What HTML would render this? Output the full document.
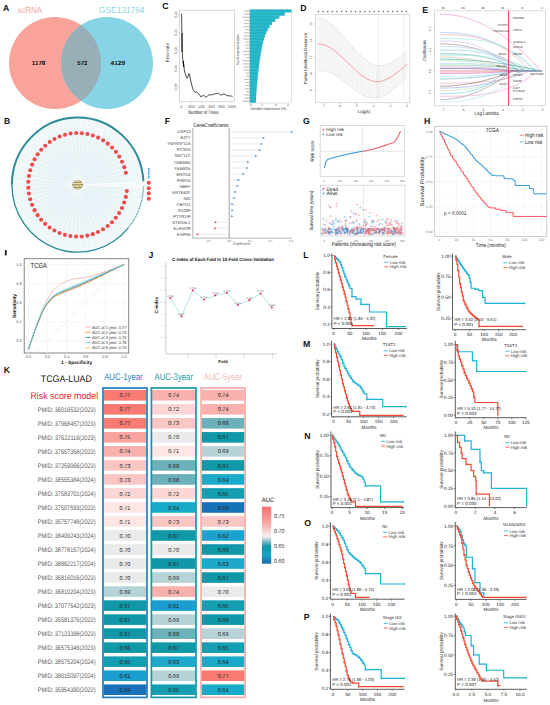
<!DOCTYPE html>
<html><head><meta charset="utf-8"><style>
html,body{margin:0;padding:0;background:#fff;width:550px;height:705px;overflow:hidden}
svg{display:block}
text{text-rendering:geometricPrecision;font-family:"Liberation Sans", sans-serif}
</style></head><body>
<svg width="550" height="705" viewBox="0 0 550 705">
<rect width="550" height="705" fill="#fff"/>
<text x="3.10" y="11.30" font-size="8.7" fill="#111" text-anchor="start" font-weight="bold">A</text>
<text x="17.50" y="13.00" font-size="8.6" fill="#f5a39c" text-anchor="start" font-weight="normal" textLength="24.5" lengthAdjust="spacingAndGlyphs">scRNA</text>
<text x="99.00" y="12.70" font-size="8.6" fill="#8fd6e6" text-anchor="start" font-weight="normal" textLength="45.5" lengthAdjust="spacingAndGlyphs">GSE131794</text>
<defs><clipPath id="cl"><circle cx="55" cy="63" r="46"/></clipPath></defs>
<circle cx="55" cy="63" r="46" fill="#f9a39b"/>
<circle cx="107" cy="63" r="46" fill="#86d4e5"/>
<circle cx="107" cy="63" r="46" fill="#99afb8" clip-path="url(#cl)"/>
<text x="38.60" y="64.80" font-size="6.0" fill="#111" text-anchor="middle" font-weight="bold" textLength="13.5" lengthAdjust="spacingAndGlyphs">1178</text>
<text x="82.30" y="64.80" font-size="6.0" fill="#111" text-anchor="middle" font-weight="bold" textLength="10" lengthAdjust="spacingAndGlyphs">572</text>
<text x="117.80" y="64.80" font-size="6.0" fill="#111" text-anchor="middle" font-weight="bold" textLength="14.5" lengthAdjust="spacingAndGlyphs">4129</text>
<text x="3.90" y="124.00" font-size="8.7" fill="#111" text-anchor="start" font-weight="bold">B</text>
<defs><radialGradient id="bg" cx="0.5" cy="0.5" r="0.5"><stop offset="0" stop-color="#cfe6ef"/><stop offset="0.35" stop-color="#e2f0f5"/><stop offset="1" stop-color="#f1f8fa"/></radialGradient></defs>
<ellipse cx="77.7" cy="184.8" rx="65.8" ry="67.3" fill="url(#bg)"/>
<line x1="77.70" y1="184.80" x2="143.42" y2="188.10" stroke="#ffffff" stroke-width="0.7" opacity="0.9"/>
<line x1="77.70" y1="184.80" x2="142.79" y2="194.67" stroke="#ffffff" stroke-width="0.7" opacity="0.9"/>
<line x1="77.70" y1="184.80" x2="141.53" y2="201.15" stroke="#ffffff" stroke-width="0.7" opacity="0.9"/>
<line x1="77.70" y1="184.80" x2="139.65" y2="207.47" stroke="#ffffff" stroke-width="0.7" opacity="0.9"/>
<line x1="77.70" y1="184.80" x2="137.18" y2="213.57" stroke="#ffffff" stroke-width="0.7" opacity="0.9"/>
<line x1="77.70" y1="184.80" x2="134.14" y2="219.40" stroke="#ffffff" stroke-width="0.7" opacity="0.9"/>
<line x1="77.70" y1="184.80" x2="130.55" y2="224.89" stroke="#ffffff" stroke-width="0.7" opacity="0.9"/>
<line x1="77.70" y1="184.80" x2="126.45" y2="230.00" stroke="#ffffff" stroke-width="0.7" opacity="0.9"/>
<line x1="77.70" y1="184.80" x2="121.89" y2="234.67" stroke="#ffffff" stroke-width="0.7" opacity="0.9"/>
<line x1="77.70" y1="184.80" x2="116.90" y2="238.86" stroke="#ffffff" stroke-width="0.7" opacity="0.9"/>
<line x1="77.70" y1="184.80" x2="111.53" y2="242.53" stroke="#ffffff" stroke-width="0.7" opacity="0.9"/>
<line x1="77.70" y1="184.80" x2="105.83" y2="245.64" stroke="#ffffff" stroke-width="0.7" opacity="0.9"/>
<line x1="77.70" y1="184.80" x2="99.87" y2="248.17" stroke="#ffffff" stroke-width="0.7" opacity="0.9"/>
<line x1="77.70" y1="184.80" x2="93.69" y2="250.08" stroke="#ffffff" stroke-width="0.7" opacity="0.9"/>
<line x1="77.70" y1="184.80" x2="87.35" y2="251.37" stroke="#ffffff" stroke-width="0.7" opacity="0.9"/>
<line x1="77.70" y1="184.80" x2="80.93" y2="252.02" stroke="#ffffff" stroke-width="0.7" opacity="0.9"/>
<line x1="77.70" y1="184.80" x2="74.47" y2="252.02" stroke="#ffffff" stroke-width="0.7" opacity="0.9"/>
<line x1="77.70" y1="184.80" x2="68.05" y2="251.37" stroke="#ffffff" stroke-width="0.7" opacity="0.9"/>
<line x1="77.70" y1="184.80" x2="61.71" y2="250.08" stroke="#ffffff" stroke-width="0.7" opacity="0.9"/>
<line x1="77.70" y1="184.80" x2="55.53" y2="248.17" stroke="#ffffff" stroke-width="0.7" opacity="0.9"/>
<line x1="77.70" y1="184.80" x2="49.57" y2="245.64" stroke="#ffffff" stroke-width="0.7" opacity="0.9"/>
<line x1="77.70" y1="184.80" x2="43.87" y2="242.53" stroke="#ffffff" stroke-width="0.7" opacity="0.9"/>
<line x1="77.70" y1="184.80" x2="38.50" y2="238.86" stroke="#ffffff" stroke-width="0.7" opacity="0.9"/>
<line x1="77.70" y1="184.80" x2="33.51" y2="234.67" stroke="#ffffff" stroke-width="0.7" opacity="0.9"/>
<line x1="77.70" y1="184.80" x2="28.95" y2="230.00" stroke="#ffffff" stroke-width="0.7" opacity="0.9"/>
<line x1="77.70" y1="184.80" x2="24.85" y2="224.89" stroke="#ffffff" stroke-width="0.7" opacity="0.9"/>
<line x1="77.70" y1="184.80" x2="21.26" y2="219.40" stroke="#ffffff" stroke-width="0.7" opacity="0.9"/>
<line x1="77.70" y1="184.80" x2="18.22" y2="213.57" stroke="#ffffff" stroke-width="0.7" opacity="0.9"/>
<line x1="77.70" y1="184.80" x2="15.75" y2="207.47" stroke="#ffffff" stroke-width="0.7" opacity="0.9"/>
<line x1="77.70" y1="184.80" x2="13.87" y2="201.15" stroke="#ffffff" stroke-width="0.7" opacity="0.9"/>
<line x1="77.70" y1="184.80" x2="12.61" y2="194.67" stroke="#ffffff" stroke-width="0.7" opacity="0.9"/>
<line x1="77.70" y1="184.80" x2="11.98" y2="188.10" stroke="#ffffff" stroke-width="0.7" opacity="0.9"/>
<line x1="77.70" y1="184.80" x2="11.98" y2="181.50" stroke="#ffffff" stroke-width="0.7" opacity="0.9"/>
<line x1="77.70" y1="184.80" x2="12.61" y2="174.93" stroke="#ffffff" stroke-width="0.7" opacity="0.9"/>
<line x1="77.70" y1="184.80" x2="13.87" y2="168.45" stroke="#ffffff" stroke-width="0.7" opacity="0.9"/>
<line x1="77.70" y1="184.80" x2="15.75" y2="162.13" stroke="#ffffff" stroke-width="0.7" opacity="0.9"/>
<line x1="77.70" y1="184.80" x2="18.22" y2="156.03" stroke="#ffffff" stroke-width="0.7" opacity="0.9"/>
<line x1="77.70" y1="184.80" x2="21.26" y2="150.20" stroke="#ffffff" stroke-width="0.7" opacity="0.9"/>
<line x1="77.70" y1="184.80" x2="24.85" y2="144.71" stroke="#ffffff" stroke-width="0.7" opacity="0.9"/>
<line x1="77.70" y1="184.80" x2="28.95" y2="139.60" stroke="#ffffff" stroke-width="0.7" opacity="0.9"/>
<line x1="77.70" y1="184.80" x2="33.51" y2="134.93" stroke="#ffffff" stroke-width="0.7" opacity="0.9"/>
<line x1="77.70" y1="184.80" x2="38.50" y2="130.74" stroke="#ffffff" stroke-width="0.7" opacity="0.9"/>
<line x1="77.70" y1="184.80" x2="43.87" y2="127.07" stroke="#ffffff" stroke-width="0.7" opacity="0.9"/>
<line x1="77.70" y1="184.80" x2="49.57" y2="123.96" stroke="#ffffff" stroke-width="0.7" opacity="0.9"/>
<line x1="77.70" y1="184.80" x2="55.53" y2="121.43" stroke="#ffffff" stroke-width="0.7" opacity="0.9"/>
<line x1="77.70" y1="184.80" x2="61.71" y2="119.52" stroke="#ffffff" stroke-width="0.7" opacity="0.9"/>
<line x1="77.70" y1="184.80" x2="68.05" y2="118.23" stroke="#ffffff" stroke-width="0.7" opacity="0.9"/>
<line x1="77.70" y1="184.80" x2="74.47" y2="117.58" stroke="#ffffff" stroke-width="0.7" opacity="0.9"/>
<line x1="77.70" y1="184.80" x2="80.93" y2="117.58" stroke="#ffffff" stroke-width="0.7" opacity="0.9"/>
<line x1="77.70" y1="184.80" x2="87.35" y2="118.23" stroke="#ffffff" stroke-width="0.7" opacity="0.9"/>
<line x1="77.70" y1="184.80" x2="93.69" y2="119.52" stroke="#ffffff" stroke-width="0.7" opacity="0.9"/>
<line x1="77.70" y1="184.80" x2="99.87" y2="121.43" stroke="#ffffff" stroke-width="0.7" opacity="0.9"/>
<line x1="77.70" y1="184.80" x2="105.83" y2="123.96" stroke="#ffffff" stroke-width="0.7" opacity="0.9"/>
<line x1="77.70" y1="184.80" x2="111.53" y2="127.07" stroke="#ffffff" stroke-width="0.7" opacity="0.9"/>
<line x1="77.70" y1="184.80" x2="116.90" y2="130.74" stroke="#ffffff" stroke-width="0.7" opacity="0.9"/>
<line x1="77.70" y1="184.80" x2="121.89" y2="134.93" stroke="#ffffff" stroke-width="0.7" opacity="0.9"/>
<line x1="77.70" y1="184.80" x2="126.45" y2="139.60" stroke="#ffffff" stroke-width="0.7" opacity="0.9"/>
<line x1="77.70" y1="184.80" x2="130.55" y2="144.71" stroke="#ffffff" stroke-width="0.7" opacity="0.9"/>
<line x1="77.70" y1="184.80" x2="134.14" y2="150.20" stroke="#ffffff" stroke-width="0.7" opacity="0.9"/>
<line x1="77.70" y1="184.80" x2="137.18" y2="156.03" stroke="#ffffff" stroke-width="0.7" opacity="0.9"/>
<line x1="77.70" y1="184.80" x2="139.65" y2="162.13" stroke="#ffffff" stroke-width="0.7" opacity="0.9"/>
<line x1="77.70" y1="184.80" x2="141.53" y2="168.45" stroke="#ffffff" stroke-width="0.7" opacity="0.9"/>
<line x1="77.70" y1="184.80" x2="142.79" y2="174.93" stroke="#ffffff" stroke-width="0.7" opacity="0.9"/>
<line x1="77.70" y1="184.80" x2="143.42" y2="181.50" stroke="#ffffff" stroke-width="0.7" opacity="0.9"/>
<line x1="77.70" y1="184.80" x2="143.44" y2="181.98" stroke="#ffffff" stroke-width="0.6" opacity="0.8"/>
<line x1="77.70" y1="184.80" x2="143.47" y2="182.92" stroke="#ffffff" stroke-width="0.6" opacity="0.8"/>
<line x1="77.70" y1="184.80" x2="143.49" y2="183.86" stroke="#ffffff" stroke-width="0.6" opacity="0.8"/>
<line x1="77.70" y1="184.80" x2="143.50" y2="184.80" stroke="#ffffff" stroke-width="0.6" opacity="0.8"/>
<line x1="77.70" y1="184.80" x2="143.49" y2="185.74" stroke="#ffffff" stroke-width="0.6" opacity="0.8"/>
<line x1="77.70" y1="184.80" x2="143.47" y2="186.68" stroke="#ffffff" stroke-width="0.6" opacity="0.8"/>
<line x1="77.70" y1="184.80" x2="143.44" y2="187.62" stroke="#ffffff" stroke-width="0.6" opacity="0.8"/>
<path d="M143.41,181.28 A65.8,67.3 0 0 0 11.90,184.80" fill="none" stroke="#2a8a99" stroke-width="2.0"/>
<path d="M11.90,184.80 A65.8,67.3 0 0 0 128.11,228.06" fill="none" stroke="#2a8a99" stroke-width="1.3"/>
<path d="M128.11,228.06 A65.8,67.3 0 0 0 143.48,186.56" fill="none" stroke="#2a8a99" stroke-width="1.2" stroke-dasharray="0.9,0.8"/>
<circle cx="126.83" cy="191.11" r="2.05" fill="#ee4a4a"/>
<circle cx="125.83" cy="196.92" r="2.05" fill="#ee4a4a"/>
<circle cx="124.20" cy="202.57" r="2.05" fill="#ee4a4a"/>
<circle cx="121.96" cy="207.99" r="2.05" fill="#ee4a4a"/>
<circle cx="119.16" cy="213.11" r="2.05" fill="#ee4a4a"/>
<circle cx="115.81" cy="217.86" r="2.05" fill="#ee4a4a"/>
<circle cx="111.97" cy="222.18" r="2.05" fill="#ee4a4a"/>
<circle cx="107.69" cy="226.01" r="2.05" fill="#ee4a4a"/>
<circle cx="103.01" cy="229.32" r="2.05" fill="#ee4a4a"/>
<circle cx="98.01" cy="232.04" r="2.05" fill="#ee4a4a"/>
<circle cx="92.74" cy="234.15" r="2.05" fill="#ee4a4a"/>
<circle cx="87.28" cy="235.62" r="2.05" fill="#ee4a4a"/>
<circle cx="81.70" cy="236.43" r="2.05" fill="#ee4a4a"/>
<circle cx="76.06" cy="236.57" r="2.05" fill="#ee4a4a"/>
<circle cx="70.44" cy="236.04" r="2.05" fill="#ee4a4a"/>
<circle cx="64.92" cy="234.84" r="2.05" fill="#ee4a4a"/>
<circle cx="59.56" cy="233.00" r="2.05" fill="#ee4a4a"/>
<circle cx="54.44" cy="230.53" r="2.05" fill="#ee4a4a"/>
<circle cx="49.62" cy="227.46" r="2.05" fill="#ee4a4a"/>
<circle cx="45.17" cy="223.84" r="2.05" fill="#ee4a4a"/>
<circle cx="41.14" cy="219.72" r="2.05" fill="#ee4a4a"/>
<circle cx="37.58" cy="215.14" r="2.05" fill="#ee4a4a"/>
<circle cx="34.54" cy="210.17" r="2.05" fill="#ee4a4a"/>
<circle cx="32.07" cy="204.87" r="2.05" fill="#ee4a4a"/>
<circle cx="30.18" cy="199.31" r="2.05" fill="#ee4a4a"/>
<circle cx="28.91" cy="193.56" r="2.05" fill="#ee4a4a"/>
<circle cx="28.28" cy="187.69" r="2.05" fill="#ee4a4a"/>
<circle cx="28.28" cy="181.79" r="2.05" fill="#ee4a4a"/>
<circle cx="28.93" cy="175.93" r="2.05" fill="#ee4a4a"/>
<circle cx="30.21" cy="170.18" r="2.05" fill="#ee4a4a"/>
<circle cx="32.11" cy="164.62" r="2.05" fill="#ee4a4a"/>
<circle cx="34.60" cy="159.33" r="2.05" fill="#ee4a4a"/>
<circle cx="37.65" cy="154.36" r="2.05" fill="#ee4a4a"/>
<circle cx="41.21" cy="149.79" r="2.05" fill="#ee4a4a"/>
<circle cx="45.26" cy="145.68" r="2.05" fill="#ee4a4a"/>
<circle cx="49.72" cy="142.07" r="2.05" fill="#ee4a4a"/>
<circle cx="54.54" cy="139.02" r="2.05" fill="#ee4a4a"/>
<circle cx="59.67" cy="136.56" r="2.05" fill="#ee4a4a"/>
<circle cx="65.03" cy="134.73" r="2.05" fill="#ee4a4a"/>
<circle cx="70.55" cy="133.54" r="2.05" fill="#ee4a4a"/>
<circle cx="76.17" cy="133.02" r="2.05" fill="#ee4a4a"/>
<circle cx="81.81" cy="133.18" r="2.05" fill="#ee4a4a"/>
<circle cx="87.39" cy="134.00" r="2.05" fill="#ee4a4a"/>
<circle cx="92.85" cy="135.49" r="2.05" fill="#ee4a4a"/>
<circle cx="98.11" cy="137.61" r="2.05" fill="#ee4a4a"/>
<circle cx="103.11" cy="140.35" r="2.05" fill="#ee4a4a"/>
<circle cx="107.78" cy="143.66" r="2.05" fill="#ee4a4a"/>
<circle cx="112.05" cy="147.50" r="2.05" fill="#ee4a4a"/>
<circle cx="115.88" cy="151.84" r="2.05" fill="#ee4a4a"/>
<circle cx="119.22" cy="156.59" r="2.05" fill="#ee4a4a"/>
<circle cx="122.01" cy="161.72" r="2.05" fill="#ee4a4a"/>
<circle cx="124.24" cy="167.14" r="2.05" fill="#ee4a4a"/>
<circle cx="125.85" cy="172.80" r="2.05" fill="#ee4a4a"/>
<circle cx="148.8" cy="182.7" r="2.05" fill="#ee4a4a"/>
<circle cx="148.8" cy="188.2" r="2.05" fill="#ee4a4a"/>
<circle cx="148.8" cy="193.4" r="2.05" fill="#ee4a4a"/>
<circle cx="148.8" cy="198.8" r="2.05" fill="#ee4a4a"/>
<rect x="147.90" y="168.00" width="1.80" height="1.10" fill="#2aa7d6" stroke="none" stroke-width="0.5"/>
<rect x="147.90" y="169.60" width="1.80" height="1.10" fill="#2aa7d6" stroke="none" stroke-width="0.5"/>
<rect x="147.90" y="171.20" width="1.80" height="1.10" fill="#2aa7d6" stroke="none" stroke-width="0.5"/>
<rect x="147.90" y="172.80" width="1.80" height="1.10" fill="#2aa7d6" stroke="none" stroke-width="0.5"/>
<rect x="147.90" y="174.40" width="1.80" height="1.10" fill="#2aa7d6" stroke="none" stroke-width="0.5"/>
<rect x="147.90" y="176.00" width="1.80" height="1.10" fill="#2aa7d6" stroke="none" stroke-width="0.5"/>
<rect x="147.90" y="177.60" width="1.80" height="1.10" fill="#2aa7d6" stroke="none" stroke-width="0.5"/>
<ellipse cx="77.7" cy="184.8" rx="4.9" ry="4.6" fill="#e9dca8" stroke="#8a7a4a" stroke-width="0.4"/>
<line x1="74.10" y1="182.30" x2="81.30" y2="182.30" stroke="#5e5230" stroke-width="0.65"/>
<line x1="72.10" y1="184.80" x2="83.30" y2="184.80" stroke="#5e5230" stroke-width="0.65"/>
<line x1="73.90" y1="187.30" x2="81.50" y2="187.30" stroke="#5e5230" stroke-width="0.65"/>
<text x="3.70" y="372.90" font-size="8.7" fill="#111" text-anchor="start" font-weight="bold">K</text>
<text x="66.30" y="381.60" font-size="9.6" fill="#111" text-anchor="middle" font-weight="normal" textLength="50.9" lengthAdjust="spacingAndGlyphs">TCGA-LUAD</text>
<text x="64.30" y="398.60" font-size="9.6" fill="#ee1c25" text-anchor="middle" font-weight="normal" textLength="67.7" lengthAdjust="spacingAndGlyphs">Risk score model</text>
<text x="123.40" y="380.40" font-size="9.6" fill="#2a86c4" text-anchor="middle" font-weight="normal" textLength="38.5" lengthAdjust="spacingAndGlyphs">AUC-1year</text>
<text x="173.80" y="380.40" font-size="9.6" fill="#1a9aaa" text-anchor="middle" font-weight="normal" textLength="38.5" lengthAdjust="spacingAndGlyphs">AUC-3year</text>
<text x="223.00" y="380.40" font-size="9.6" fill="#f7bcb8" text-anchor="middle" font-weight="normal" textLength="38.5" lengthAdjust="spacingAndGlyphs">AUC-5year</text>
<rect x="103.60" y="390.00" width="42.80" height="10.60" fill="#f87a72" stroke="none" stroke-width="0.5"/>
<text x="125.00" y="397.40" font-size="5.6" fill="#222" text-anchor="middle" font-weight="normal">0.77</text>
<rect x="151.80" y="390.00" width="43.70" height="10.60" fill="#f9b1ae" stroke="none" stroke-width="0.5"/>
<text x="173.65" y="397.40" font-size="5.6" fill="#222" text-anchor="middle" font-weight="normal">0.74</text>
<rect x="201.60" y="390.00" width="43.00" height="10.60" fill="#f9b1ae" stroke="none" stroke-width="0.5"/>
<text x="223.10" y="397.40" font-size="5.6" fill="#222" text-anchor="middle" font-weight="normal">0.74</text>
<text x="95.50" y="411.82" font-size="6.7" fill="#5a5a5a" text-anchor="end" font-weight="normal" textLength="57.7" lengthAdjust="spacingAndGlyphs">PMID: 36016532(2023)</text>
<rect x="103.60" y="404.02" width="42.80" height="10.60" fill="#f87a72" stroke="none" stroke-width="0.5"/>
<text x="125.00" y="411.42" font-size="5.6" fill="#222" text-anchor="middle" font-weight="normal">0.77</text>
<rect x="151.80" y="404.02" width="43.70" height="10.60" fill="#fcd6d4" stroke="none" stroke-width="0.5"/>
<text x="173.65" y="411.42" font-size="5.6" fill="#222" text-anchor="middle" font-weight="normal">0.72</text>
<rect x="201.60" y="404.02" width="43.00" height="10.60" fill="#f9b1ae" stroke="none" stroke-width="0.5"/>
<text x="223.10" y="411.42" font-size="5.6" fill="#222" text-anchor="middle" font-weight="normal">0.74</text>
<text x="95.50" y="425.84" font-size="6.7" fill="#5a5a5a" text-anchor="end" font-weight="normal" textLength="57.7" lengthAdjust="spacingAndGlyphs">PMID: 37968457(2023)</text>
<rect x="103.60" y="418.04" width="42.80" height="10.60" fill="#f87a72" stroke="none" stroke-width="0.5"/>
<text x="125.00" y="425.44" font-size="5.6" fill="#222" text-anchor="middle" font-weight="normal">0.77</text>
<rect x="151.80" y="418.04" width="43.70" height="10.60" fill="#fac6c4" stroke="none" stroke-width="0.5"/>
<text x="173.65" y="425.44" font-size="5.6" fill="#222" text-anchor="middle" font-weight="normal">0.73</text>
<rect x="201.60" y="418.04" width="43.00" height="10.60" fill="#6cb0ba" stroke="none" stroke-width="0.5"/>
<text x="223.10" y="425.44" font-size="5.6" fill="#222" text-anchor="middle" font-weight="normal">0.68</text>
<text x="95.50" y="439.86" font-size="6.7" fill="#5a5a5a" text-anchor="end" font-weight="normal" textLength="57.7" lengthAdjust="spacingAndGlyphs">PMID: 37622116(2023)</text>
<rect x="103.60" y="432.06" width="42.80" height="10.60" fill="#f9a3a1" stroke="none" stroke-width="0.5"/>
<text x="125.00" y="439.46" font-size="5.6" fill="#222" text-anchor="middle" font-weight="normal">0.75</text>
<rect x="151.80" y="432.06" width="43.70" height="10.60" fill="#eaeaea" stroke="none" stroke-width="0.5"/>
<text x="173.65" y="439.46" font-size="5.6" fill="#222" text-anchor="middle" font-weight="normal">0.70</text>
<rect x="201.60" y="432.06" width="43.00" height="10.60" fill="#1098a8" stroke="none" stroke-width="0.5"/>
<text x="223.10" y="439.46" font-size="5.6" fill="#222" text-anchor="middle" font-weight="normal">0.67</text>
<text x="95.50" y="453.88" font-size="6.7" fill="#5a5a5a" text-anchor="end" font-weight="normal" textLength="57.7" lengthAdjust="spacingAndGlyphs">PMID: 37657358(2023)</text>
<rect x="103.60" y="446.08" width="42.80" height="10.60" fill="#f9b1ae" stroke="none" stroke-width="0.5"/>
<text x="125.00" y="453.48" font-size="5.6" fill="#222" text-anchor="middle" font-weight="normal">0.74</text>
<rect x="151.80" y="446.08" width="43.70" height="10.60" fill="#fde6e4" stroke="none" stroke-width="0.5"/>
<text x="173.65" y="453.48" font-size="5.6" fill="#222" text-anchor="middle" font-weight="normal">0.71</text>
<rect x="201.60" y="446.08" width="43.00" height="10.60" fill="#b6d3d8" stroke="none" stroke-width="0.5"/>
<text x="223.10" y="453.48" font-size="5.6" fill="#222" text-anchor="middle" font-weight="normal">0.69</text>
<text x="95.50" y="467.90" font-size="6.7" fill="#5a5a5a" text-anchor="end" font-weight="normal" textLength="57.7" lengthAdjust="spacingAndGlyphs">PMID: 37259066(2023)</text>
<rect x="103.60" y="460.10" width="42.80" height="10.60" fill="#fac6c4" stroke="none" stroke-width="0.5"/>
<text x="125.00" y="467.50" font-size="5.6" fill="#222" text-anchor="middle" font-weight="normal">0.73</text>
<rect x="151.80" y="460.10" width="43.70" height="10.60" fill="#6cb0ba" stroke="none" stroke-width="0.5"/>
<text x="173.65" y="467.50" font-size="5.6" fill="#222" text-anchor="middle" font-weight="normal">0.68</text>
<rect x="201.60" y="460.10" width="43.00" height="10.60" fill="#1098a8" stroke="none" stroke-width="0.5"/>
<text x="223.10" y="467.50" font-size="5.6" fill="#222" text-anchor="middle" font-weight="normal">0.67</text>
<text x="95.50" y="481.92" font-size="6.7" fill="#5a5a5a" text-anchor="end" font-weight="normal" textLength="57.7" lengthAdjust="spacingAndGlyphs">PMID: 38555384(2024)</text>
<rect x="103.60" y="474.12" width="42.80" height="10.60" fill="#fac6c4" stroke="none" stroke-width="0.5"/>
<text x="125.00" y="481.52" font-size="5.6" fill="#222" text-anchor="middle" font-weight="normal">0.73</text>
<rect x="151.80" y="474.12" width="43.70" height="10.60" fill="#6cb0ba" stroke="none" stroke-width="0.5"/>
<text x="173.65" y="481.52" font-size="5.6" fill="#222" text-anchor="middle" font-weight="normal">0.68</text>
<rect x="201.60" y="474.12" width="43.00" height="10.60" fill="#18aac8" stroke="none" stroke-width="0.5"/>
<text x="223.10" y="481.52" font-size="5.6" fill="#222" text-anchor="middle" font-weight="normal">0.64</text>
<text x="95.50" y="495.94" font-size="6.7" fill="#5a5a5a" text-anchor="end" font-weight="normal" textLength="57.7" lengthAdjust="spacingAndGlyphs">PMID: 37583701(2024)</text>
<rect x="103.60" y="488.14" width="42.80" height="10.60" fill="#fcd6d4" stroke="none" stroke-width="0.5"/>
<text x="125.00" y="495.54" font-size="5.6" fill="#222" text-anchor="middle" font-weight="normal">0.72</text>
<rect x="151.80" y="488.14" width="43.70" height="10.60" fill="#fcd6d4" stroke="none" stroke-width="0.5"/>
<text x="173.65" y="495.54" font-size="5.6" fill="#222" text-anchor="middle" font-weight="normal">0.72</text>
<rect x="201.60" y="488.14" width="43.00" height="10.60" fill="#139eb2" stroke="none" stroke-width="0.5"/>
<text x="223.10" y="495.54" font-size="5.6" fill="#222" text-anchor="middle" font-weight="normal">0.65</text>
<text x="95.50" y="509.96" font-size="6.7" fill="#5a5a5a" text-anchor="end" font-weight="normal" textLength="57.7" lengthAdjust="spacingAndGlyphs">PMID: 37507593(2023)</text>
<rect x="103.60" y="502.16" width="42.80" height="10.60" fill="#fde6e4" stroke="none" stroke-width="0.5"/>
<text x="125.00" y="509.56" font-size="5.6" fill="#222" text-anchor="middle" font-weight="normal">0.71</text>
<rect x="151.80" y="502.16" width="43.70" height="10.60" fill="#18aac8" stroke="none" stroke-width="0.5"/>
<text x="173.65" y="509.56" font-size="5.6" fill="#222" text-anchor="middle" font-weight="normal">0.64</text>
<rect x="201.60" y="502.16" width="43.00" height="10.60" fill="#1872b8" stroke="none" stroke-width="0.5"/>
<text x="223.10" y="509.56" font-size="5.6" fill="#222" text-anchor="middle" font-weight="normal">0.59</text>
<text x="95.50" y="523.98" font-size="6.7" fill="#5a5a5a" text-anchor="end" font-weight="normal" textLength="57.7" lengthAdjust="spacingAndGlyphs">PMID: 35757748(2022)</text>
<rect x="103.60" y="516.18" width="42.80" height="10.60" fill="#fde6e4" stroke="none" stroke-width="0.5"/>
<text x="125.00" y="523.58" font-size="5.6" fill="#222" text-anchor="middle" font-weight="normal">0.71</text>
<rect x="151.80" y="516.18" width="43.70" height="10.60" fill="#fac6c4" stroke="none" stroke-width="0.5"/>
<text x="173.65" y="523.58" font-size="5.6" fill="#222" text-anchor="middle" font-weight="normal">0.73</text>
<rect x="201.60" y="516.18" width="43.00" height="10.60" fill="#fac6c4" stroke="none" stroke-width="0.5"/>
<text x="223.10" y="523.58" font-size="5.6" fill="#222" text-anchor="middle" font-weight="normal">0.73</text>
<text x="95.50" y="538.00" font-size="6.7" fill="#5a5a5a" text-anchor="end" font-weight="normal" textLength="57.7" lengthAdjust="spacingAndGlyphs">PMID: 38409243(2024)</text>
<rect x="103.60" y="530.20" width="42.80" height="10.60" fill="#eaeaea" stroke="none" stroke-width="0.5"/>
<text x="125.00" y="537.60" font-size="5.6" fill="#222" text-anchor="middle" font-weight="normal">0.70</text>
<rect x="151.80" y="530.20" width="43.70" height="10.60" fill="#1098a8" stroke="none" stroke-width="0.5"/>
<text x="173.65" y="537.60" font-size="5.6" fill="#222" text-anchor="middle" font-weight="normal">0.67</text>
<rect x="201.60" y="530.20" width="43.00" height="10.60" fill="#1ca2ce" stroke="none" stroke-width="0.5"/>
<text x="223.10" y="537.60" font-size="5.6" fill="#222" text-anchor="middle" font-weight="normal">0.62</text>
<text x="95.50" y="552.02" font-size="6.7" fill="#5a5a5a" text-anchor="end" font-weight="normal" textLength="57.7" lengthAdjust="spacingAndGlyphs">PMID: 38778157(2024)</text>
<rect x="103.60" y="544.22" width="42.80" height="10.60" fill="#eaeaea" stroke="none" stroke-width="0.5"/>
<text x="125.00" y="551.62" font-size="5.6" fill="#222" text-anchor="middle" font-weight="normal">0.70</text>
<rect x="151.80" y="544.22" width="43.70" height="10.60" fill="#eaeaea" stroke="none" stroke-width="0.5"/>
<text x="173.65" y="551.62" font-size="5.6" fill="#222" text-anchor="middle" font-weight="normal">0.70</text>
<rect x="201.60" y="544.22" width="43.00" height="10.60" fill="#1098a8" stroke="none" stroke-width="0.5"/>
<text x="223.10" y="551.62" font-size="5.6" fill="#222" text-anchor="middle" font-weight="normal">0.66</text>
<text x="95.50" y="566.04" font-size="6.7" fill="#5a5a5a" text-anchor="end" font-weight="normal" textLength="57.7" lengthAdjust="spacingAndGlyphs">PMID: 38862217(2024)</text>
<rect x="103.60" y="558.24" width="42.80" height="10.60" fill="#eaeaea" stroke="none" stroke-width="0.5"/>
<text x="125.00" y="565.64" font-size="5.6" fill="#222" text-anchor="middle" font-weight="normal">0.70</text>
<rect x="151.80" y="558.24" width="43.70" height="10.60" fill="#1098a8" stroke="none" stroke-width="0.5"/>
<text x="173.65" y="565.64" font-size="5.6" fill="#222" text-anchor="middle" font-weight="normal">0.67</text>
<rect x="201.60" y="558.24" width="43.00" height="10.60" fill="#1ea8cc" stroke="none" stroke-width="0.5"/>
<text x="223.10" y="565.64" font-size="5.6" fill="#222" text-anchor="middle" font-weight="normal">0.63</text>
<text x="95.50" y="580.06" font-size="6.7" fill="#5a5a5a" text-anchor="end" font-weight="normal" textLength="57.7" lengthAdjust="spacingAndGlyphs">PMID: 36816016(2023)</text>
<rect x="103.60" y="572.26" width="42.80" height="10.60" fill="#eaeaea" stroke="none" stroke-width="0.5"/>
<text x="125.00" y="579.66" font-size="5.6" fill="#222" text-anchor="middle" font-weight="normal">0.70</text>
<rect x="151.80" y="572.26" width="43.70" height="10.60" fill="#b6d3d8" stroke="none" stroke-width="0.5"/>
<text x="173.65" y="579.66" font-size="5.6" fill="#222" text-anchor="middle" font-weight="normal">0.69</text>
<rect x="201.60" y="572.26" width="43.00" height="10.60" fill="#1098a8" stroke="none" stroke-width="0.5"/>
<text x="223.10" y="579.66" font-size="5.6" fill="#222" text-anchor="middle" font-weight="normal">0.67</text>
<text x="95.50" y="594.08" font-size="6.7" fill="#5a5a5a" text-anchor="end" font-weight="normal" textLength="57.7" lengthAdjust="spacingAndGlyphs">PMID: 36810204(2023)</text>
<rect x="103.60" y="586.28" width="42.80" height="10.60" fill="#b6d3d8" stroke="none" stroke-width="0.5"/>
<text x="125.00" y="593.68" font-size="5.6" fill="#222" text-anchor="middle" font-weight="normal">0.69</text>
<rect x="151.80" y="586.28" width="43.70" height="10.60" fill="#f9b1ae" stroke="none" stroke-width="0.5"/>
<text x="173.65" y="593.68" font-size="5.6" fill="#222" text-anchor="middle" font-weight="normal">0.74</text>
<rect x="201.60" y="586.28" width="43.00" height="10.60" fill="#eaeaea" stroke="none" stroke-width="0.5"/>
<text x="223.10" y="593.68" font-size="5.6" fill="#222" text-anchor="middle" font-weight="normal">0.70</text>
<text x="95.50" y="608.10" font-size="6.7" fill="#5a5a5a" text-anchor="end" font-weight="normal" textLength="57.7" lengthAdjust="spacingAndGlyphs">PMID: 37077542(2023)</text>
<rect x="103.60" y="600.30" width="42.80" height="10.60" fill="#1098a8" stroke="none" stroke-width="0.5"/>
<text x="125.00" y="607.70" font-size="5.6" fill="#222" text-anchor="middle" font-weight="normal">0.67</text>
<rect x="151.80" y="600.30" width="43.70" height="10.60" fill="#1a9dcf" stroke="none" stroke-width="0.5"/>
<text x="173.65" y="607.70" font-size="5.6" fill="#222" text-anchor="middle" font-weight="normal">0.61</text>
<rect x="201.60" y="600.30" width="43.00" height="10.60" fill="#139eb2" stroke="none" stroke-width="0.5"/>
<text x="223.10" y="607.70" font-size="5.6" fill="#222" text-anchor="middle" font-weight="normal">0.65</text>
<text x="95.50" y="622.12" font-size="6.7" fill="#5a5a5a" text-anchor="end" font-weight="normal" textLength="57.7" lengthAdjust="spacingAndGlyphs">PMID: 35581376(2022)</text>
<rect x="103.60" y="614.32" width="42.80" height="10.60" fill="#1098a8" stroke="none" stroke-width="0.5"/>
<text x="125.00" y="621.72" font-size="5.6" fill="#222" text-anchor="middle" font-weight="normal">0.67</text>
<rect x="151.80" y="614.32" width="43.70" height="10.60" fill="#b6d3d8" stroke="none" stroke-width="0.5"/>
<text x="173.65" y="621.72" font-size="5.6" fill="#222" text-anchor="middle" font-weight="normal">0.69</text>
<rect x="201.60" y="614.32" width="43.00" height="10.60" fill="#1098a8" stroke="none" stroke-width="0.5"/>
<text x="223.10" y="621.72" font-size="5.6" fill="#222" text-anchor="middle" font-weight="normal">0.66</text>
<text x="95.50" y="636.14" font-size="6.7" fill="#5a5a5a" text-anchor="end" font-weight="normal" textLength="57.7" lengthAdjust="spacingAndGlyphs">PMID: 37123398(2023)</text>
<rect x="103.60" y="628.34" width="42.80" height="10.60" fill="#1098a8" stroke="none" stroke-width="0.5"/>
<text x="125.00" y="635.74" font-size="5.6" fill="#222" text-anchor="middle" font-weight="normal">0.67</text>
<rect x="151.80" y="628.34" width="43.70" height="10.60" fill="#6cb0ba" stroke="none" stroke-width="0.5"/>
<text x="173.65" y="635.74" font-size="5.6" fill="#222" text-anchor="middle" font-weight="normal">0.68</text>
<rect x="201.60" y="628.34" width="43.00" height="10.60" fill="#b6d3d8" stroke="none" stroke-width="0.5"/>
<text x="223.10" y="635.74" font-size="5.6" fill="#222" text-anchor="middle" font-weight="normal">0.69</text>
<text x="95.50" y="650.16" font-size="6.7" fill="#5a5a5a" text-anchor="end" font-weight="normal" textLength="57.7" lengthAdjust="spacingAndGlyphs">PMID: 36575346(2023)</text>
<rect x="103.60" y="642.36" width="42.80" height="10.60" fill="#1098a8" stroke="none" stroke-width="0.5"/>
<text x="125.00" y="649.76" font-size="5.6" fill="#222" text-anchor="middle" font-weight="normal">0.66</text>
<rect x="151.80" y="642.36" width="43.70" height="10.60" fill="#1098a8" stroke="none" stroke-width="0.5"/>
<text x="173.65" y="649.76" font-size="5.6" fill="#222" text-anchor="middle" font-weight="normal">0.67</text>
<rect x="201.60" y="642.36" width="43.00" height="10.60" fill="#139eb2" stroke="none" stroke-width="0.5"/>
<text x="223.10" y="649.76" font-size="5.6" fill="#222" text-anchor="middle" font-weight="normal">0.65</text>
<text x="95.50" y="664.18" font-size="6.7" fill="#5a5a5a" text-anchor="end" font-weight="normal" textLength="57.7" lengthAdjust="spacingAndGlyphs">PMID: 38575204(2024)</text>
<rect x="103.60" y="656.38" width="42.80" height="10.60" fill="#139eb2" stroke="none" stroke-width="0.5"/>
<text x="125.00" y="663.78" font-size="5.6" fill="#222" text-anchor="middle" font-weight="normal">0.65</text>
<rect x="151.80" y="656.38" width="43.70" height="10.60" fill="#1ea8cc" stroke="none" stroke-width="0.5"/>
<text x="173.65" y="663.78" font-size="5.6" fill="#222" text-anchor="middle" font-weight="normal">0.63</text>
<rect x="201.60" y="656.38" width="43.00" height="10.60" fill="#18aac8" stroke="none" stroke-width="0.5"/>
<text x="223.10" y="663.78" font-size="5.6" fill="#222" text-anchor="middle" font-weight="normal">0.64</text>
<text x="95.50" y="678.20" font-size="6.7" fill="#5a5a5a" text-anchor="end" font-weight="normal" textLength="57.7" lengthAdjust="spacingAndGlyphs">PMID: 38015097(2024)</text>
<rect x="103.60" y="670.40" width="42.80" height="10.60" fill="#1a9dcf" stroke="none" stroke-width="0.5"/>
<text x="125.00" y="677.80" font-size="5.6" fill="#222" text-anchor="middle" font-weight="normal">0.61</text>
<rect x="151.80" y="670.40" width="43.70" height="10.60" fill="#b6d3d8" stroke="none" stroke-width="0.5"/>
<text x="173.65" y="677.80" font-size="5.6" fill="#222" text-anchor="middle" font-weight="normal">0.69</text>
<rect x="201.60" y="670.40" width="43.00" height="10.60" fill="#f87a72" stroke="none" stroke-width="0.5"/>
<text x="223.10" y="677.80" font-size="5.6" fill="#222" text-anchor="middle" font-weight="normal">0.77</text>
<text x="95.50" y="692.22" font-size="6.7" fill="#5a5a5a" text-anchor="end" font-weight="normal" textLength="57.7" lengthAdjust="spacingAndGlyphs">PMID: 35954390(2022)</text>
<rect x="103.60" y="684.42" width="42.80" height="10.60" fill="#1872b8" stroke="none" stroke-width="0.5"/>
<text x="125.00" y="691.82" font-size="5.6" fill="#222" text-anchor="middle" font-weight="normal">0.59</text>
<rect x="151.80" y="684.42" width="43.70" height="10.60" fill="#139eb2" stroke="none" stroke-width="0.5"/>
<text x="173.65" y="691.82" font-size="5.6" fill="#222" text-anchor="middle" font-weight="normal">0.65</text>
<rect x="201.60" y="684.42" width="43.00" height="10.60" fill="#18aac8" stroke="none" stroke-width="0.5"/>
<text x="223.10" y="691.82" font-size="5.6" fill="#222" text-anchor="middle" font-weight="normal">0.64</text>
<rect x="103.00" y="388.00" width="44.00" height="309.40" fill="none" stroke="#1f80c0" stroke-width="1.7"/>
<rect x="151.40" y="388.00" width="44.60" height="309.40" fill="none" stroke="#1697a8" stroke-width="1.7"/>
<rect x="201.10" y="388.00" width="44.00" height="309.40" fill="none" stroke="#f5aca8" stroke-width="1.7"/>
<text x="261.70" y="501.80" font-size="6.4" fill="#222" text-anchor="start" font-weight="normal" textLength="12.6" lengthAdjust="spacingAndGlyphs">AUC</text>
<defs><linearGradient id="cb" x1="0" y1="0" x2="0" y2="1"><stop offset="0" stop-color="#f76e6e"/><stop offset="0.3" stop-color="#f9aaa8"/><stop offset="0.48" stop-color="#fbe4e2"/><stop offset="0.53" stop-color="#eeeeee"/><stop offset="0.62" stop-color="#6fb7c1"/><stop offset="0.7" stop-color="#0f98a8"/><stop offset="0.85" stop-color="#16a2c6"/><stop offset="1" stop-color="#1a6cb0"/></linearGradient></defs>
<rect x="261.90" y="506.70" width="9.30" height="57.00" fill="url(#cb)" stroke="none" stroke-width="0.5"/>
<text x="274.00" y="518.20" font-size="6.0" fill="#333" text-anchor="start" font-weight="normal" textLength="10.5" lengthAdjust="spacingAndGlyphs">0.75</text>
<text x="274.00" y="533.20" font-size="6.0" fill="#333" text-anchor="start" font-weight="normal" textLength="10.5" lengthAdjust="spacingAndGlyphs">0.70</text>
<text x="274.00" y="548.00" font-size="6.0" fill="#333" text-anchor="start" font-weight="normal" textLength="10.5" lengthAdjust="spacingAndGlyphs">0.65</text>
<text x="274.00" y="562.90" font-size="6.0" fill="#333" text-anchor="start" font-weight="normal" textLength="10.5" lengthAdjust="spacingAndGlyphs">0.60</text>
<text x="162.20" y="9.30" font-size="8.7" fill="#111" text-anchor="start" font-weight="bold">C</text>
<rect x="179.60" y="10.20" width="55.00" height="91.10" fill="none" stroke="#c8c8c8" stroke-width="0.7"/>
<text x="176.80" y="14.50" font-size="3.6" fill="#555" text-anchor="middle" font-weight="normal" transform="rotate(-90 176.8 14.5)">0.42</text>
<line x1="178.20" y1="14.50" x2="179.60" y2="14.50" stroke="#999" stroke-width="0.4"/>
<text x="176.80" y="32.60" font-size="3.6" fill="#555" text-anchor="middle" font-weight="normal" transform="rotate(-90 176.8 32.6)">0.41</text>
<line x1="178.20" y1="32.60" x2="179.60" y2="32.60" stroke="#999" stroke-width="0.4"/>
<text x="176.80" y="50.70" font-size="3.6" fill="#555" text-anchor="middle" font-weight="normal" transform="rotate(-90 176.8 50.7)">0.40</text>
<line x1="178.20" y1="50.70" x2="179.60" y2="50.70" stroke="#999" stroke-width="0.4"/>
<text x="176.80" y="68.80" font-size="3.6" fill="#555" text-anchor="middle" font-weight="normal" transform="rotate(-90 176.8 68.8)">0.39</text>
<line x1="178.20" y1="68.80" x2="179.60" y2="68.80" stroke="#999" stroke-width="0.4"/>
<text x="176.80" y="86.90" font-size="3.6" fill="#555" text-anchor="middle" font-weight="normal" transform="rotate(-90 176.8 86.9)">0.38</text>
<line x1="178.20" y1="86.90" x2="179.60" y2="86.90" stroke="#999" stroke-width="0.4"/>
<text x="168.60" y="52.50" font-size="4.6" fill="#333" text-anchor="middle" font-weight="normal" transform="rotate(-90 168.6 52.5)">Error rate</text>
<text x="181.30" y="107.80" font-size="3.8" fill="#555" text-anchor="middle" font-weight="normal">0</text>
<line x1="181.30" y1="101.30" x2="181.30" y2="102.60" stroke="#999" stroke-width="0.4"/>
<text x="191.40" y="107.80" font-size="3.8" fill="#555" text-anchor="middle" font-weight="normal">200</text>
<line x1="191.40" y1="101.30" x2="191.40" y2="102.60" stroke="#999" stroke-width="0.4"/>
<text x="201.50" y="107.80" font-size="3.8" fill="#555" text-anchor="middle" font-weight="normal">400</text>
<line x1="201.50" y1="101.30" x2="201.50" y2="102.60" stroke="#999" stroke-width="0.4"/>
<text x="211.60" y="107.80" font-size="3.8" fill="#555" text-anchor="middle" font-weight="normal">600</text>
<line x1="211.60" y1="101.30" x2="211.60" y2="102.60" stroke="#999" stroke-width="0.4"/>
<text x="221.70" y="107.80" font-size="3.8" fill="#555" text-anchor="middle" font-weight="normal">800</text>
<line x1="221.70" y1="101.30" x2="221.70" y2="102.60" stroke="#999" stroke-width="0.4"/>
<text x="231.80" y="107.80" font-size="3.8" fill="#555" text-anchor="middle" font-weight="normal">1000</text>
<line x1="231.80" y1="101.30" x2="231.80" y2="102.60" stroke="#999" stroke-width="0.4"/>
<text x="203.40" y="114.20" font-size="5.2" fill="#222" text-anchor="middle" font-weight="normal" textLength="30.5" lengthAdjust="spacingAndGlyphs">Number of Trees</text>
<polyline points="181.60,13.50 181.80,30.00 182.10,45.00 182.50,58.00 183.20,62.00 184.00,67.00 184.60,72.00 185.50,74.00 186.30,77.00 187.20,78.30 188.20,76.00 189.00,73.50 189.80,76.00 190.50,80.00 191.30,83.00 192.50,88.00 193.50,90.50 195.00,92.50 196.50,92.00 198.00,93.20 199.50,94.50 201.00,97.00 202.20,96.00 203.50,95.00 204.80,96.50 206.00,97.20 207.50,96.00 209.00,94.60 211.00,95.20 213.00,94.20 215.00,94.00 216.50,93.50 218.00,93.00 219.50,94.20 221.00,95.20 222.50,94.30 224.00,94.00 225.50,94.60 227.00,95.50 229.00,96.00 230.50,95.80 232.50,96.50" fill="none" stroke="#111" stroke-width="0.75"/>
<line x1="182.00" y1="33.00" x2="182.00" y2="52.00" stroke="#111" stroke-width="1.0"/>
<line x1="183.30" y1="61.00" x2="183.70" y2="67.00" stroke="#111" stroke-width="1.3"/>
<rect x="249.70" y="9.50" width="41.80" height="93.50" fill="none" stroke="#d0d0d0" stroke-width="0.6"/>
<polygon points="249.70,9.50 291.50,9.50 291.50,12.61 284.76,12.61 284.76,15.71 279.33,15.71 279.33,18.82 275.23,18.82 275.23,21.93 272.10,21.93 272.10,25.03 269.68,25.03 269.68,28.14 267.79,28.14 267.79,31.25 266.28,31.25 266.28,34.35 265.05,34.35 265.05,37.46 264.04,37.46 264.04,40.57 263.18,40.57 263.18,43.67 262.45,43.67 262.45,46.78 261.80,46.78 261.80,49.89 261.21,49.89 261.21,52.99 260.69,52.99 260.69,56.10 260.20,56.10 260.20,59.21 259.75,59.21 259.75,62.31 259.32,62.31 259.32,65.42 258.92,65.42 258.92,68.53 258.54,68.53 258.54,71.63 258.19,71.63 258.19,74.74 257.85,74.74 257.85,77.85 257.53,77.85 257.53,80.95 257.23,80.95 257.23,84.06 256.95,84.06 256.95,87.17 256.70,87.17 256.70,90.27 256.47,90.27 256.47,93.38 256.27,93.38 256.27,96.49 256.10,96.49 256.10,99.59 256.00,99.59 256.00,102.70 249.70,102.70" fill="#22b4c7"/>
<line x1="249.70" y1="12.61" x2="291.50" y2="12.61" stroke="#ffffff" stroke-width="0.3" opacity="0.35"/>
<line x1="249.70" y1="15.71" x2="291.50" y2="15.71" stroke="#ffffff" stroke-width="0.3" opacity="0.35"/>
<line x1="249.70" y1="18.82" x2="291.50" y2="18.82" stroke="#ffffff" stroke-width="0.3" opacity="0.35"/>
<line x1="249.70" y1="21.93" x2="291.50" y2="21.93" stroke="#ffffff" stroke-width="0.3" opacity="0.35"/>
<line x1="249.70" y1="25.03" x2="291.50" y2="25.03" stroke="#ffffff" stroke-width="0.3" opacity="0.35"/>
<line x1="249.70" y1="28.14" x2="291.50" y2="28.14" stroke="#ffffff" stroke-width="0.3" opacity="0.35"/>
<line x1="249.70" y1="31.25" x2="291.50" y2="31.25" stroke="#ffffff" stroke-width="0.3" opacity="0.35"/>
<line x1="249.70" y1="34.35" x2="291.50" y2="34.35" stroke="#ffffff" stroke-width="0.3" opacity="0.35"/>
<line x1="249.70" y1="37.46" x2="291.50" y2="37.46" stroke="#ffffff" stroke-width="0.3" opacity="0.35"/>
<line x1="249.70" y1="40.57" x2="291.50" y2="40.57" stroke="#ffffff" stroke-width="0.3" opacity="0.35"/>
<line x1="249.70" y1="43.67" x2="291.50" y2="43.67" stroke="#ffffff" stroke-width="0.3" opacity="0.35"/>
<line x1="249.70" y1="46.78" x2="291.50" y2="46.78" stroke="#ffffff" stroke-width="0.3" opacity="0.35"/>
<line x1="249.70" y1="49.89" x2="291.50" y2="49.89" stroke="#ffffff" stroke-width="0.3" opacity="0.35"/>
<line x1="249.70" y1="52.99" x2="291.50" y2="52.99" stroke="#ffffff" stroke-width="0.3" opacity="0.35"/>
<line x1="249.70" y1="56.10" x2="291.50" y2="56.10" stroke="#ffffff" stroke-width="0.3" opacity="0.35"/>
<line x1="249.70" y1="59.21" x2="291.50" y2="59.21" stroke="#ffffff" stroke-width="0.3" opacity="0.35"/>
<line x1="249.70" y1="62.31" x2="291.50" y2="62.31" stroke="#ffffff" stroke-width="0.3" opacity="0.35"/>
<line x1="249.70" y1="65.42" x2="291.50" y2="65.42" stroke="#ffffff" stroke-width="0.3" opacity="0.35"/>
<line x1="249.70" y1="68.53" x2="291.50" y2="68.53" stroke="#ffffff" stroke-width="0.3" opacity="0.35"/>
<line x1="249.70" y1="71.63" x2="291.50" y2="71.63" stroke="#ffffff" stroke-width="0.3" opacity="0.35"/>
<line x1="249.70" y1="74.74" x2="291.50" y2="74.74" stroke="#ffffff" stroke-width="0.3" opacity="0.35"/>
<line x1="249.70" y1="77.85" x2="291.50" y2="77.85" stroke="#ffffff" stroke-width="0.3" opacity="0.35"/>
<line x1="249.70" y1="80.95" x2="291.50" y2="80.95" stroke="#ffffff" stroke-width="0.3" opacity="0.35"/>
<line x1="249.70" y1="84.06" x2="291.50" y2="84.06" stroke="#ffffff" stroke-width="0.3" opacity="0.35"/>
<line x1="249.70" y1="87.17" x2="291.50" y2="87.17" stroke="#ffffff" stroke-width="0.3" opacity="0.35"/>
<line x1="249.70" y1="90.27" x2="291.50" y2="90.27" stroke="#ffffff" stroke-width="0.3" opacity="0.35"/>
<line x1="249.70" y1="93.38" x2="291.50" y2="93.38" stroke="#ffffff" stroke-width="0.3" opacity="0.35"/>
<line x1="249.70" y1="96.49" x2="291.50" y2="96.49" stroke="#ffffff" stroke-width="0.3" opacity="0.35"/>
<line x1="249.70" y1="99.59" x2="291.50" y2="99.59" stroke="#ffffff" stroke-width="0.3" opacity="0.35"/>
<rect x="244.42" y="10.40" width="4.58" height="1.30" fill="#c4c4c4" stroke="none" stroke-width="0.5"/>
<rect x="244.04" y="13.51" width="4.96" height="1.30" fill="#c4c4c4" stroke="none" stroke-width="0.5"/>
<rect x="242.77" y="16.61" width="6.23" height="1.30" fill="#c4c4c4" stroke="none" stroke-width="0.5"/>
<rect x="244.37" y="19.72" width="4.63" height="1.30" fill="#c4c4c4" stroke="none" stroke-width="0.5"/>
<rect x="244.22" y="22.83" width="4.78" height="1.30" fill="#c4c4c4" stroke="none" stroke-width="0.5"/>
<rect x="243.94" y="25.93" width="5.06" height="1.30" fill="#c4c4c4" stroke="none" stroke-width="0.5"/>
<rect x="245.35" y="29.04" width="3.65" height="1.30" fill="#c4c4c4" stroke="none" stroke-width="0.5"/>
<rect x="244.21" y="32.15" width="4.79" height="1.30" fill="#c4c4c4" stroke="none" stroke-width="0.5"/>
<rect x="243.80" y="35.25" width="5.20" height="1.30" fill="#c4c4c4" stroke="none" stroke-width="0.5"/>
<rect x="243.22" y="38.36" width="5.78" height="1.30" fill="#c4c4c4" stroke="none" stroke-width="0.5"/>
<rect x="245.67" y="41.47" width="3.33" height="1.30" fill="#c4c4c4" stroke="none" stroke-width="0.5"/>
<rect x="244.94" y="44.57" width="4.06" height="1.30" fill="#c4c4c4" stroke="none" stroke-width="0.5"/>
<rect x="245.68" y="47.68" width="3.32" height="1.30" fill="#c4c4c4" stroke="none" stroke-width="0.5"/>
<rect x="243.17" y="50.79" width="5.83" height="1.30" fill="#c4c4c4" stroke="none" stroke-width="0.5"/>
<rect x="243.57" y="53.89" width="5.43" height="1.30" fill="#c4c4c4" stroke="none" stroke-width="0.5"/>
<rect x="245.85" y="57.00" width="3.15" height="1.30" fill="#c4c4c4" stroke="none" stroke-width="0.5"/>
<rect x="242.56" y="60.11" width="6.44" height="1.30" fill="#c4c4c4" stroke="none" stroke-width="0.5"/>
<rect x="242.62" y="63.21" width="6.38" height="1.30" fill="#c4c4c4" stroke="none" stroke-width="0.5"/>
<rect x="243.71" y="66.32" width="5.29" height="1.30" fill="#c4c4c4" stroke="none" stroke-width="0.5"/>
<rect x="243.85" y="69.43" width="5.15" height="1.30" fill="#c4c4c4" stroke="none" stroke-width="0.5"/>
<rect x="245.45" y="72.53" width="3.55" height="1.30" fill="#c4c4c4" stroke="none" stroke-width="0.5"/>
<rect x="245.95" y="75.64" width="3.05" height="1.30" fill="#c4c4c4" stroke="none" stroke-width="0.5"/>
<rect x="244.15" y="78.75" width="4.85" height="1.30" fill="#c4c4c4" stroke="none" stroke-width="0.5"/>
<rect x="245.79" y="81.85" width="3.21" height="1.30" fill="#c4c4c4" stroke="none" stroke-width="0.5"/>
<rect x="245.33" y="84.96" width="3.67" height="1.30" fill="#c4c4c4" stroke="none" stroke-width="0.5"/>
<rect x="245.15" y="88.07" width="3.85" height="1.30" fill="#c4c4c4" stroke="none" stroke-width="0.5"/>
<rect x="245.89" y="91.17" width="3.11" height="1.30" fill="#c4c4c4" stroke="none" stroke-width="0.5"/>
<rect x="244.38" y="94.28" width="4.62" height="1.30" fill="#c4c4c4" stroke="none" stroke-width="0.5"/>
<rect x="244.46" y="97.39" width="4.54" height="1.30" fill="#c4c4c4" stroke="none" stroke-width="0.5"/>
<rect x="243.05" y="100.49" width="5.95" height="1.30" fill="#c4c4c4" stroke="none" stroke-width="0.5"/>
<text x="238.60" y="49.50" font-size="3.6" fill="#444" text-anchor="middle" font-weight="normal" transform="rotate(-90 238.6 49.5)" textLength="31" lengthAdjust="spacingAndGlyphs">Top 30 important features</text>
<text x="251.00" y="105.80" font-size="3.3" fill="#666" text-anchor="middle" font-weight="normal">0</text>
<text x="262.00" y="105.80" font-size="3.3" fill="#666" text-anchor="middle" font-weight="normal">3</text>
<text x="275.80" y="105.80" font-size="3.3" fill="#666" text-anchor="middle" font-weight="normal">6</text>
<text x="287.90" y="105.80" font-size="3.3" fill="#666" text-anchor="middle" font-weight="normal">9</text>
<text x="268.30" y="110.00" font-size="4.0" fill="#444" text-anchor="middle" font-weight="normal" textLength="36" lengthAdjust="spacingAndGlyphs">Variable Importance (%)</text>
<text x="300.30" y="11.30" font-size="8.7" fill="#111" text-anchor="start" font-weight="bold">D</text>
<rect x="315.50" y="14.30" width="94.30" height="88.40" fill="none" stroke="#cccccc" stroke-width="0.7"/>
<rect x="317.80" y="10.9" width="1.4" height="1.3" fill="#666"/>
<rect x="322.43" y="10.9" width="1.4" height="1.3" fill="#666"/>
<rect x="327.06" y="10.9" width="1.4" height="1.3" fill="#666"/>
<rect x="331.69" y="10.9" width="1.4" height="1.3" fill="#666"/>
<rect x="336.33" y="10.9" width="1.4" height="1.3" fill="#666"/>
<rect x="340.96" y="10.9" width="1.4" height="1.3" fill="#666"/>
<rect x="345.59" y="10.9" width="1.4" height="1.3" fill="#666"/>
<rect x="350.22" y="10.9" width="1.4" height="1.3" fill="#666"/>
<rect x="354.85" y="10.9" width="1.4" height="1.3" fill="#666"/>
<rect x="359.48" y="10.9" width="1.4" height="1.3" fill="#666"/>
<rect x="364.12" y="10.9" width="1.4" height="1.3" fill="#666"/>
<rect x="368.75" y="10.9" width="1.4" height="1.3" fill="#666"/>
<rect x="373.38" y="10.9" width="1.4" height="1.3" fill="#666"/>
<rect x="378.01" y="10.9" width="1.4" height="1.3" fill="#666"/>
<rect x="382.64" y="10.9" width="1.4" height="1.3" fill="#666"/>
<rect x="387.27" y="10.9" width="1.4" height="1.3" fill="#666"/>
<rect x="391.91" y="10.9" width="1.4" height="1.3" fill="#666"/>
<rect x="396.54" y="10.9" width="1.4" height="1.3" fill="#666"/>
<rect x="401.17" y="10.9" width="1.4" height="1.3" fill="#666"/>
<rect x="405.80" y="10.9" width="1.4" height="1.3" fill="#666"/>
<polygon points="318.00,17.00 320.23,17.54 322.45,18.33 324.68,19.37 326.90,20.65 329.12,22.16 331.35,23.88 333.57,25.80 335.80,27.89 338.02,30.14 340.25,32.52 342.48,35.00 344.70,37.55 346.93,40.14 349.15,42.75 351.38,45.34 353.60,47.89 355.82,50.36 358.05,52.74 360.27,54.98 362.50,57.07 364.73,58.98 366.95,60.70 369.18,62.20 371.40,63.47 373.62,64.50 375.85,65.29 378.07,65.81 380.30,65.77 382.52,65.44 384.75,64.89 386.98,64.16 389.20,63.27 391.43,62.23 393.65,61.05 395.88,59.75 398.10,58.32 400.32,56.78 402.55,55.13 404.77,53.37 407.00,51.50 407.00,76.50 404.77,78.90 402.55,81.20 400.32,83.39 398.10,85.47 395.88,87.44 393.65,89.28 391.43,90.99 389.20,92.56 386.98,93.99 384.75,95.26 382.52,96.34 380.30,97.21 378.07,97.79 375.85,98.07 373.62,98.11 371.40,97.89 369.18,97.44 366.95,96.75 364.73,95.85 362.50,94.75 360.27,93.48 358.05,92.05 355.82,90.49 353.60,88.84 351.38,87.10 349.15,85.33 346.93,83.53 344.70,81.76 342.48,80.02 340.25,78.36 338.02,76.80 335.80,75.37 333.57,74.09 331.35,72.98 329.12,72.08 326.90,71.38 324.68,70.92 322.45,70.69 320.23,70.72 318.00,71.00" fill="#fafafa"/>
<line x1="318.00" y1="17.00" x2="318.00" y2="71.00" stroke="#e6e6e6" stroke-width="0.45"/>
<line x1="320.02" y1="17.48" x2="320.02" y2="70.74" stroke="#e6e6e6" stroke-width="0.45"/>
<line x1="322.05" y1="18.16" x2="322.05" y2="70.68" stroke="#e6e6e6" stroke-width="0.45"/>
<line x1="324.07" y1="19.06" x2="324.07" y2="70.83" stroke="#e6e6e6" stroke-width="0.45"/>
<line x1="326.09" y1="20.15" x2="326.09" y2="71.19" stroke="#e6e6e6" stroke-width="0.45"/>
<line x1="328.11" y1="21.44" x2="328.11" y2="71.73" stroke="#e6e6e6" stroke-width="0.45"/>
<line x1="330.14" y1="22.91" x2="330.14" y2="72.46" stroke="#e6e6e6" stroke-width="0.45"/>
<line x1="332.16" y1="24.56" x2="332.16" y2="73.36" stroke="#e6e6e6" stroke-width="0.45"/>
<line x1="334.18" y1="26.35" x2="334.18" y2="74.42" stroke="#e6e6e6" stroke-width="0.45"/>
<line x1="336.20" y1="28.29" x2="336.20" y2="75.62" stroke="#e6e6e6" stroke-width="0.45"/>
<line x1="338.23" y1="30.35" x2="338.23" y2="76.94" stroke="#e6e6e6" stroke-width="0.45"/>
<line x1="340.25" y1="32.52" x2="340.25" y2="78.36" stroke="#e6e6e6" stroke-width="0.45"/>
<line x1="342.27" y1="34.77" x2="342.27" y2="79.87" stroke="#e6e6e6" stroke-width="0.45"/>
<line x1="344.30" y1="37.08" x2="344.30" y2="81.44" stroke="#e6e6e6" stroke-width="0.45"/>
<line x1="346.32" y1="39.43" x2="346.32" y2="83.05" stroke="#e6e6e6" stroke-width="0.45"/>
<line x1="348.34" y1="41.80" x2="348.34" y2="84.67" stroke="#e6e6e6" stroke-width="0.45"/>
<line x1="350.36" y1="44.17" x2="350.36" y2="86.30" stroke="#e6e6e6" stroke-width="0.45"/>
<line x1="352.39" y1="46.51" x2="352.39" y2="87.90" stroke="#e6e6e6" stroke-width="0.45"/>
<line x1="354.41" y1="48.80" x2="354.41" y2="89.45" stroke="#e6e6e6" stroke-width="0.45"/>
<line x1="356.43" y1="51.02" x2="356.43" y2="90.93" stroke="#e6e6e6" stroke-width="0.45"/>
<line x1="358.45" y1="53.15" x2="358.45" y2="92.32" stroke="#e6e6e6" stroke-width="0.45"/>
<line x1="360.48" y1="55.18" x2="360.48" y2="93.60" stroke="#e6e6e6" stroke-width="0.45"/>
<line x1="362.50" y1="57.07" x2="362.50" y2="94.75" stroke="#e6e6e6" stroke-width="0.45"/>
<line x1="364.52" y1="58.82" x2="364.52" y2="95.76" stroke="#e6e6e6" stroke-width="0.45"/>
<line x1="366.55" y1="60.40" x2="366.55" y2="96.60" stroke="#e6e6e6" stroke-width="0.45"/>
<line x1="368.57" y1="61.81" x2="368.57" y2="97.27" stroke="#e6e6e6" stroke-width="0.45"/>
<line x1="370.59" y1="63.04" x2="370.59" y2="97.75" stroke="#e6e6e6" stroke-width="0.45"/>
<line x1="372.61" y1="64.07" x2="372.61" y2="98.04" stroke="#e6e6e6" stroke-width="0.45"/>
<line x1="374.64" y1="64.89" x2="374.64" y2="98.12" stroke="#e6e6e6" stroke-width="0.45"/>
<line x1="376.66" y1="65.51" x2="376.66" y2="98.00" stroke="#e6e6e6" stroke-width="0.45"/>
<line x1="378.68" y1="65.84" x2="378.68" y2="97.67" stroke="#e6e6e6" stroke-width="0.45"/>
<line x1="380.70" y1="65.73" x2="380.70" y2="97.07" stroke="#e6e6e6" stroke-width="0.45"/>
<line x1="382.73" y1="65.39" x2="382.73" y2="96.25" stroke="#e6e6e6" stroke-width="0.45"/>
<line x1="384.75" y1="64.89" x2="384.75" y2="95.26" stroke="#e6e6e6" stroke-width="0.45"/>
<line x1="386.77" y1="64.23" x2="386.77" y2="94.11" stroke="#e6e6e6" stroke-width="0.45"/>
<line x1="388.80" y1="63.44" x2="388.80" y2="92.83" stroke="#e6e6e6" stroke-width="0.45"/>
<line x1="390.82" y1="62.53" x2="390.82" y2="91.43" stroke="#e6e6e6" stroke-width="0.45"/>
<line x1="392.84" y1="61.50" x2="392.84" y2="89.91" stroke="#e6e6e6" stroke-width="0.45"/>
<line x1="394.86" y1="60.36" x2="394.86" y2="88.29" stroke="#e6e6e6" stroke-width="0.45"/>
<line x1="396.89" y1="59.12" x2="396.89" y2="86.56" stroke="#e6e6e6" stroke-width="0.45"/>
<line x1="398.91" y1="57.78" x2="398.91" y2="84.73" stroke="#e6e6e6" stroke-width="0.45"/>
<line x1="400.93" y1="56.34" x2="400.93" y2="82.81" stroke="#e6e6e6" stroke-width="0.45"/>
<line x1="402.95" y1="54.82" x2="402.95" y2="80.79" stroke="#e6e6e6" stroke-width="0.45"/>
<line x1="404.98" y1="53.20" x2="404.98" y2="78.69" stroke="#e6e6e6" stroke-width="0.45"/>
<line x1="407.00" y1="51.50" x2="407.00" y2="76.50" stroke="#e6e6e6" stroke-width="0.45"/>
<polyline points="318.00,17.00 320.23,17.54 322.45,18.33 324.68,19.37 326.90,20.65 329.12,22.16 331.35,23.88 333.57,25.80 335.80,27.89 338.02,30.14 340.25,32.52 342.48,35.00 344.70,37.55 346.93,40.14 349.15,42.75 351.38,45.34 353.60,47.89 355.82,50.36 358.05,52.74 360.27,54.98 362.50,57.07 364.73,58.98 366.95,60.70 369.18,62.20 371.40,63.47 373.62,64.50 375.85,65.29 378.07,65.81 380.30,65.77 382.52,65.44 384.75,64.89 386.98,64.16 389.20,63.27 391.43,62.23 393.65,61.05 395.88,59.75 398.10,58.32 400.32,56.78 402.55,55.13 404.77,53.37 407.00,51.50" fill="none" stroke="#e8e8e8" stroke-width="1.0"/>
<polyline points="318.00,71.00 320.23,70.72 322.45,70.69 324.68,70.92 326.90,71.38 329.12,72.08 331.35,72.98 333.57,74.09 335.80,75.37 338.02,76.80 340.25,78.36 342.48,80.02 344.70,81.76 346.93,83.53 349.15,85.33 351.38,87.10 353.60,88.84 355.82,90.49 358.05,92.05 360.27,93.48 362.50,94.75 364.73,95.85 366.95,96.75 369.18,97.44 371.40,97.89 373.62,98.11 375.85,98.07 378.07,97.79 380.30,97.21 382.52,96.34 384.75,95.26 386.98,93.99 389.20,92.56 391.43,90.99 393.65,89.28 395.88,87.44 398.10,85.47 400.32,83.39 402.55,81.20 404.77,78.90 407.00,76.50" fill="none" stroke="#e8e8e8" stroke-width="1.0"/>
<line x1="378.00" y1="14.30" x2="378.00" y2="102.70" stroke="#c8c8c8" stroke-width="0.5" stroke-dasharray="1,0.6"/>
<line x1="403.60" y1="14.30" x2="403.60" y2="102.70" stroke="#c8c8c8" stroke-width="0.5" stroke-dasharray="1,0.6"/>
<polyline points="318.00,44.00 320.23,44.13 322.45,44.51 324.68,45.14 326.90,46.02 329.12,47.12 331.35,48.43 333.57,49.94 335.80,51.63 338.02,53.47 340.25,55.44 342.48,57.51 344.70,59.65 346.93,61.84 349.15,64.04 351.38,66.22 353.60,68.36 355.82,70.43 358.05,72.39 360.27,74.23 362.50,75.91 364.73,77.42 366.95,78.72 369.18,79.82 371.40,80.68 373.62,81.31 375.85,81.68 378.07,81.80 380.30,81.49 382.52,80.89 384.75,80.07 386.98,79.07 389.20,77.92 391.43,76.61 393.65,75.17 395.88,73.59 398.10,71.90 400.32,70.09 402.55,68.16 404.77,66.13 407.00,64.00" fill="none" stroke="#f28a8a" stroke-width="0.8"/>
<text x="312.30" y="24.00" font-size="3.3" fill="#666" text-anchor="middle" font-weight="normal" transform="rotate(-90 312.3 24)">13</text>
<line x1="314.20" y1="24.00" x2="315.50" y2="24.00" stroke="#999" stroke-width="0.4"/>
<text x="312.30" y="40.60" font-size="3.3" fill="#666" text-anchor="middle" font-weight="normal" transform="rotate(-90 312.3 40.6)">12</text>
<line x1="314.20" y1="40.60" x2="315.50" y2="40.60" stroke="#999" stroke-width="0.4"/>
<text x="312.30" y="57.20" font-size="3.3" fill="#666" text-anchor="middle" font-weight="normal" transform="rotate(-90 312.3 57.2)">11</text>
<line x1="314.20" y1="57.20" x2="315.50" y2="57.20" stroke="#999" stroke-width="0.4"/>
<text x="312.30" y="73.80" font-size="3.3" fill="#666" text-anchor="middle" font-weight="normal" transform="rotate(-90 312.3 73.8)">10</text>
<line x1="314.20" y1="73.80" x2="315.50" y2="73.80" stroke="#999" stroke-width="0.4"/>
<text x="312.30" y="90.40" font-size="3.3" fill="#666" text-anchor="middle" font-weight="normal" transform="rotate(-90 312.3 90.4)">9</text>
<line x1="314.20" y1="90.40" x2="315.50" y2="90.40" stroke="#999" stroke-width="0.4"/>
<text x="307.30" y="58.50" font-size="4.4" fill="#222" text-anchor="middle" font-weight="normal" transform="rotate(-90 307.3 58.5)" textLength="51" lengthAdjust="spacingAndGlyphs">Partial Likelihood Deviance</text>
<text x="323.00" y="107.00" font-size="3.3" fill="#666" text-anchor="middle" font-weight="normal">-7</text>
<line x1="323.00" y1="102.70" x2="323.00" y2="104.00" stroke="#999" stroke-width="0.4"/>
<text x="339.70" y="107.00" font-size="3.3" fill="#666" text-anchor="middle" font-weight="normal">-6</text>
<line x1="339.70" y1="102.70" x2="339.70" y2="104.00" stroke="#999" stroke-width="0.4"/>
<text x="356.40" y="107.00" font-size="3.3" fill="#666" text-anchor="middle" font-weight="normal">-5</text>
<line x1="356.40" y1="102.70" x2="356.40" y2="104.00" stroke="#999" stroke-width="0.4"/>
<text x="373.10" y="107.00" font-size="3.3" fill="#666" text-anchor="middle" font-weight="normal">-4</text>
<line x1="373.10" y1="102.70" x2="373.10" y2="104.00" stroke="#999" stroke-width="0.4"/>
<text x="389.80" y="107.00" font-size="3.3" fill="#666" text-anchor="middle" font-weight="normal">-3</text>
<line x1="389.80" y1="102.70" x2="389.80" y2="104.00" stroke="#999" stroke-width="0.4"/>
<text x="406.50" y="107.00" font-size="3.3" fill="#666" text-anchor="middle" font-weight="normal">-2</text>
<line x1="406.50" y1="102.70" x2="406.50" y2="104.00" stroke="#999" stroke-width="0.4"/>
<text x="364.00" y="112.60" font-size="4.6" fill="#222" text-anchor="middle" font-weight="normal" textLength="12.5" lengthAdjust="spacingAndGlyphs">Log(λ)</text>
<text x="422.20" y="12.80" font-size="8.7" fill="#111" text-anchor="start" font-weight="bold">E</text>
<rect x="434.40" y="10.80" width="111.10" height="95.00" fill="none" stroke="#cccccc" stroke-width="0.7"/>
<text x="443.20" y="8.50" font-size="3.0" fill="#444" text-anchor="middle" font-weight="normal">30</text>
<text x="443.20" y="111.00" font-size="3.3" fill="#555" text-anchor="middle" font-weight="normal">-7</text>
<line x1="443.20" y1="105.80" x2="443.20" y2="107.00" stroke="#999" stroke-width="0.4"/>
<text x="463.00" y="8.50" font-size="3.0" fill="#444" text-anchor="middle" font-weight="normal">29</text>
<text x="463.00" y="111.00" font-size="3.3" fill="#555" text-anchor="middle" font-weight="normal">-6</text>
<line x1="463.00" y1="105.80" x2="463.00" y2="107.00" stroke="#999" stroke-width="0.4"/>
<text x="482.80" y="8.50" font-size="3.0" fill="#444" text-anchor="middle" font-weight="normal">28</text>
<text x="482.80" y="111.00" font-size="3.3" fill="#555" text-anchor="middle" font-weight="normal">-5</text>
<line x1="482.80" y1="105.80" x2="482.80" y2="107.00" stroke="#999" stroke-width="0.4"/>
<text x="502.60" y="8.50" font-size="3.0" fill="#444" text-anchor="middle" font-weight="normal">22</text>
<text x="502.60" y="111.00" font-size="3.3" fill="#555" text-anchor="middle" font-weight="normal">-4</text>
<line x1="502.60" y1="105.80" x2="502.60" y2="107.00" stroke="#999" stroke-width="0.4"/>
<text x="522.40" y="8.50" font-size="3.0" fill="#444" text-anchor="middle" font-weight="normal">8</text>
<text x="522.40" y="111.00" font-size="3.3" fill="#555" text-anchor="middle" font-weight="normal">-3</text>
<line x1="522.40" y1="105.80" x2="522.40" y2="107.00" stroke="#999" stroke-width="0.4"/>
<text x="542.20" y="8.50" font-size="3.0" fill="#444" text-anchor="middle" font-weight="normal">0</text>
<text x="542.20" y="111.00" font-size="3.3" fill="#555" text-anchor="middle" font-weight="normal">-2</text>
<line x1="542.20" y1="105.80" x2="542.20" y2="107.00" stroke="#999" stroke-width="0.4"/>
<text x="431.50" y="28.60" font-size="3.0" fill="#555" text-anchor="middle" font-weight="normal" transform="rotate(-90 431.5 28.6)">0.2</text>
<line x1="433.20" y1="28.60" x2="434.40" y2="28.60" stroke="#999" stroke-width="0.4"/>
<text x="431.50" y="49.60" font-size="3.0" fill="#555" text-anchor="middle" font-weight="normal" transform="rotate(-90 431.5 49.6)">0.1</text>
<line x1="433.20" y1="49.60" x2="434.40" y2="49.60" stroke="#999" stroke-width="0.4"/>
<text x="431.50" y="70.80" font-size="3.0" fill="#555" text-anchor="middle" font-weight="normal" transform="rotate(-90 431.5 70.8)">0.0</text>
<line x1="433.20" y1="70.80" x2="434.40" y2="70.80" stroke="#999" stroke-width="0.4"/>
<text x="431.50" y="91.80" font-size="3.0" fill="#555" text-anchor="middle" font-weight="normal" transform="rotate(-90 431.5 91.8)">-0.1</text>
<line x1="433.20" y1="91.80" x2="434.40" y2="91.80" stroke="#999" stroke-width="0.4"/>
<text x="425.50" y="50.50" font-size="4.6" fill="#222" text-anchor="middle" font-weight="normal" transform="rotate(-90 425.5 50.5)" textLength="21" lengthAdjust="spacingAndGlyphs">Coefficients</text>
<text x="486.60" y="115.30" font-size="5.0" fill="#222" text-anchor="middle" font-weight="normal" textLength="24" lengthAdjust="spacingAndGlyphs">Log Lambda</text>
<polyline points="440.00,43.90 442.12,43.92 444.25,43.97 446.38,44.05 448.50,44.17 450.62,44.32 452.75,44.51 454.88,44.72 457.00,44.98 459.12,45.26 461.25,45.58 463.38,45.93 465.50,46.32 467.62,46.74 469.75,47.20 471.88,47.68 474.00,48.20 476.12,48.76 478.25,49.35 480.38,49.97 482.50,50.62 484.62,51.31 486.75,52.04 488.88,52.79 491.00,53.58 493.12,54.41 495.25,55.27 497.38,56.16 499.50,57.08 501.62,58.04 503.75,59.03 505.88,60.06 508.00,61.12 510.12,62.21 512.25,63.34 514.38,64.50 516.50,65.69 518.62,66.92 520.75,68.18 522.88,69.47 525.00,70.80 541.50,70.80" fill="none" stroke="#9a8a80" stroke-width="0.9" opacity="0.7"/>
<polyline points="440.00,67.00 441.85,67.00 443.70,67.00 445.55,67.00 447.40,67.01 449.25,67.01 451.10,67.02 452.95,67.03 454.80,67.04 456.65,67.06 458.50,67.08 460.35,67.10 462.20,67.13 464.05,67.16 465.90,67.20 467.75,67.24 469.60,67.29 471.45,67.35 473.30,67.41 475.15,67.47 477.00,67.55 478.85,67.63 480.70,67.71 482.55,67.81 484.40,67.91 486.25,68.02 488.10,68.14 489.95,68.26 491.80,68.40 493.65,68.54 495.50,68.70 497.35,68.86 499.20,69.03 501.05,69.22 502.90,69.41 504.75,69.61 506.60,69.83 508.45,70.05 510.30,70.29 512.15,70.54 514.00,70.80 541.50,70.80" fill="none" stroke="#c090e0" stroke-width="0.9" opacity="0.7"/>
<polyline points="440.00,73.50 441.95,73.50 443.90,73.50 445.85,73.49 447.80,73.49 449.75,73.48 451.70,73.47 453.65,73.46 455.60,73.44 457.55,73.42 459.50,73.40 461.45,73.38 463.40,73.35 465.35,73.32 467.30,73.28 469.25,73.24 471.20,73.20 473.15,73.15 475.10,73.10 477.05,73.05 479.00,72.99 480.95,72.92 482.90,72.86 484.85,72.78 486.80,72.71 488.75,72.63 490.70,72.54 492.65,72.45 494.60,72.35 496.55,72.25 498.50,72.15 500.45,72.04 502.40,71.92 504.35,71.80 506.30,71.67 508.25,71.54 510.20,71.40 512.15,71.26 514.10,71.11 516.05,70.96 518.00,70.80 541.50,70.80" fill="none" stroke="#e060d0" stroke-width="0.9" opacity="0.7"/>
<polyline points="440.00,34.70 442.25,34.70 444.50,34.71 446.75,34.73 449.00,34.76 451.25,34.81 453.50,34.88 455.75,34.97 458.00,35.10 460.25,35.25 462.50,35.44 464.75,35.67 467.00,35.94 469.25,36.25 471.50,36.61 473.75,37.02 476.00,37.48 478.25,37.99 480.50,38.56 482.75,39.19 485.00,39.88 487.25,40.64 489.50,41.47 491.75,42.37 494.00,43.34 496.25,44.38 498.50,45.51 500.75,46.71 503.00,48.00 505.25,49.37 507.50,50.83 509.75,52.38 512.00,54.03 514.25,55.77 516.50,57.60 518.75,59.54 521.00,61.58 523.25,63.72 525.50,65.97 527.75,68.33 530.00,70.80 541.50,70.80" fill="none" stroke="#f4a8a0" stroke-width="0.9" opacity="0.7"/>
<polyline points="440.00,63.30 442.05,63.30 444.10,63.30 446.15,63.31 448.20,63.31 450.25,63.32 452.30,63.34 454.35,63.36 456.40,63.38 458.45,63.42 460.50,63.45 462.55,63.50 464.60,63.56 466.65,63.62 468.70,63.70 470.75,63.78 472.80,63.88 474.85,63.98 476.90,64.10 478.95,64.23 481.00,64.38 483.05,64.53 485.10,64.71 487.15,64.89 489.20,65.09 491.25,65.31 493.30,65.55 495.35,65.80 497.40,66.06 499.45,66.35 501.50,66.65 503.55,66.97 505.60,67.32 507.65,67.68 509.70,68.06 511.75,68.46 513.80,68.88 515.85,69.33 517.90,69.80 519.95,70.29 522.00,70.80 541.50,70.80" fill="none" stroke="#a0d0f0" stroke-width="0.9" opacity="0.7"/>
<polyline points="440.00,60.50 441.88,60.50 443.75,60.51 445.62,60.52 447.50,60.54 449.38,60.57 451.25,60.61 453.12,60.66 455.00,60.72 456.88,60.79 458.75,60.87 460.62,60.96 462.50,61.07 464.38,61.19 466.25,61.33 468.12,61.48 470.00,61.64 471.88,61.82 473.75,62.02 475.62,62.23 477.50,62.45 479.38,62.69 481.25,62.95 483.12,63.23 485.00,63.52 486.88,63.83 488.75,64.16 490.62,64.51 492.50,64.88 494.38,65.26 496.25,65.66 498.12,66.09 500.00,66.53 501.88,66.99 503.75,67.47 505.62,67.98 507.50,68.50 509.38,69.04 511.25,69.61 513.12,70.19 515.00,70.80 541.50,70.80" fill="none" stroke="#b0e0b0" stroke-width="0.9" opacity="0.7"/>
<polyline points="440.00,88.00 442.07,88.00 444.15,87.99 446.23,87.97 448.30,87.93 450.38,87.88 452.45,87.82 454.52,87.74 456.60,87.64 458.68,87.52 460.75,87.38 462.82,87.22 464.90,87.04 466.98,86.84 469.05,86.62 471.12,86.37 473.20,86.09 475.27,85.79 477.35,85.47 479.43,85.12 481.50,84.74 483.57,84.34 485.65,83.90 487.73,83.44 489.80,82.95 491.88,82.43 493.95,81.88 496.02,81.30 498.10,80.69 500.18,80.05 502.25,79.38 504.32,78.67 506.40,77.93 508.48,77.16 510.55,76.36 512.62,75.52 514.70,74.64 516.77,73.74 518.85,72.79 520.92,71.81 523.00,70.80 541.50,70.80" fill="none" stroke="#a0a0e0" stroke-width="0.9" opacity="0.7"/>
<polyline points="440.00,57.00 441.90,57.01 443.80,57.03 445.70,57.08 447.60,57.14 449.50,57.22 451.40,57.31 453.30,57.42 455.20,57.55 457.10,57.70 459.00,57.86 460.90,58.04 462.80,58.24 464.70,58.46 466.60,58.69 468.50,58.94 470.40,59.21 472.30,59.49 474.20,59.79 476.10,60.11 478.00,60.45 479.90,60.80 481.80,61.17 483.70,61.56 485.60,61.97 487.50,62.39 489.40,62.83 491.30,63.29 493.20,63.76 495.10,64.25 497.00,64.76 498.90,65.29 500.80,65.83 502.70,66.39 504.60,66.97 506.50,67.57 508.40,68.18 510.30,68.81 512.20,69.45 514.10,70.12 516.00,70.80 541.50,70.80" fill="none" stroke="#e8c0a0" stroke-width="0.9" opacity="0.7"/>
<polyline points="440.00,70.80 442.15,70.80 444.30,70.80 446.45,70.80 448.60,70.80 450.75,70.80 452.90,70.80 455.05,70.80 457.20,70.80 459.35,70.80 461.50,70.80 463.65,70.80 465.80,70.80 467.95,70.80 470.10,70.80 472.25,70.80 474.40,70.80 476.55,70.80 478.70,70.80 480.85,70.80 483.00,70.80 485.15,70.80 487.30,70.80 489.45,70.80 491.60,70.80 493.75,70.80 495.90,70.80 498.05,70.80 500.20,70.80 502.35,70.80 504.50,70.80 506.65,70.80 508.80,70.80 510.95,70.80 513.10,70.80 515.25,70.80 517.40,70.80 519.55,70.80 521.70,70.80 523.85,70.80 526.00,70.80 541.50,70.80" fill="none" stroke="#f07090" stroke-width="0.9" opacity="0.7"/>
<polyline points="440.00,90.50 442.02,90.50 444.05,90.49 446.07,90.46 448.10,90.42 450.12,90.37 452.15,90.29 454.18,90.20 456.20,90.09 458.23,89.95 460.25,89.79 462.27,89.61 464.30,89.40 466.32,89.17 468.35,88.91 470.38,88.63 472.40,88.32 474.43,87.97 476.45,87.60 478.48,87.20 480.50,86.77 482.52,86.30 484.55,85.81 486.57,85.28 488.60,84.72 490.62,84.12 492.65,83.49 494.68,82.83 496.70,82.13 498.73,81.40 500.75,80.62 502.77,79.81 504.80,78.97 506.82,78.08 508.85,77.16 510.88,76.20 512.90,75.20 514.92,74.16 516.95,73.08 518.98,71.96 521.00,70.80 541.50,70.80" fill="none" stroke="#b0e8b0" stroke-width="0.9" opacity="0.7"/>
<polyline points="440.00,79.00 441.93,78.99 443.85,78.98 445.77,78.95 447.70,78.92 449.62,78.87 451.55,78.82 453.48,78.75 455.40,78.67 457.32,78.58 459.25,78.49 461.18,78.38 463.10,78.26 465.02,78.13 466.95,78.00 468.88,77.85 470.80,77.69 472.73,77.52 474.65,77.34 476.57,77.15 478.50,76.95 480.43,76.74 482.35,76.52 484.27,76.29 486.20,76.05 488.12,75.80 490.05,75.54 491.98,75.26 493.90,74.98 495.82,74.69 497.75,74.39 499.68,74.07 501.60,73.75 503.52,73.42 505.45,73.08 507.38,72.72 509.30,72.36 511.23,71.98 513.15,71.60 515.08,71.20 517.00,70.80 541.50,70.80" fill="none" stroke="#60a8d0" stroke-width="0.9" opacity="0.7"/>
<polyline points="440.00,53.80 442.00,53.80 444.00,53.80 446.00,53.81 448.00,53.83 450.00,53.85 452.00,53.88 454.00,53.93 456.00,53.99 458.00,54.06 460.00,54.15 462.00,54.26 464.00,54.38 466.00,54.53 468.00,54.70 470.00,54.89 472.00,55.11 474.00,55.35 476.00,55.62 478.00,55.91 480.00,56.24 482.00,56.60 484.00,56.99 486.00,57.41 488.00,57.87 490.00,58.36 492.00,58.89 494.00,59.46 496.00,60.06 498.00,60.71 500.00,61.40 502.00,62.13 504.00,62.90 506.00,63.72 508.00,64.59 510.00,65.50 512.00,66.46 514.00,67.47 516.00,68.53 518.00,69.64 520.00,70.80 541.50,70.80" fill="none" stroke="#50b8b0" stroke-width="0.9" opacity="0.7"/>
<polyline points="440.00,83.20 442.25,83.20 444.50,83.20 446.75,83.20 449.00,83.19 451.25,83.18 453.50,83.17 455.75,83.15 458.00,83.13 460.25,83.10 462.50,83.05 464.75,83.00 467.00,82.94 469.25,82.86 471.50,82.77 473.75,82.66 476.00,82.54 478.25,82.40 480.50,82.24 482.75,82.05 485.00,81.85 487.25,81.62 489.50,81.37 491.75,81.09 494.00,80.78 496.25,80.44 498.50,80.08 500.75,79.67 503.00,79.24 505.25,78.77 507.50,78.26 509.75,77.71 512.00,77.13 514.25,76.50 516.50,75.83 518.75,75.11 521.00,74.35 523.25,73.54 525.50,72.68 527.75,71.76 530.00,70.80 541.50,70.80" fill="none" stroke="#f0a0c0" stroke-width="0.9" opacity="0.7"/>
<polyline points="440.00,93.60 441.65,93.60 443.30,93.59 444.95,93.58 446.60,93.56 448.25,93.53 449.90,93.49 451.55,93.43 453.20,93.35 454.85,93.25 456.50,93.13 458.15,92.99 459.80,92.82 461.45,92.62 463.10,92.39 464.75,92.14 466.40,91.85 468.05,91.52 469.70,91.16 471.35,90.76 473.00,90.33 474.65,89.85 476.30,89.32 477.95,88.76 479.60,88.15 481.25,87.48 482.90,86.78 484.55,86.01 486.20,85.20 487.85,84.33 489.50,83.41 491.15,82.43 492.80,81.39 494.45,80.30 496.10,79.14 497.75,77.91 499.40,76.62 501.05,75.27 502.70,73.85 504.35,72.36 506.00,70.80 541.50,70.80" fill="none" stroke="#70d0e0" stroke-width="0.9" opacity="0.7"/>
<polyline points="440.00,102.20 442.10,102.20 444.20,102.18 446.30,102.14 448.40,102.07 450.50,101.99 452.60,101.87 454.70,101.72 456.80,101.54 458.90,101.32 461.00,101.07 463.10,100.78 465.20,100.45 467.30,100.08 469.40,99.67 471.50,99.22 473.60,98.72 475.70,98.17 477.80,97.58 479.90,96.94 482.00,96.25 484.10,95.51 486.20,94.72 488.30,93.88 490.40,92.99 492.50,92.04 494.60,91.03 496.70,89.97 498.80,88.86 500.90,87.69 503.00,86.46 505.10,85.17 507.20,83.82 509.30,82.41 511.40,80.94 513.50,79.41 515.60,77.82 517.70,76.16 519.80,74.44 521.90,72.65 524.00,70.80 541.50,70.80" fill="none" stroke="#a0e8f0" stroke-width="0.9" opacity="0.7"/>
<polyline points="440.00,38.50 442.40,38.50 444.80,38.50 447.20,38.51 449.60,38.52 452.00,38.54 454.40,38.57 456.80,38.62 459.20,38.69 461.60,38.77 464.00,38.88 466.40,39.02 468.80,39.19 471.20,39.39 473.60,39.62 476.00,39.90 478.40,40.22 480.80,40.59 483.20,41.01 485.60,41.48 488.00,42.01 490.40,42.61 492.80,43.27 495.20,44.00 497.60,44.80 500.00,45.68 502.40,46.64 504.80,47.68 507.20,48.82 509.60,50.04 512.00,51.36 514.40,52.79 516.80,54.32 519.20,55.95 521.60,57.70 524.00,59.57 526.40,61.56 528.80,63.67 531.20,65.91 533.60,68.29 536.00,70.80 541.50,70.80" fill="none" stroke="#a0e8dc" stroke-width="0.9" opacity="0.7"/>
<polyline points="440.00,46.50 442.20,46.50 444.40,46.52 446.60,46.55 448.80,46.60 451.00,46.67 453.20,46.76 455.40,46.87 457.60,47.01 459.80,47.18 462.00,47.37 464.20,47.60 466.40,47.85 468.60,48.14 470.80,48.46 473.00,48.81 475.20,49.19 477.40,49.62 479.60,50.08 481.80,50.57 484.00,51.10 486.20,51.68 488.40,52.29 490.60,52.94 492.80,53.63 495.00,54.37 497.20,55.14 499.40,55.96 501.60,56.82 503.80,57.73 506.00,58.68 508.20,59.68 510.40,60.72 512.60,61.81 514.80,62.95 517.00,64.14 519.20,65.37 521.40,66.65 523.60,67.99 525.80,69.37 528.00,70.80 541.50,70.80" fill="none" stroke="#a8d8f0" stroke-width="0.9" opacity="0.7"/>
<polyline points="440.00,32.50 442.38,32.51 444.75,32.53 447.12,32.58 449.50,32.65 451.88,32.76 454.25,32.90 456.62,33.08 459.00,33.30 461.38,33.57 463.75,33.87 466.12,34.23 468.50,34.63 470.88,35.08 473.25,35.58 475.62,36.14 478.00,36.75 480.38,37.41 482.75,38.14 485.12,38.92 487.50,39.76 489.88,40.66 492.25,41.62 494.62,42.65 497.00,43.74 499.38,44.90 501.75,46.12 504.12,47.41 506.50,48.77 508.88,50.20 511.25,51.70 513.62,53.27 516.00,54.92 518.38,56.64 520.75,58.43 523.12,60.30 525.50,62.24 527.88,64.26 530.25,66.36 532.62,68.54 535.00,70.80 541.50,70.80" fill="none" stroke="#90c8f0" stroke-width="0.9" opacity="0.7"/>
<polyline points="440.00,55.20 442.32,55.20 444.65,55.20 446.98,55.20 449.30,55.21 451.62,55.22 453.95,55.24 456.27,55.26 458.60,55.29 460.93,55.33 463.25,55.38 465.57,55.45 467.90,55.53 470.23,55.63 472.55,55.74 474.88,55.88 477.20,56.03 479.52,56.21 481.85,56.41 484.18,56.64 486.50,56.90 488.82,57.18 491.15,57.50 493.48,57.85 495.80,58.24 498.12,58.67 500.45,59.13 502.77,59.64 505.10,60.18 507.43,60.77 509.75,61.41 512.08,62.10 514.40,62.84 516.73,63.63 519.05,64.47 521.38,65.38 523.70,66.34 526.02,67.36 528.35,68.44 530.67,69.59 533.00,70.80 541.50,70.80" fill="none" stroke="#a8e8e0" stroke-width="0.9" opacity="0.7"/>
<polyline points="440.00,76.50 441.73,76.50 443.45,76.50 445.18,76.50 446.90,76.49 448.62,76.48 450.35,76.47 452.07,76.46 453.80,76.44 455.52,76.41 457.25,76.38 458.98,76.35 460.70,76.30 462.43,76.26 464.15,76.20 465.88,76.13 467.60,76.06 469.32,75.98 471.05,75.89 472.77,75.79 474.50,75.68 476.23,75.56 477.95,75.43 479.68,75.29 481.40,75.14 483.12,74.97 484.85,74.79 486.57,74.60 488.30,74.40 490.02,74.18 491.75,73.95 493.48,73.71 495.20,73.45 496.93,73.17 498.65,72.88 500.38,72.58 502.10,72.26 503.82,71.92 505.55,71.56 507.27,71.19 509.00,70.80 541.50,70.80" fill="none" stroke="#a8e8f0" stroke-width="0.9" opacity="0.7"/>
<polyline points="440.00,14.10 442.52,14.14 445.05,14.24 447.57,14.42 450.10,14.67 452.62,14.99 455.15,15.38 457.68,15.84 460.20,16.37 462.73,16.97 465.25,17.64 467.77,18.39 470.30,19.20 472.82,20.09 475.35,21.05 477.88,22.07 480.40,23.17 482.93,24.34 485.45,25.58 487.98,26.89 490.50,28.27 493.02,29.73 495.55,31.25 498.07,32.85 500.60,34.51 503.12,36.25 505.65,38.06 508.18,39.93 510.70,41.88 513.23,43.90 515.75,45.99 518.27,48.16 520.80,50.39 523.33,52.69 525.85,55.07 528.38,57.51 530.90,60.03 533.42,62.61 535.95,65.27 538.48,68.00 541.00,70.80 541.50,70.80" fill="none" stroke="#f090d0" stroke-width="0.9" opacity="0.7"/>
<polyline points="440.00,86.20 441.82,86.19 443.65,86.16 445.48,86.11 447.30,86.05 449.12,85.96 450.95,85.85 452.77,85.73 454.60,85.58 456.43,85.42 458.25,85.24 460.07,85.04 461.90,84.81 463.73,84.57 465.55,84.31 467.38,84.03 469.20,83.74 471.02,83.42 472.85,83.08 474.68,82.73 476.50,82.35 478.32,81.96 480.15,81.54 481.98,81.11 483.80,80.66 485.62,80.18 487.45,79.69 489.27,79.18 491.10,78.65 492.93,78.11 494.75,77.54 496.57,76.95 498.40,76.34 500.23,75.72 502.05,75.07 503.88,74.41 505.70,73.73 507.52,73.02 509.35,72.30 511.18,71.56 513.00,70.80 541.50,70.80" fill="none" stroke="#8a7060" stroke-width="0.9" opacity="0.7"/>
<polyline points="440.00,99.60 441.80,99.58 443.60,99.53 445.40,99.44 447.20,99.31 449.00,99.15 450.80,98.95 452.60,98.72 454.40,98.45 456.20,98.14 458.00,97.80 459.80,97.42 461.60,97.01 463.40,96.56 465.20,96.07 467.00,95.55 468.80,94.99 470.60,94.40 472.40,93.77 474.20,93.10 476.00,92.40 477.80,91.66 479.60,90.89 481.40,90.08 483.20,89.23 485.00,88.35 486.80,87.43 488.60,86.48 490.40,85.49 492.20,84.46 494.00,83.40 495.80,82.30 497.60,81.17 499.40,80.00 501.20,78.79 503.00,77.55 504.80,76.27 506.60,74.96 508.40,73.61 510.20,72.22 512.00,70.80 541.50,70.80" fill="none" stroke="#909090" stroke-width="0.9" opacity="0.7"/>
<polyline points="440.00,72.00 442.18,72.00 444.35,72.00 446.52,72.00 448.70,72.00 450.88,72.00 453.05,72.00 455.23,72.00 457.40,71.99 459.57,71.99 461.75,71.99 463.93,71.98 466.10,71.97 468.27,71.97 470.45,71.96 472.62,71.95 474.80,71.94 476.98,71.92 479.15,71.91 481.32,71.89 483.50,71.87 485.68,71.85 487.85,71.82 490.02,71.80 492.20,71.77 494.38,71.73 496.55,71.70 498.73,71.66 500.90,71.62 503.07,71.57 505.25,71.52 507.43,71.47 509.60,71.41 511.77,71.35 513.95,71.29 516.12,71.22 518.30,71.14 520.48,71.06 522.65,70.98 524.83,70.89 527.00,70.80 541.50,70.80" fill="none" stroke="#e09090" stroke-width="0.9" opacity="0.7"/>
<polyline points="440.00,41.00 441.75,41.00 443.50,41.01 445.25,41.02 447.00,41.05 448.75,41.09 450.50,41.15 452.25,41.23 454.00,41.33 455.75,41.46 457.50,41.61 459.25,41.80 461.00,42.02 462.75,42.28 464.50,42.58 466.25,42.91 468.00,43.29 469.75,43.71 471.50,44.19 473.25,44.71 475.00,45.28 476.75,45.91 478.50,46.59 480.25,47.33 482.00,48.13 483.75,48.99 485.50,49.92 487.25,50.91 489.00,51.98 490.75,53.11 492.50,54.32 494.25,55.60 496.00,56.95 497.75,58.39 499.50,59.91 501.25,61.50 503.00,63.19 504.75,64.96 506.50,66.81 508.25,68.76 510.00,70.80 541.50,70.80" fill="none" stroke="#d0c0f0" stroke-width="0.9" opacity="0.7"/>
<polyline points="440.00,65.00 442.27,65.00 444.55,65.00 446.82,65.01 449.10,65.02 451.38,65.04 453.65,65.06 455.93,65.09 458.20,65.12 460.48,65.16 462.75,65.21 465.02,65.26 467.30,65.32 469.57,65.39 471.85,65.47 474.12,65.55 476.40,65.64 478.68,65.74 480.95,65.85 483.23,65.97 485.50,66.10 487.77,66.24 490.05,66.38 492.32,66.54 494.60,66.70 496.88,66.88 499.15,67.06 501.43,67.26 503.70,67.46 505.98,67.68 508.25,67.91 510.52,68.15 512.80,68.40 515.08,68.66 517.35,68.93 519.62,69.21 521.90,69.50 524.17,69.81 526.45,70.13 528.73,70.46 531.00,70.80 541.50,70.80" fill="none" stroke="#70c090" stroke-width="0.9" opacity="0.7"/>
<polyline points="440.00,68.50 441.77,68.50 443.55,68.50 445.32,68.50 447.10,68.50 448.88,68.50 450.65,68.51 452.43,68.51 454.20,68.51 455.98,68.52 457.75,68.53 459.52,68.54 461.30,68.55 463.07,68.56 464.85,68.58 466.62,68.60 468.40,68.62 470.18,68.65 471.95,68.68 473.73,68.71 475.50,68.75 477.27,68.79 479.05,68.84 480.82,68.89 482.60,68.95 484.38,69.01 486.15,69.08 487.93,69.15 489.70,69.23 491.48,69.32 493.25,69.42 495.02,69.52 496.80,69.63 498.57,69.74 500.35,69.87 502.12,70.00 503.90,70.14 505.68,70.29 507.45,70.45 509.23,70.62 511.00,70.80 541.50,70.80" fill="none" stroke="#6a5a8a" stroke-width="0.9" opacity="0.7"/>
<polyline points="440.00,50.00 441.98,50.00 443.95,50.00 445.93,50.01 447.90,50.01 449.88,50.03 451.85,50.05 453.82,50.08 455.80,50.12 457.77,50.18 459.75,50.25 461.73,50.33 463.70,50.44 465.68,50.57 467.65,50.72 469.62,50.90 471.60,51.11 473.57,51.35 475.55,51.62 477.52,51.92 479.50,52.26 481.48,52.65 483.45,53.07 485.43,53.54 487.40,54.06 489.38,54.62 491.35,55.24 493.32,55.91 495.30,56.64 497.27,57.43 499.25,58.28 501.23,59.20 503.20,60.18 505.18,61.24 507.15,62.37 509.12,63.57 511.10,64.85 513.08,66.21 515.05,67.65 517.02,69.18 519.00,70.80 541.50,70.80" fill="none" stroke="#80c8e8" stroke-width="0.9" opacity="0.7"/>
<polyline points="440.00,59.10 442.50,59.11 445.00,59.13 447.50,59.17 450.00,59.22 452.50,59.28 455.00,59.36 457.50,59.46 460.00,59.57 462.50,59.69 465.00,59.83 467.50,59.98 470.00,60.15 472.50,60.34 475.00,60.53 477.50,60.75 480.00,60.97 482.50,61.21 485.00,61.47 487.50,61.74 490.00,62.02 492.50,62.32 495.00,62.64 497.50,62.97 500.00,63.31 502.50,63.67 505.00,64.04 507.50,64.43 510.00,64.83 512.50,65.25 515.00,65.68 517.50,66.13 520.00,66.59 522.50,67.06 525.00,67.55 527.50,68.06 530.00,68.58 532.50,69.11 535.00,69.66 537.50,70.22 540.00,70.80 541.50,70.80" fill="none" stroke="#40b0a8" stroke-width="0.9" opacity="0.7"/>
<polyline points="440.00,96.30 442.45,96.30 444.90,96.30 447.35,96.29 449.80,96.28 452.25,96.27 454.70,96.24 457.15,96.20 459.60,96.15 462.05,96.08 464.50,96.00 466.95,95.89 469.40,95.76 471.85,95.60 474.30,95.41 476.75,95.19 479.20,94.94 481.65,94.65 484.10,94.32 486.55,93.95 489.00,93.53 491.45,93.06 493.90,92.54 496.35,91.96 498.80,91.33 501.25,90.63 503.70,89.88 506.15,89.05 508.60,88.16 511.05,87.19 513.50,86.14 515.95,85.02 518.40,83.81 520.85,82.52 523.30,81.14 525.75,79.67 528.20,78.10 530.65,76.43 533.10,74.66 535.55,72.78 538.00,70.80 541.50,70.80" fill="none" stroke="#f0a0d0" stroke-width="0.9" opacity="0.7"/>
<line x1="508.60" y1="10.80" x2="508.60" y2="105.80" stroke="#ee3b4b" stroke-width="1.0"/>
<text x="512.50" y="19.00" font-size="2.9" fill="#333" text-anchor="start" font-weight="normal">TMEM84</text>
<text x="513.00" y="31.00" font-size="2.9" fill="#333" text-anchor="start" font-weight="normal">USP13</text>
<text x="513.00" y="43.00" font-size="2.9" fill="#333" text-anchor="start" font-weight="normal">ST6GAL1</text>
<text x="513.00" y="48.00" font-size="2.9" fill="#333" text-anchor="start" font-weight="normal">NPR3A</text>
<text x="513.00" y="55.00" font-size="2.9" fill="#333" text-anchor="start" font-weight="normal">FBCD1</text>
<text x="530.00" y="74.50" font-size="2.9" fill="#333" text-anchor="start" font-weight="normal">SELENOP</text>
<text x="513.00" y="76.00" font-size="2.9" fill="#333" text-anchor="start" font-weight="normal">CENPF</text>
<text x="513.00" y="81.50" font-size="2.9" fill="#333" text-anchor="start" font-weight="normal">S100P</text>
<text x="513.00" y="88.50" font-size="2.9" fill="#333" text-anchor="start" font-weight="normal">E2F7</text>
<text x="513.00" y="92.00" font-size="2.9" fill="#333" text-anchor="start" font-weight="normal">PTTG1IP</text>
<text x="513.00" y="100.00" font-size="2.9" fill="#333" text-anchor="start" font-weight="normal">EXPH5</text>
<text x="507.50" y="26.00" font-size="2.9" fill="#333" text-anchor="end" font-weight="normal">PCSK5</text>
<text x="509.00" y="32.00" font-size="2.9" fill="#333" text-anchor="end" font-weight="normal">TNFRSF11A</text>
<text x="506.50" y="55.00" font-size="2.9" fill="#333" text-anchor="end" font-weight="normal">SRGN</text>
<text x="507.00" y="66.50" font-size="2.9" fill="#333" text-anchor="end" font-weight="normal">SEC11C</text>
<text x="507.00" y="75.50" font-size="2.9" fill="#333" text-anchor="end" font-weight="normal">SSR4</text>
<text x="507.00" y="84.50" font-size="2.9" fill="#333" text-anchor="end" font-weight="normal">NECT</text>
<text x="164.70" y="123.60" font-size="8.7" fill="#111" text-anchor="start" font-weight="bold">F</text>
<text x="211.00" y="127.00" font-size="5.4" fill="#222" text-anchor="middle" font-weight="normal" textLength="35.4" lengthAdjust="spacingAndGlyphs">GeneCoefficients</text>
<line x1="192.80" y1="127.80" x2="192.80" y2="238.20" stroke="#777" stroke-width="0.6"/>
<line x1="192.80" y1="238.20" x2="292.00" y2="238.20" stroke="#888" stroke-width="0.6"/>
<line x1="229.20" y1="127.80" x2="229.20" y2="238.20" stroke="#888" stroke-width="0.8"/>
<text x="190.60" y="133.40" font-size="4.2" fill="#444" text-anchor="end" font-weight="normal">USP13</text>
<line x1="229.20" y1="131.90" x2="292.00" y2="131.90" stroke="#d6d6d6" stroke-width="0.5"/>
<path d="M290.80,130.90 L293.30,131.90 L290.80,132.90 Z" fill="#3a8fd8"/>
<text x="190.60" y="139.42" font-size="4.2" fill="#444" text-anchor="end" font-weight="normal">E2F7</text>
<line x1="229.20" y1="137.92" x2="263.80" y2="137.92" stroke="#d6d6d6" stroke-width="0.5"/>
<path d="M262.60,136.92 L265.10,137.92 L262.60,138.92 Z" fill="#3a8fd8"/>
<text x="190.60" y="145.44" font-size="4.2" fill="#444" text-anchor="end" font-weight="normal">TNFRSF11A</text>
<line x1="229.20" y1="143.94" x2="261.90" y2="143.94" stroke="#d6d6d6" stroke-width="0.5"/>
<path d="M260.70,142.94 L263.20,143.94 L260.70,144.94 Z" fill="#3a8fd8"/>
<text x="190.60" y="151.46" font-size="4.2" fill="#444" text-anchor="end" font-weight="normal">PCSK5</text>
<line x1="229.20" y1="149.96" x2="260.00" y2="149.96" stroke="#d6d6d6" stroke-width="0.5"/>
<path d="M258.80,148.96 L261.30,149.96 L258.80,150.96 Z" fill="#3a8fd8"/>
<text x="190.60" y="157.48" font-size="4.2" fill="#444" text-anchor="end" font-weight="normal">SEC11C</text>
<line x1="229.20" y1="155.98" x2="256.20" y2="155.98" stroke="#d6d6d6" stroke-width="0.5"/>
<path d="M255.00,154.98 L257.50,155.98 L255.00,156.98 Z" fill="#3a8fd8"/>
<text x="190.60" y="163.50" font-size="4.2" fill="#444" text-anchor="end" font-weight="normal">TMEM84</text>
<line x1="229.20" y1="162.00" x2="248.30" y2="162.00" stroke="#d6d6d6" stroke-width="0.5"/>
<path d="M247.10,161.00 L249.60,162.00 L247.10,163.00 Z" fill="#3a8fd8"/>
<text x="190.60" y="169.52" font-size="4.2" fill="#444" text-anchor="end" font-weight="normal">FAM83A</text>
<line x1="229.20" y1="168.02" x2="247.20" y2="168.02" stroke="#d6d6d6" stroke-width="0.5"/>
<path d="M246.00,167.02 L248.50,168.02 L246.00,169.02 Z" fill="#3a8fd8"/>
<text x="190.60" y="175.54" font-size="4.2" fill="#444" text-anchor="end" font-weight="normal">ERO1A</text>
<line x1="229.20" y1="174.04" x2="243.70" y2="174.04" stroke="#d6d6d6" stroke-width="0.5"/>
<path d="M242.50,173.04 L245.00,174.04 L242.50,175.04 Z" fill="#3a8fd8"/>
<text x="190.60" y="181.56" font-size="4.2" fill="#444" text-anchor="end" font-weight="normal">PRR15</text>
<line x1="229.20" y1="180.06" x2="238.80" y2="180.06" stroke="#d6d6d6" stroke-width="0.5"/>
<path d="M237.60,179.06 L240.10,180.06 L237.60,181.06 Z" fill="#3a8fd8"/>
<text x="190.60" y="187.58" font-size="4.2" fill="#444" text-anchor="end" font-weight="normal">NBEF</text>
<line x1="229.20" y1="186.08" x2="237.80" y2="186.08" stroke="#d6d6d6" stroke-width="0.5"/>
<path d="M236.60,185.08 L239.10,186.08 L236.60,187.08 Z" fill="#3a8fd8"/>
<text x="190.60" y="193.60" font-size="4.2" fill="#444" text-anchor="end" font-weight="normal">KRT8A2F</text>
<line x1="229.20" y1="192.10" x2="235.70" y2="192.10" stroke="#d6d6d6" stroke-width="0.5"/>
<path d="M234.50,191.10 L237.00,192.10 L234.50,193.10 Z" fill="#3a8fd8"/>
<text x="190.60" y="199.62" font-size="4.2" fill="#444" text-anchor="end" font-weight="normal">NID</text>
<line x1="229.20" y1="198.12" x2="234.60" y2="198.12" stroke="#d6d6d6" stroke-width="0.5"/>
<path d="M233.40,197.12 L235.90,198.12 L233.40,199.12 Z" fill="#3a8fd8"/>
<text x="190.60" y="205.64" font-size="4.2" fill="#444" text-anchor="end" font-weight="normal">FBCD1</text>
<line x1="229.20" y1="204.14" x2="232.60" y2="204.14" stroke="#d6d6d6" stroke-width="0.5"/>
<path d="M231.40,203.14 L233.90,204.14 L231.40,205.14 Z" fill="#3a8fd8"/>
<text x="190.60" y="211.66" font-size="4.2" fill="#444" text-anchor="end" font-weight="normal">S100P</text>
<line x1="229.20" y1="210.16" x2="232.60" y2="210.16" stroke="#d6d6d6" stroke-width="0.5"/>
<path d="M231.40,209.16 L233.90,210.16 L231.40,211.16 Z" fill="#3a8fd8"/>
<text x="190.60" y="217.68" font-size="4.2" fill="#444" text-anchor="end" font-weight="normal">PTTG1IP</text>
<line x1="229.20" y1="216.18" x2="232.30" y2="216.18" stroke="#d6d6d6" stroke-width="0.5"/>
<path d="M231.10,215.18 L233.60,216.18 L231.10,217.18 Z" fill="#3a8fd8"/>
<text x="190.60" y="223.70" font-size="4.2" fill="#444" text-anchor="end" font-weight="normal">ST6GAL1</text>
<line x1="229.20" y1="222.20" x2="215.00" y2="222.20" stroke="#d6d6d6" stroke-width="0.5"/>
<path d="M216.20,221.20 L213.70,222.20 L216.20,223.20 Z" fill="#e8383d"/>
<text x="190.60" y="229.72" font-size="4.2" fill="#444" text-anchor="end" font-weight="normal">ELENOP</text>
<line x1="229.20" y1="228.22" x2="214.50" y2="228.22" stroke="#d6d6d6" stroke-width="0.5"/>
<path d="M215.70,227.22 L213.20,228.22 L215.70,229.22 Z" fill="#e8383d"/>
<text x="190.60" y="235.74" font-size="4.2" fill="#444" text-anchor="end" font-weight="normal">EXPH5</text>
<line x1="229.20" y1="234.24" x2="197.20" y2="234.24" stroke="#d6d6d6" stroke-width="0.5"/>
<path d="M198.40,233.24 L195.90,234.24 L198.40,235.24 Z" fill="#e8383d"/>
<text x="208.50" y="241.60" font-size="2.8" fill="#666" text-anchor="middle" font-weight="normal">-0.1</text>
<text x="229.20" y="241.60" font-size="2.8" fill="#666" text-anchor="middle" font-weight="normal">0.0</text>
<text x="249.80" y="241.60" font-size="2.8" fill="#666" text-anchor="middle" font-weight="normal">0.1</text>
<text x="270.40" y="241.60" font-size="2.8" fill="#666" text-anchor="middle" font-weight="normal">0.2</text>
<text x="291.00" y="241.60" font-size="2.8" fill="#666" text-anchor="middle" font-weight="normal">0.3</text>
<text x="241.50" y="245.00" font-size="3.8" fill="#555" text-anchor="middle" font-weight="normal" textLength="17.5" lengthAdjust="spacingAndGlyphs">Coefficient</text>
<text x="303.00" y="124.40" font-size="8.7" fill="#111" text-anchor="start" font-weight="bold">G</text>
<rect x="320.20" y="125.60" width="84.50" height="50.70" fill="none" stroke="#cccccc" stroke-width="0.7"/>
<line x1="362.40" y1="125.60" x2="362.40" y2="176.30" stroke="#cfcfcf" stroke-width="0.5"/>
<line x1="320.20" y1="151.30" x2="404.70" y2="151.30" stroke="#cfcfcf" stroke-width="0.5"/>
<polyline points="324.50,168.00 325.45,163.07 326.39,161.03 327.34,159.73 328.29,159.27 329.24,158.90 330.19,158.57 331.13,158.26 332.08,157.97 333.03,157.69 333.98,157.43 334.92,157.17 335.87,156.92 336.82,156.68 337.76,156.44 338.71,156.20 339.66,155.98 340.61,155.75 341.56,155.53 342.50,155.32 343.45,155.10 344.40,154.89 345.34,154.69 346.29,154.48 347.24,154.28 348.19,154.08 349.13,153.88 350.08,153.69 351.03,153.49 351.98,153.30 352.92,153.11 353.87,152.92 354.82,152.74 355.77,152.55 356.71,152.37 357.66,152.19 358.61,152.01 359.56,151.83 360.50,151.65 361.45,151.48 362.40,151.30" fill="none" stroke="#3a9ad8" stroke-width="1.1"/>
<polyline points="362.40,151.30 363.16,151.23 363.92,151.12 364.69,151.00 365.45,150.87 366.21,150.72 366.97,150.57 367.73,150.41 368.50,150.24 369.26,150.06 370.02,149.88 370.78,149.69 371.54,149.50 372.31,149.30 373.07,149.10 373.83,148.89 374.59,148.68 375.35,148.47 376.12,148.25 376.88,148.02 377.64,147.80 378.40,147.57 379.16,147.34 379.93,147.10 380.69,146.86 381.45,146.62 382.21,146.38 382.97,146.13 383.74,145.88 384.50,145.62 385.26,145.37 386.02,145.11 386.78,144.85 387.55,144.59 388.31,144.32 389.07,144.05 389.83,143.78 390.59,143.51 391.36,143.23 392.12,142.99 392.88,142.80 393.64,142.38 394.40,141.76 395.17,140.97 395.93,140.01 396.69,138.89 397.45,137.60 398.21,136.17 398.98,134.59 399.74,132.87 400.50,131.00" fill="none" stroke="#f0606a" stroke-width="1.1"/>
<circle cx="323.3" cy="129.7" r="0.9" fill="#f0606a"/>
<circle cx="323.3" cy="134.3" r="0.9" fill="#3a9ad8"/>
<text x="326.20" y="131.40" font-size="4.6" fill="#333" text-anchor="start" font-weight="normal" textLength="18" lengthAdjust="spacingAndGlyphs">High risk</text>
<text x="326.20" y="136.00" font-size="4.6" fill="#333" text-anchor="start" font-weight="normal" textLength="16.5" lengthAdjust="spacingAndGlyphs">Low risk</text>
<text x="313.50" y="151.00" font-size="5.0" fill="#222" text-anchor="middle" font-weight="normal" transform="rotate(-90 313.5 151.0)" textLength="21" lengthAdjust="spacingAndGlyphs">Risk score</text>
<text x="324.30" y="182.00" font-size="2.8" fill="#777" text-anchor="middle" font-weight="normal">0</text>
<text x="324.30" y="241.50" font-size="2.8" fill="#777" text-anchor="middle" font-weight="normal">0</text>
<text x="339.90" y="182.00" font-size="2.8" fill="#777" text-anchor="middle" font-weight="normal">100</text>
<text x="339.90" y="241.50" font-size="2.8" fill="#777" text-anchor="middle" font-weight="normal">100</text>
<text x="355.50" y="182.00" font-size="2.8" fill="#777" text-anchor="middle" font-weight="normal">200</text>
<text x="355.50" y="241.50" font-size="2.8" fill="#777" text-anchor="middle" font-weight="normal">200</text>
<text x="371.10" y="182.00" font-size="2.8" fill="#777" text-anchor="middle" font-weight="normal">300</text>
<text x="371.10" y="241.50" font-size="2.8" fill="#777" text-anchor="middle" font-weight="normal">300</text>
<text x="386.70" y="182.00" font-size="2.8" fill="#777" text-anchor="middle" font-weight="normal">400</text>
<text x="386.70" y="241.50" font-size="2.8" fill="#777" text-anchor="middle" font-weight="normal">400</text>
<text x="402.30" y="182.00" font-size="2.8" fill="#777" text-anchor="middle" font-weight="normal">500</text>
<text x="402.30" y="241.50" font-size="2.8" fill="#777" text-anchor="middle" font-weight="normal">500</text>
<line x1="319.00" y1="135.00" x2="320.20" y2="135.00" stroke="#999" stroke-width="0.4"/>
<line x1="319.00" y1="145.00" x2="320.20" y2="145.00" stroke="#999" stroke-width="0.4"/>
<line x1="319.00" y1="155.00" x2="320.20" y2="155.00" stroke="#999" stroke-width="0.4"/>
<line x1="319.00" y1="165.00" x2="320.20" y2="165.00" stroke="#999" stroke-width="0.4"/>
<rect x="320.50" y="185.20" width="84.40" height="50.80" fill="none" stroke="#cccccc" stroke-width="0.7"/>
<line x1="363.70" y1="185.20" x2="363.70" y2="236.00" stroke="#cfcfcf" stroke-width="0.5"/>
<circle cx="341.28" cy="231.90" r="0.6" fill="none" stroke="#3a9ad8" stroke-width="0.45" opacity="0.9"/>
<circle cx="372.68" cy="234.21" r="0.6" fill="none" stroke="#3a9ad8" stroke-width="0.45" opacity="0.9"/>
<circle cx="343.01" cy="227.83" r="0.6" fill="none" stroke="#3a9ad8" stroke-width="0.45" opacity="0.9"/>
<circle cx="389.75" cy="230.15" r="0.6" fill="none" stroke="#f06a6e" stroke-width="0.45" opacity="0.9"/>
<circle cx="373.42" cy="226.45" r="0.6" fill="none" stroke="#3a9ad8" stroke-width="0.45" opacity="0.9"/>
<circle cx="376.38" cy="229.37" r="0.6" fill="none" stroke="#f06a6e" stroke-width="0.45" opacity="0.9"/>
<circle cx="346.40" cy="228.67" r="0.6" fill="none" stroke="#3a9ad8" stroke-width="0.45" opacity="0.9"/>
<circle cx="380.22" cy="223.59" r="0.6" fill="none" stroke="#3a9ad8" stroke-width="0.45" opacity="0.9"/>
<circle cx="353.99" cy="227.63" r="0.6" fill="none" stroke="#3a9ad8" stroke-width="0.45" opacity="0.9"/>
<circle cx="393.19" cy="233.42" r="0.6" fill="none" stroke="#f06a6e" stroke-width="0.45" opacity="0.9"/>
<circle cx="400.20" cy="230.23" r="0.6" fill="none" stroke="#f06a6e" stroke-width="0.45" opacity="0.9"/>
<circle cx="363.09" cy="232.02" r="0.6" fill="none" stroke="#3a9ad8" stroke-width="0.45" opacity="0.9"/>
<circle cx="369.32" cy="216.66" r="0.6" fill="none" stroke="#3a9ad8" stroke-width="0.45" opacity="0.9"/>
<circle cx="391.37" cy="224.61" r="0.6" fill="none" stroke="#f06a6e" stroke-width="0.45" opacity="0.9"/>
<circle cx="391.71" cy="221.41" r="0.6" fill="none" stroke="#f06a6e" stroke-width="0.45" opacity="0.9"/>
<circle cx="379.82" cy="228.89" r="0.6" fill="none" stroke="#f06a6e" stroke-width="0.45" opacity="0.9"/>
<circle cx="345.08" cy="228.75" r="0.6" fill="none" stroke="#3a9ad8" stroke-width="0.45" opacity="0.9"/>
<circle cx="329.17" cy="228.14" r="0.6" fill="none" stroke="#f06a6e" stroke-width="0.45" opacity="0.9"/>
<circle cx="345.81" cy="221.21" r="0.6" fill="none" stroke="#f06a6e" stroke-width="0.45" opacity="0.9"/>
<circle cx="371.78" cy="229.63" r="0.6" fill="none" stroke="#f06a6e" stroke-width="0.45" opacity="0.9"/>
<circle cx="393.35" cy="227.53" r="0.6" fill="none" stroke="#3a9ad8" stroke-width="0.45" opacity="0.9"/>
<circle cx="347.08" cy="230.40" r="0.6" fill="none" stroke="#f06a6e" stroke-width="0.45" opacity="0.9"/>
<circle cx="337.99" cy="230.33" r="0.6" fill="none" stroke="#f06a6e" stroke-width="0.45" opacity="0.9"/>
<circle cx="325.44" cy="229.59" r="0.6" fill="none" stroke="#3a9ad8" stroke-width="0.45" opacity="0.9"/>
<circle cx="394.63" cy="231.31" r="0.6" fill="none" stroke="#f06a6e" stroke-width="0.45" opacity="0.9"/>
<circle cx="374.15" cy="230.66" r="0.6" fill="none" stroke="#f06a6e" stroke-width="0.45" opacity="0.9"/>
<circle cx="398.19" cy="231.50" r="0.6" fill="none" stroke="#f06a6e" stroke-width="0.45" opacity="0.9"/>
<circle cx="341.25" cy="227.94" r="0.6" fill="none" stroke="#3a9ad8" stroke-width="0.45" opacity="0.9"/>
<circle cx="366.42" cy="231.60" r="0.6" fill="none" stroke="#3a9ad8" stroke-width="0.45" opacity="0.9"/>
<circle cx="323.62" cy="230.19" r="0.6" fill="none" stroke="#f06a6e" stroke-width="0.45" opacity="0.9"/>
<circle cx="372.81" cy="229.88" r="0.6" fill="none" stroke="#f06a6e" stroke-width="0.45" opacity="0.9"/>
<circle cx="379.26" cy="233.97" r="0.6" fill="none" stroke="#f06a6e" stroke-width="0.45" opacity="0.9"/>
<circle cx="376.76" cy="228.77" r="0.6" fill="none" stroke="#f06a6e" stroke-width="0.45" opacity="0.9"/>
<circle cx="370.01" cy="231.93" r="0.6" fill="none" stroke="#f06a6e" stroke-width="0.45" opacity="0.9"/>
<circle cx="351.90" cy="232.35" r="0.6" fill="none" stroke="#f06a6e" stroke-width="0.45" opacity="0.9"/>
<circle cx="384.55" cy="230.60" r="0.6" fill="none" stroke="#3a9ad8" stroke-width="0.45" opacity="0.9"/>
<circle cx="347.11" cy="229.08" r="0.6" fill="none" stroke="#f06a6e" stroke-width="0.45" opacity="0.9"/>
<circle cx="337.18" cy="229.76" r="0.6" fill="none" stroke="#f06a6e" stroke-width="0.45" opacity="0.9"/>
<circle cx="348.08" cy="228.88" r="0.6" fill="none" stroke="#f06a6e" stroke-width="0.45" opacity="0.9"/>
<circle cx="391.30" cy="232.11" r="0.6" fill="none" stroke="#f06a6e" stroke-width="0.45" opacity="0.9"/>
<circle cx="393.68" cy="232.84" r="0.6" fill="none" stroke="#f06a6e" stroke-width="0.45" opacity="0.9"/>
<circle cx="364.90" cy="229.06" r="0.6" fill="none" stroke="#3a9ad8" stroke-width="0.45" opacity="0.9"/>
<circle cx="336.87" cy="229.05" r="0.6" fill="none" stroke="#3a9ad8" stroke-width="0.45" opacity="0.9"/>
<circle cx="387.31" cy="233.46" r="0.6" fill="none" stroke="#f06a6e" stroke-width="0.45" opacity="0.9"/>
<circle cx="386.30" cy="232.05" r="0.6" fill="none" stroke="#f06a6e" stroke-width="0.45" opacity="0.9"/>
<circle cx="356.00" cy="228.32" r="0.6" fill="none" stroke="#f06a6e" stroke-width="0.45" opacity="0.9"/>
<circle cx="322.38" cy="190.12" r="0.6" fill="none" stroke="#3a9ad8" stroke-width="0.45" opacity="0.9"/>
<circle cx="357.18" cy="204.48" r="0.6" fill="none" stroke="#f06a6e" stroke-width="0.45" opacity="0.9"/>
<circle cx="382.39" cy="224.36" r="0.6" fill="none" stroke="#f06a6e" stroke-width="0.45" opacity="0.9"/>
<circle cx="345.41" cy="232.82" r="0.6" fill="none" stroke="#f06a6e" stroke-width="0.45" opacity="0.9"/>
<circle cx="369.68" cy="229.03" r="0.6" fill="none" stroke="#f06a6e" stroke-width="0.45" opacity="0.9"/>
<circle cx="395.19" cy="220.44" r="0.6" fill="none" stroke="#3a9ad8" stroke-width="0.45" opacity="0.9"/>
<circle cx="394.87" cy="234.21" r="0.6" fill="none" stroke="#f06a6e" stroke-width="0.45" opacity="0.9"/>
<circle cx="335.92" cy="229.99" r="0.6" fill="none" stroke="#3a9ad8" stroke-width="0.45" opacity="0.9"/>
<circle cx="355.51" cy="214.08" r="0.6" fill="none" stroke="#f06a6e" stroke-width="0.45" opacity="0.9"/>
<circle cx="342.45" cy="227.14" r="0.6" fill="none" stroke="#3a9ad8" stroke-width="0.45" opacity="0.9"/>
<circle cx="350.50" cy="230.82" r="0.6" fill="none" stroke="#3a9ad8" stroke-width="0.45" opacity="0.9"/>
<circle cx="335.88" cy="220.47" r="0.6" fill="none" stroke="#3a9ad8" stroke-width="0.45" opacity="0.9"/>
<circle cx="388.70" cy="230.21" r="0.6" fill="none" stroke="#3a9ad8" stroke-width="0.45" opacity="0.9"/>
<circle cx="326.04" cy="232.55" r="0.6" fill="none" stroke="#3a9ad8" stroke-width="0.45" opacity="0.9"/>
<circle cx="356.26" cy="229.25" r="0.6" fill="none" stroke="#f06a6e" stroke-width="0.45" opacity="0.9"/>
<circle cx="326.44" cy="233.49" r="0.6" fill="none" stroke="#f06a6e" stroke-width="0.45" opacity="0.9"/>
<circle cx="400.95" cy="233.01" r="0.6" fill="none" stroke="#f06a6e" stroke-width="0.45" opacity="0.9"/>
<circle cx="347.59" cy="232.02" r="0.6" fill="none" stroke="#3a9ad8" stroke-width="0.45" opacity="0.9"/>
<circle cx="369.52" cy="233.06" r="0.6" fill="none" stroke="#f06a6e" stroke-width="0.45" opacity="0.9"/>
<circle cx="332.02" cy="229.65" r="0.6" fill="none" stroke="#3a9ad8" stroke-width="0.45" opacity="0.9"/>
<circle cx="328.47" cy="231.87" r="0.6" fill="none" stroke="#3a9ad8" stroke-width="0.45" opacity="0.9"/>
<circle cx="385.39" cy="229.09" r="0.6" fill="none" stroke="#f06a6e" stroke-width="0.45" opacity="0.9"/>
<circle cx="356.96" cy="231.08" r="0.6" fill="none" stroke="#3a9ad8" stroke-width="0.45" opacity="0.9"/>
<circle cx="356.06" cy="227.39" r="0.6" fill="none" stroke="#f06a6e" stroke-width="0.45" opacity="0.9"/>
<circle cx="365.40" cy="233.23" r="0.6" fill="none" stroke="#f06a6e" stroke-width="0.45" opacity="0.9"/>
<circle cx="356.49" cy="220.25" r="0.6" fill="none" stroke="#f06a6e" stroke-width="0.45" opacity="0.9"/>
<circle cx="394.73" cy="230.37" r="0.6" fill="none" stroke="#f06a6e" stroke-width="0.45" opacity="0.9"/>
<circle cx="331.97" cy="224.37" r="0.6" fill="none" stroke="#3a9ad8" stroke-width="0.45" opacity="0.9"/>
<circle cx="386.19" cy="223.29" r="0.6" fill="none" stroke="#f06a6e" stroke-width="0.45" opacity="0.9"/>
<circle cx="330.35" cy="234.27" r="0.6" fill="none" stroke="#f06a6e" stroke-width="0.45" opacity="0.9"/>
<circle cx="384.72" cy="233.70" r="0.6" fill="none" stroke="#f06a6e" stroke-width="0.45" opacity="0.9"/>
<circle cx="393.32" cy="234.15" r="0.6" fill="none" stroke="#3a9ad8" stroke-width="0.45" opacity="0.9"/>
<circle cx="331.82" cy="224.20" r="0.6" fill="none" stroke="#3a9ad8" stroke-width="0.45" opacity="0.9"/>
<circle cx="399.15" cy="229.11" r="0.6" fill="none" stroke="#f06a6e" stroke-width="0.45" opacity="0.9"/>
<circle cx="384.16" cy="229.65" r="0.6" fill="none" stroke="#f06a6e" stroke-width="0.45" opacity="0.9"/>
<circle cx="382.67" cy="233.14" r="0.6" fill="none" stroke="#f06a6e" stroke-width="0.45" opacity="0.9"/>
<circle cx="367.68" cy="230.67" r="0.6" fill="none" stroke="#f06a6e" stroke-width="0.45" opacity="0.9"/>
<circle cx="342.25" cy="229.40" r="0.6" fill="none" stroke="#f06a6e" stroke-width="0.45" opacity="0.9"/>
<circle cx="351.77" cy="232.02" r="0.6" fill="none" stroke="#f06a6e" stroke-width="0.45" opacity="0.9"/>
<circle cx="328.74" cy="227.98" r="0.6" fill="none" stroke="#3a9ad8" stroke-width="0.45" opacity="0.9"/>
<circle cx="382.54" cy="229.81" r="0.6" fill="none" stroke="#3a9ad8" stroke-width="0.45" opacity="0.9"/>
<circle cx="376.58" cy="231.16" r="0.6" fill="none" stroke="#3a9ad8" stroke-width="0.45" opacity="0.9"/>
<circle cx="394.69" cy="233.68" r="0.6" fill="none" stroke="#f06a6e" stroke-width="0.45" opacity="0.9"/>
<circle cx="396.25" cy="231.42" r="0.6" fill="none" stroke="#f06a6e" stroke-width="0.45" opacity="0.9"/>
<circle cx="337.07" cy="233.01" r="0.6" fill="none" stroke="#3a9ad8" stroke-width="0.45" opacity="0.9"/>
<circle cx="347.50" cy="229.81" r="0.6" fill="none" stroke="#3a9ad8" stroke-width="0.45" opacity="0.9"/>
<circle cx="345.96" cy="228.10" r="0.6" fill="none" stroke="#3a9ad8" stroke-width="0.45" opacity="0.9"/>
<circle cx="369.36" cy="232.89" r="0.6" fill="none" stroke="#f06a6e" stroke-width="0.45" opacity="0.9"/>
<circle cx="360.84" cy="233.18" r="0.6" fill="none" stroke="#f06a6e" stroke-width="0.45" opacity="0.9"/>
<circle cx="348.09" cy="232.15" r="0.6" fill="none" stroke="#3a9ad8" stroke-width="0.45" opacity="0.9"/>
<circle cx="360.85" cy="231.26" r="0.6" fill="none" stroke="#3a9ad8" stroke-width="0.45" opacity="0.9"/>
<circle cx="388.55" cy="231.17" r="0.6" fill="none" stroke="#3a9ad8" stroke-width="0.45" opacity="0.9"/>
<circle cx="391.39" cy="229.53" r="0.6" fill="none" stroke="#3a9ad8" stroke-width="0.45" opacity="0.9"/>
<circle cx="359.86" cy="232.77" r="0.6" fill="none" stroke="#3a9ad8" stroke-width="0.45" opacity="0.9"/>
<circle cx="376.70" cy="215.48" r="0.6" fill="none" stroke="#f06a6e" stroke-width="0.45" opacity="0.9"/>
<circle cx="337.36" cy="233.08" r="0.6" fill="none" stroke="#3a9ad8" stroke-width="0.45" opacity="0.9"/>
<circle cx="391.55" cy="230.64" r="0.6" fill="none" stroke="#3a9ad8" stroke-width="0.45" opacity="0.9"/>
<circle cx="347.39" cy="229.56" r="0.6" fill="none" stroke="#f06a6e" stroke-width="0.45" opacity="0.9"/>
<circle cx="329.50" cy="229.92" r="0.6" fill="none" stroke="#3a9ad8" stroke-width="0.45" opacity="0.9"/>
<circle cx="369.00" cy="234.20" r="0.6" fill="none" stroke="#f06a6e" stroke-width="0.45" opacity="0.9"/>
<circle cx="357.33" cy="232.93" r="0.6" fill="none" stroke="#3a9ad8" stroke-width="0.45" opacity="0.9"/>
<circle cx="399.38" cy="230.76" r="0.6" fill="none" stroke="#f06a6e" stroke-width="0.45" opacity="0.9"/>
<circle cx="344.26" cy="232.61" r="0.6" fill="none" stroke="#3a9ad8" stroke-width="0.45" opacity="0.9"/>
<circle cx="395.61" cy="228.18" r="0.6" fill="none" stroke="#f06a6e" stroke-width="0.45" opacity="0.9"/>
<circle cx="384.57" cy="229.87" r="0.6" fill="none" stroke="#f06a6e" stroke-width="0.45" opacity="0.9"/>
<circle cx="374.98" cy="230.32" r="0.6" fill="none" stroke="#3a9ad8" stroke-width="0.45" opacity="0.9"/>
<circle cx="399.87" cy="226.26" r="0.6" fill="none" stroke="#f06a6e" stroke-width="0.45" opacity="0.9"/>
<circle cx="362.00" cy="229.63" r="0.6" fill="none" stroke="#3a9ad8" stroke-width="0.45" opacity="0.9"/>
<circle cx="367.88" cy="230.10" r="0.6" fill="none" stroke="#3a9ad8" stroke-width="0.45" opacity="0.9"/>
<circle cx="336.51" cy="206.20" r="0.6" fill="none" stroke="#f06a6e" stroke-width="0.45" opacity="0.9"/>
<circle cx="397.48" cy="232.15" r="0.6" fill="none" stroke="#f06a6e" stroke-width="0.45" opacity="0.9"/>
<circle cx="370.39" cy="230.09" r="0.6" fill="none" stroke="#f06a6e" stroke-width="0.45" opacity="0.9"/>
<circle cx="347.31" cy="233.85" r="0.6" fill="none" stroke="#3a9ad8" stroke-width="0.45" opacity="0.9"/>
<circle cx="383.11" cy="229.49" r="0.6" fill="none" stroke="#f06a6e" stroke-width="0.45" opacity="0.9"/>
<circle cx="343.53" cy="228.63" r="0.6" fill="none" stroke="#f06a6e" stroke-width="0.45" opacity="0.9"/>
<circle cx="362.88" cy="229.30" r="0.6" fill="none" stroke="#f06a6e" stroke-width="0.45" opacity="0.9"/>
<circle cx="348.96" cy="230.78" r="0.6" fill="none" stroke="#3a9ad8" stroke-width="0.45" opacity="0.9"/>
<circle cx="350.58" cy="232.62" r="0.6" fill="none" stroke="#f06a6e" stroke-width="0.45" opacity="0.9"/>
<circle cx="330.07" cy="229.24" r="0.6" fill="none" stroke="#3a9ad8" stroke-width="0.45" opacity="0.9"/>
<circle cx="336.97" cy="231.59" r="0.6" fill="none" stroke="#3a9ad8" stroke-width="0.45" opacity="0.9"/>
<circle cx="388.08" cy="225.42" r="0.6" fill="none" stroke="#f06a6e" stroke-width="0.45" opacity="0.9"/>
<circle cx="354.27" cy="230.87" r="0.6" fill="none" stroke="#3a9ad8" stroke-width="0.45" opacity="0.9"/>
<circle cx="338.37" cy="229.22" r="0.6" fill="none" stroke="#f06a6e" stroke-width="0.45" opacity="0.9"/>
<circle cx="387.06" cy="218.48" r="0.6" fill="none" stroke="#f06a6e" stroke-width="0.45" opacity="0.9"/>
<circle cx="366.76" cy="230.18" r="0.6" fill="none" stroke="#3a9ad8" stroke-width="0.45" opacity="0.9"/>
<circle cx="377.62" cy="228.71" r="0.6" fill="none" stroke="#f06a6e" stroke-width="0.45" opacity="0.9"/>
<circle cx="370.71" cy="234.26" r="0.6" fill="none" stroke="#3a9ad8" stroke-width="0.45" opacity="0.9"/>
<circle cx="375.62" cy="230.90" r="0.6" fill="none" stroke="#f06a6e" stroke-width="0.45" opacity="0.9"/>
<circle cx="337.67" cy="234.06" r="0.6" fill="none" stroke="#3a9ad8" stroke-width="0.45" opacity="0.9"/>
<circle cx="374.32" cy="230.62" r="0.6" fill="none" stroke="#3a9ad8" stroke-width="0.45" opacity="0.9"/>
<circle cx="394.26" cy="229.15" r="0.6" fill="none" stroke="#f06a6e" stroke-width="0.45" opacity="0.9"/>
<circle cx="326.10" cy="232.78" r="0.6" fill="none" stroke="#f06a6e" stroke-width="0.45" opacity="0.9"/>
<circle cx="365.65" cy="225.33" r="0.6" fill="none" stroke="#3a9ad8" stroke-width="0.45" opacity="0.9"/>
<circle cx="378.27" cy="228.72" r="0.6" fill="none" stroke="#f06a6e" stroke-width="0.45" opacity="0.9"/>
<circle cx="397.09" cy="223.20" r="0.6" fill="none" stroke="#f06a6e" stroke-width="0.45" opacity="0.9"/>
<circle cx="387.34" cy="220.07" r="0.6" fill="none" stroke="#f06a6e" stroke-width="0.45" opacity="0.9"/>
<circle cx="383.30" cy="233.59" r="0.6" fill="none" stroke="#f06a6e" stroke-width="0.45" opacity="0.9"/>
<circle cx="328.31" cy="233.25" r="0.6" fill="none" stroke="#3a9ad8" stroke-width="0.45" opacity="0.9"/>
<circle cx="378.64" cy="231.56" r="0.6" fill="none" stroke="#f06a6e" stroke-width="0.45" opacity="0.9"/>
<circle cx="346.68" cy="229.38" r="0.6" fill="none" stroke="#f06a6e" stroke-width="0.45" opacity="0.9"/>
<circle cx="336.63" cy="203.49" r="0.6" fill="none" stroke="#f06a6e" stroke-width="0.45" opacity="0.9"/>
<circle cx="352.05" cy="230.42" r="0.6" fill="none" stroke="#f06a6e" stroke-width="0.45" opacity="0.9"/>
<circle cx="322.22" cy="229.21" r="0.6" fill="none" stroke="#f06a6e" stroke-width="0.45" opacity="0.9"/>
<circle cx="359.26" cy="232.94" r="0.6" fill="none" stroke="#f06a6e" stroke-width="0.45" opacity="0.9"/>
<circle cx="354.70" cy="234.12" r="0.6" fill="none" stroke="#f06a6e" stroke-width="0.45" opacity="0.9"/>
<circle cx="335.63" cy="233.91" r="0.6" fill="none" stroke="#f06a6e" stroke-width="0.45" opacity="0.9"/>
<circle cx="358.29" cy="229.73" r="0.6" fill="none" stroke="#f06a6e" stroke-width="0.45" opacity="0.9"/>
<circle cx="354.67" cy="234.13" r="0.6" fill="none" stroke="#3a9ad8" stroke-width="0.45" opacity="0.9"/>
<circle cx="339.73" cy="231.22" r="0.6" fill="none" stroke="#f06a6e" stroke-width="0.45" opacity="0.9"/>
<circle cx="372.42" cy="233.49" r="0.6" fill="none" stroke="#f06a6e" stroke-width="0.45" opacity="0.9"/>
<circle cx="380.94" cy="229.18" r="0.6" fill="none" stroke="#f06a6e" stroke-width="0.45" opacity="0.9"/>
<circle cx="397.57" cy="232.68" r="0.6" fill="none" stroke="#f06a6e" stroke-width="0.45" opacity="0.9"/>
<circle cx="387.99" cy="229.13" r="0.6" fill="none" stroke="#f06a6e" stroke-width="0.45" opacity="0.9"/>
<circle cx="377.27" cy="221.42" r="0.6" fill="none" stroke="#f06a6e" stroke-width="0.45" opacity="0.9"/>
<circle cx="324.45" cy="233.19" r="0.6" fill="none" stroke="#f06a6e" stroke-width="0.45" opacity="0.9"/>
<circle cx="326.37" cy="220.80" r="0.6" fill="none" stroke="#f06a6e" stroke-width="0.45" opacity="0.9"/>
<circle cx="400.88" cy="229.08" r="0.6" fill="none" stroke="#3a9ad8" stroke-width="0.45" opacity="0.9"/>
<circle cx="398.15" cy="232.32" r="0.6" fill="none" stroke="#f06a6e" stroke-width="0.45" opacity="0.9"/>
<circle cx="398.67" cy="232.39" r="0.6" fill="none" stroke="#3a9ad8" stroke-width="0.45" opacity="0.9"/>
<circle cx="331.29" cy="232.13" r="0.6" fill="none" stroke="#3a9ad8" stroke-width="0.45" opacity="0.9"/>
<circle cx="397.21" cy="229.49" r="0.6" fill="none" stroke="#f06a6e" stroke-width="0.45" opacity="0.9"/>
<circle cx="389.69" cy="228.30" r="0.6" fill="none" stroke="#f06a6e" stroke-width="0.45" opacity="0.9"/>
<circle cx="355.59" cy="229.23" r="0.6" fill="none" stroke="#f06a6e" stroke-width="0.45" opacity="0.9"/>
<circle cx="343.83" cy="229.62" r="0.6" fill="none" stroke="#3a9ad8" stroke-width="0.45" opacity="0.9"/>
<circle cx="379.56" cy="231.13" r="0.6" fill="none" stroke="#f06a6e" stroke-width="0.45" opacity="0.9"/>
<circle cx="379.57" cy="231.26" r="0.6" fill="none" stroke="#3a9ad8" stroke-width="0.45" opacity="0.9"/>
<circle cx="376.86" cy="232.76" r="0.6" fill="none" stroke="#3a9ad8" stroke-width="0.45" opacity="0.9"/>
<circle cx="374.03" cy="221.22" r="0.6" fill="none" stroke="#f06a6e" stroke-width="0.45" opacity="0.9"/>
<circle cx="394.65" cy="229.29" r="0.6" fill="none" stroke="#f06a6e" stroke-width="0.45" opacity="0.9"/>
<circle cx="327.84" cy="228.09" r="0.6" fill="none" stroke="#f06a6e" stroke-width="0.45" opacity="0.9"/>
<circle cx="368.08" cy="233.77" r="0.6" fill="none" stroke="#3a9ad8" stroke-width="0.45" opacity="0.9"/>
<circle cx="341.50" cy="233.31" r="0.6" fill="none" stroke="#3a9ad8" stroke-width="0.45" opacity="0.9"/>
<circle cx="369.43" cy="232.81" r="0.6" fill="none" stroke="#3a9ad8" stroke-width="0.45" opacity="0.9"/>
<circle cx="339.83" cy="231.57" r="0.6" fill="none" stroke="#3a9ad8" stroke-width="0.45" opacity="0.9"/>
<circle cx="370.95" cy="226.27" r="0.6" fill="none" stroke="#f06a6e" stroke-width="0.45" opacity="0.9"/>
<circle cx="336.39" cy="228.93" r="0.6" fill="none" stroke="#f06a6e" stroke-width="0.45" opacity="0.9"/>
<circle cx="323.94" cy="224.46" r="0.6" fill="none" stroke="#3a9ad8" stroke-width="0.45" opacity="0.9"/>
<circle cx="328.95" cy="232.85" r="0.6" fill="none" stroke="#3a9ad8" stroke-width="0.45" opacity="0.9"/>
<circle cx="371.85" cy="222.88" r="0.6" fill="none" stroke="#3a9ad8" stroke-width="0.45" opacity="0.9"/>
<circle cx="350.03" cy="231.40" r="0.6" fill="none" stroke="#f06a6e" stroke-width="0.45" opacity="0.9"/>
<circle cx="389.67" cy="229.00" r="0.6" fill="none" stroke="#f06a6e" stroke-width="0.45" opacity="0.9"/>
<circle cx="365.67" cy="229.57" r="0.6" fill="none" stroke="#f06a6e" stroke-width="0.45" opacity="0.9"/>
<circle cx="350.04" cy="233.84" r="0.6" fill="none" stroke="#3a9ad8" stroke-width="0.45" opacity="0.9"/>
<circle cx="381.56" cy="230.09" r="0.6" fill="none" stroke="#f06a6e" stroke-width="0.45" opacity="0.9"/>
<circle cx="339.35" cy="227.83" r="0.6" fill="none" stroke="#f06a6e" stroke-width="0.45" opacity="0.9"/>
<circle cx="356.90" cy="232.88" r="0.6" fill="none" stroke="#f06a6e" stroke-width="0.45" opacity="0.9"/>
<circle cx="397.41" cy="221.18" r="0.6" fill="none" stroke="#3a9ad8" stroke-width="0.45" opacity="0.9"/>
<circle cx="371.58" cy="221.07" r="0.6" fill="none" stroke="#f06a6e" stroke-width="0.45" opacity="0.9"/>
<circle cx="398.79" cy="224.25" r="0.6" fill="none" stroke="#f06a6e" stroke-width="0.45" opacity="0.9"/>
<circle cx="384.65" cy="227.82" r="0.6" fill="none" stroke="#3a9ad8" stroke-width="0.45" opacity="0.9"/>
<circle cx="345.66" cy="227.26" r="0.6" fill="none" stroke="#f06a6e" stroke-width="0.45" opacity="0.9"/>
<circle cx="380.51" cy="230.92" r="0.6" fill="none" stroke="#f06a6e" stroke-width="0.45" opacity="0.9"/>
<circle cx="325.29" cy="230.16" r="0.6" fill="none" stroke="#3a9ad8" stroke-width="0.45" opacity="0.9"/>
<circle cx="349.93" cy="223.10" r="0.6" fill="none" stroke="#f06a6e" stroke-width="0.45" opacity="0.9"/>
<circle cx="330.37" cy="231.63" r="0.6" fill="none" stroke="#f06a6e" stroke-width="0.45" opacity="0.9"/>
<circle cx="334.41" cy="223.79" r="0.6" fill="none" stroke="#3a9ad8" stroke-width="0.45" opacity="0.9"/>
<circle cx="401.35" cy="228.71" r="0.6" fill="none" stroke="#f06a6e" stroke-width="0.45" opacity="0.9"/>
<circle cx="347.27" cy="230.88" r="0.6" fill="none" stroke="#3a9ad8" stroke-width="0.45" opacity="0.9"/>
<circle cx="351.14" cy="230.02" r="0.6" fill="none" stroke="#f06a6e" stroke-width="0.45" opacity="0.9"/>
<circle cx="393.83" cy="229.84" r="0.6" fill="none" stroke="#f06a6e" stroke-width="0.45" opacity="0.9"/>
<circle cx="387.34" cy="233.45" r="0.6" fill="none" stroke="#f06a6e" stroke-width="0.45" opacity="0.9"/>
<circle cx="365.40" cy="233.97" r="0.6" fill="none" stroke="#f06a6e" stroke-width="0.45" opacity="0.9"/>
<circle cx="384.37" cy="227.93" r="0.6" fill="none" stroke="#3a9ad8" stroke-width="0.45" opacity="0.9"/>
<circle cx="401.32" cy="233.10" r="0.6" fill="none" stroke="#f06a6e" stroke-width="0.45" opacity="0.9"/>
<circle cx="357.02" cy="233.97" r="0.6" fill="none" stroke="#3a9ad8" stroke-width="0.45" opacity="0.9"/>
<circle cx="329.60" cy="232.69" r="0.6" fill="none" stroke="#3a9ad8" stroke-width="0.45" opacity="0.9"/>
<circle cx="355.88" cy="234.01" r="0.6" fill="none" stroke="#f06a6e" stroke-width="0.45" opacity="0.9"/>
<circle cx="372.83" cy="220.61" r="0.6" fill="none" stroke="#3a9ad8" stroke-width="0.45" opacity="0.9"/>
<circle cx="342.04" cy="229.37" r="0.6" fill="none" stroke="#3a9ad8" stroke-width="0.45" opacity="0.9"/>
<circle cx="363.22" cy="226.02" r="0.6" fill="none" stroke="#f06a6e" stroke-width="0.45" opacity="0.9"/>
<circle cx="335.67" cy="230.12" r="0.6" fill="none" stroke="#3a9ad8" stroke-width="0.45" opacity="0.9"/>
<circle cx="395.40" cy="229.97" r="0.6" fill="none" stroke="#3a9ad8" stroke-width="0.45" opacity="0.9"/>
<circle cx="387.93" cy="231.61" r="0.6" fill="none" stroke="#f06a6e" stroke-width="0.45" opacity="0.9"/>
<circle cx="335.83" cy="229.86" r="0.6" fill="none" stroke="#3a9ad8" stroke-width="0.45" opacity="0.9"/>
<circle cx="366.31" cy="232.01" r="0.6" fill="none" stroke="#f06a6e" stroke-width="0.45" opacity="0.9"/>
<circle cx="387.04" cy="228.06" r="0.6" fill="none" stroke="#f06a6e" stroke-width="0.45" opacity="0.9"/>
<circle cx="347.51" cy="231.62" r="0.6" fill="none" stroke="#3a9ad8" stroke-width="0.45" opacity="0.9"/>
<circle cx="389.04" cy="224.72" r="0.6" fill="none" stroke="#f06a6e" stroke-width="0.45" opacity="0.9"/>
<circle cx="368.54" cy="231.13" r="0.6" fill="none" stroke="#f06a6e" stroke-width="0.45" opacity="0.9"/>
<circle cx="379.46" cy="232.19" r="0.6" fill="none" stroke="#3a9ad8" stroke-width="0.45" opacity="0.9"/>
<circle cx="352.08" cy="228.48" r="0.6" fill="none" stroke="#3a9ad8" stroke-width="0.45" opacity="0.9"/>
<circle cx="374.13" cy="228.32" r="0.6" fill="none" stroke="#f06a6e" stroke-width="0.45" opacity="0.9"/>
<circle cx="353.05" cy="229.56" r="0.6" fill="none" stroke="#f06a6e" stroke-width="0.45" opacity="0.9"/>
<circle cx="398.94" cy="230.97" r="0.6" fill="none" stroke="#f06a6e" stroke-width="0.45" opacity="0.9"/>
<circle cx="344.84" cy="232.67" r="0.6" fill="none" stroke="#3a9ad8" stroke-width="0.45" opacity="0.9"/>
<circle cx="328.42" cy="233.00" r="0.6" fill="none" stroke="#f06a6e" stroke-width="0.45" opacity="0.9"/>
<circle cx="364.63" cy="221.73" r="0.6" fill="none" stroke="#3a9ad8" stroke-width="0.45" opacity="0.9"/>
<circle cx="388.24" cy="232.47" r="0.6" fill="none" stroke="#3a9ad8" stroke-width="0.45" opacity="0.9"/>
<circle cx="327.62" cy="231.16" r="0.6" fill="none" stroke="#f06a6e" stroke-width="0.45" opacity="0.9"/>
<circle cx="366.24" cy="232.77" r="0.6" fill="none" stroke="#3a9ad8" stroke-width="0.45" opacity="0.9"/>
<circle cx="333.68" cy="226.41" r="0.6" fill="none" stroke="#3a9ad8" stroke-width="0.45" opacity="0.9"/>
<circle cx="376.64" cy="232.17" r="0.6" fill="none" stroke="#f06a6e" stroke-width="0.45" opacity="0.9"/>
<circle cx="383.52" cy="233.07" r="0.6" fill="none" stroke="#3a9ad8" stroke-width="0.45" opacity="0.9"/>
<circle cx="392.86" cy="228.06" r="0.6" fill="none" stroke="#f06a6e" stroke-width="0.45" opacity="0.9"/>
<circle cx="352.97" cy="231.77" r="0.6" fill="none" stroke="#3a9ad8" stroke-width="0.45" opacity="0.9"/>
<circle cx="344.74" cy="233.36" r="0.6" fill="none" stroke="#f06a6e" stroke-width="0.45" opacity="0.9"/>
<circle cx="350.55" cy="231.56" r="0.6" fill="none" stroke="#f06a6e" stroke-width="0.45" opacity="0.9"/>
<circle cx="398.08" cy="223.57" r="0.6" fill="none" stroke="#f06a6e" stroke-width="0.45" opacity="0.9"/>
<circle cx="350.70" cy="217.07" r="0.6" fill="none" stroke="#3a9ad8" stroke-width="0.45" opacity="0.9"/>
<circle cx="347.38" cy="232.06" r="0.6" fill="none" stroke="#3a9ad8" stroke-width="0.45" opacity="0.9"/>
<circle cx="385.34" cy="231.28" r="0.6" fill="none" stroke="#f06a6e" stroke-width="0.45" opacity="0.9"/>
<circle cx="357.83" cy="228.89" r="0.6" fill="none" stroke="#f06a6e" stroke-width="0.45" opacity="0.9"/>
<circle cx="370.14" cy="212.72" r="0.6" fill="none" stroke="#f06a6e" stroke-width="0.45" opacity="0.9"/>
<circle cx="400.04" cy="231.78" r="0.6" fill="none" stroke="#f06a6e" stroke-width="0.45" opacity="0.9"/>
<circle cx="338.39" cy="227.94" r="0.6" fill="none" stroke="#3a9ad8" stroke-width="0.45" opacity="0.9"/>
<circle cx="392.69" cy="234.21" r="0.6" fill="none" stroke="#3a9ad8" stroke-width="0.45" opacity="0.9"/>
<circle cx="386.31" cy="222.61" r="0.6" fill="none" stroke="#f06a6e" stroke-width="0.45" opacity="0.9"/>
<circle cx="384.05" cy="230.79" r="0.6" fill="none" stroke="#f06a6e" stroke-width="0.45" opacity="0.9"/>
<circle cx="333.85" cy="232.20" r="0.6" fill="none" stroke="#3a9ad8" stroke-width="0.45" opacity="0.9"/>
<circle cx="352.25" cy="231.97" r="0.6" fill="none" stroke="#3a9ad8" stroke-width="0.45" opacity="0.9"/>
<circle cx="401.42" cy="226.35" r="0.6" fill="none" stroke="#3a9ad8" stroke-width="0.45" opacity="0.9"/>
<circle cx="345.23" cy="223.95" r="0.6" fill="none" stroke="#f06a6e" stroke-width="0.45" opacity="0.9"/>
<circle cx="362.57" cy="229.18" r="0.6" fill="none" stroke="#3a9ad8" stroke-width="0.45" opacity="0.9"/>
<circle cx="344.87" cy="216.85" r="0.6" fill="none" stroke="#3a9ad8" stroke-width="0.45" opacity="0.9"/>
<circle cx="365.05" cy="219.50" r="0.6" fill="none" stroke="#f06a6e" stroke-width="0.45" opacity="0.9"/>
<circle cx="357.77" cy="233.85" r="0.6" fill="none" stroke="#f06a6e" stroke-width="0.45" opacity="0.9"/>
<circle cx="390.65" cy="233.41" r="0.6" fill="none" stroke="#3a9ad8" stroke-width="0.45" opacity="0.9"/>
<circle cx="353.11" cy="221.74" r="0.6" fill="none" stroke="#f06a6e" stroke-width="0.45" opacity="0.9"/>
<circle cx="366.45" cy="222.51" r="0.6" fill="none" stroke="#3a9ad8" stroke-width="0.45" opacity="0.9"/>
<circle cx="379.62" cy="232.35" r="0.6" fill="none" stroke="#f06a6e" stroke-width="0.45" opacity="0.9"/>
<circle cx="354.32" cy="230.06" r="0.6" fill="none" stroke="#3a9ad8" stroke-width="0.45" opacity="0.9"/>
<circle cx="369.34" cy="232.87" r="0.6" fill="none" stroke="#f06a6e" stroke-width="0.45" opacity="0.9"/>
<circle cx="371.79" cy="233.77" r="0.6" fill="none" stroke="#f06a6e" stroke-width="0.45" opacity="0.9"/>
<circle cx="344.92" cy="230.80" r="0.6" fill="none" stroke="#3a9ad8" stroke-width="0.45" opacity="0.9"/>
<circle cx="365.28" cy="221.87" r="0.6" fill="none" stroke="#3a9ad8" stroke-width="0.45" opacity="0.9"/>
<circle cx="395.96" cy="229.86" r="0.6" fill="none" stroke="#f06a6e" stroke-width="0.45" opacity="0.9"/>
<circle cx="393.28" cy="231.21" r="0.6" fill="none" stroke="#3a9ad8" stroke-width="0.45" opacity="0.9"/>
<circle cx="345.23" cy="228.95" r="0.6" fill="none" stroke="#3a9ad8" stroke-width="0.45" opacity="0.9"/>
<circle cx="328.87" cy="232.02" r="0.6" fill="none" stroke="#f06a6e" stroke-width="0.45" opacity="0.9"/>
<circle cx="389.43" cy="232.52" r="0.6" fill="none" stroke="#f06a6e" stroke-width="0.45" opacity="0.9"/>
<circle cx="363.45" cy="230.21" r="0.6" fill="none" stroke="#3a9ad8" stroke-width="0.45" opacity="0.9"/>
<circle cx="357.33" cy="227.94" r="0.6" fill="none" stroke="#3a9ad8" stroke-width="0.45" opacity="0.9"/>
<circle cx="328.77" cy="229.40" r="0.6" fill="none" stroke="#3a9ad8" stroke-width="0.45" opacity="0.9"/>
<circle cx="327.35" cy="231.18" r="0.6" fill="none" stroke="#3a9ad8" stroke-width="0.45" opacity="0.9"/>
<circle cx="394.45" cy="229.33" r="0.6" fill="none" stroke="#f06a6e" stroke-width="0.45" opacity="0.9"/>
<circle cx="369.21" cy="229.07" r="0.6" fill="none" stroke="#f06a6e" stroke-width="0.45" opacity="0.9"/>
<circle cx="329.17" cy="233.90" r="0.6" fill="none" stroke="#3a9ad8" stroke-width="0.45" opacity="0.9"/>
<circle cx="364.42" cy="233.75" r="0.6" fill="none" stroke="#f06a6e" stroke-width="0.45" opacity="0.9"/>
<circle cx="359.97" cy="226.21" r="0.6" fill="none" stroke="#f06a6e" stroke-width="0.45" opacity="0.9"/>
<circle cx="401.55" cy="226.37" r="0.6" fill="none" stroke="#f06a6e" stroke-width="0.45" opacity="0.9"/>
<circle cx="346.18" cy="229.27" r="0.6" fill="none" stroke="#3a9ad8" stroke-width="0.45" opacity="0.9"/>
<circle cx="372.22" cy="229.30" r="0.6" fill="none" stroke="#3a9ad8" stroke-width="0.45" opacity="0.9"/>
<circle cx="391.46" cy="231.25" r="0.6" fill="none" stroke="#f06a6e" stroke-width="0.45" opacity="0.9"/>
<circle cx="357.06" cy="233.04" r="0.6" fill="none" stroke="#3a9ad8" stroke-width="0.45" opacity="0.9"/>
<circle cx="339.50" cy="220.24" r="0.6" fill="none" stroke="#f06a6e" stroke-width="0.45" opacity="0.9"/>
<circle cx="396.00" cy="232.92" r="0.6" fill="none" stroke="#f06a6e" stroke-width="0.45" opacity="0.9"/>
<circle cx="325.05" cy="231.80" r="0.6" fill="none" stroke="#3a9ad8" stroke-width="0.45" opacity="0.9"/>
<circle cx="389.47" cy="231.69" r="0.6" fill="none" stroke="#f06a6e" stroke-width="0.45" opacity="0.9"/>
<circle cx="336.39" cy="232.59" r="0.6" fill="none" stroke="#3a9ad8" stroke-width="0.45" opacity="0.9"/>
<circle cx="349.56" cy="232.87" r="0.6" fill="none" stroke="#f06a6e" stroke-width="0.45" opacity="0.9"/>
<circle cx="367.75" cy="229.75" r="0.6" fill="none" stroke="#f06a6e" stroke-width="0.45" opacity="0.9"/>
<circle cx="376.34" cy="233.16" r="0.6" fill="none" stroke="#3a9ad8" stroke-width="0.45" opacity="0.9"/>
<circle cx="353.93" cy="230.41" r="0.6" fill="none" stroke="#3a9ad8" stroke-width="0.45" opacity="0.9"/>
<circle cx="357.83" cy="229.19" r="0.6" fill="none" stroke="#3a9ad8" stroke-width="0.45" opacity="0.9"/>
<circle cx="361.70" cy="232.55" r="0.6" fill="none" stroke="#3a9ad8" stroke-width="0.45" opacity="0.9"/>
<circle cx="377.54" cy="228.99" r="0.6" fill="none" stroke="#3a9ad8" stroke-width="0.45" opacity="0.9"/>
<circle cx="350.02" cy="216.97" r="0.6" fill="none" stroke="#f06a6e" stroke-width="0.45" opacity="0.9"/>
<circle cx="380.07" cy="229.54" r="0.6" fill="none" stroke="#f06a6e" stroke-width="0.45" opacity="0.9"/>
<circle cx="330.72" cy="228.77" r="0.6" fill="none" stroke="#3a9ad8" stroke-width="0.45" opacity="0.9"/>
<circle cx="365.69" cy="227.60" r="0.6" fill="none" stroke="#f06a6e" stroke-width="0.45" opacity="0.9"/>
<circle cx="369.21" cy="231.25" r="0.6" fill="none" stroke="#f06a6e" stroke-width="0.45" opacity="0.9"/>
<circle cx="383.66" cy="232.33" r="0.6" fill="none" stroke="#3a9ad8" stroke-width="0.45" opacity="0.9"/>
<circle cx="393.65" cy="227.88" r="0.6" fill="none" stroke="#3a9ad8" stroke-width="0.45" opacity="0.9"/>
<circle cx="382.59" cy="234.23" r="0.6" fill="none" stroke="#3a9ad8" stroke-width="0.45" opacity="0.9"/>
<circle cx="381.54" cy="231.19" r="0.6" fill="none" stroke="#f06a6e" stroke-width="0.45" opacity="0.9"/>
<circle cx="342.24" cy="225.86" r="0.6" fill="none" stroke="#f06a6e" stroke-width="0.45" opacity="0.9"/>
<circle cx="330.88" cy="232.22" r="0.6" fill="none" stroke="#3a9ad8" stroke-width="0.45" opacity="0.9"/>
<circle cx="335.98" cy="233.02" r="0.6" fill="none" stroke="#3a9ad8" stroke-width="0.45" opacity="0.9"/>
<circle cx="368.69" cy="233.94" r="0.6" fill="none" stroke="#f06a6e" stroke-width="0.45" opacity="0.9"/>
<circle cx="338.33" cy="233.21" r="0.6" fill="none" stroke="#f06a6e" stroke-width="0.45" opacity="0.9"/>
<circle cx="365.54" cy="210.13" r="0.6" fill="none" stroke="#f06a6e" stroke-width="0.45" opacity="0.9"/>
<circle cx="354.18" cy="232.50" r="0.6" fill="none" stroke="#f06a6e" stroke-width="0.45" opacity="0.9"/>
<circle cx="398.26" cy="228.14" r="0.6" fill="none" stroke="#f06a6e" stroke-width="0.45" opacity="0.9"/>
<circle cx="357.16" cy="228.04" r="0.6" fill="none" stroke="#f06a6e" stroke-width="0.45" opacity="0.9"/>
<circle cx="368.28" cy="233.00" r="0.6" fill="none" stroke="#f06a6e" stroke-width="0.45" opacity="0.9"/>
<circle cx="401.82" cy="223.30" r="0.6" fill="none" stroke="#3a9ad8" stroke-width="0.45" opacity="0.9"/>
<circle cx="329.98" cy="223.04" r="0.6" fill="none" stroke="#f06a6e" stroke-width="0.45" opacity="0.9"/>
<circle cx="359.02" cy="224.10" r="0.6" fill="none" stroke="#3a9ad8" stroke-width="0.45" opacity="0.9"/>
<circle cx="335.39" cy="230.26" r="0.6" fill="none" stroke="#3a9ad8" stroke-width="0.45" opacity="0.9"/>
<circle cx="352.16" cy="223.13" r="0.6" fill="none" stroke="#3a9ad8" stroke-width="0.45" opacity="0.9"/>
<circle cx="377.67" cy="229.07" r="0.6" fill="none" stroke="#f06a6e" stroke-width="0.45" opacity="0.9"/>
<circle cx="366.08" cy="231.78" r="0.6" fill="none" stroke="#f06a6e" stroke-width="0.45" opacity="0.9"/>
<circle cx="335.77" cy="231.13" r="0.6" fill="none" stroke="#3a9ad8" stroke-width="0.45" opacity="0.9"/>
<circle cx="362.90" cy="209.55" r="0.6" fill="none" stroke="#3a9ad8" stroke-width="0.45" opacity="0.9"/>
<circle cx="352.17" cy="230.68" r="0.6" fill="none" stroke="#3a9ad8" stroke-width="0.45" opacity="0.9"/>
<circle cx="396.61" cy="233.27" r="0.6" fill="none" stroke="#3a9ad8" stroke-width="0.45" opacity="0.9"/>
<circle cx="381.90" cy="229.50" r="0.6" fill="none" stroke="#f06a6e" stroke-width="0.45" opacity="0.9"/>
<circle cx="366.07" cy="225.24" r="0.6" fill="none" stroke="#f06a6e" stroke-width="0.45" opacity="0.9"/>
<circle cx="333.08" cy="221.03" r="0.6" fill="none" stroke="#f06a6e" stroke-width="0.45" opacity="0.9"/>
<circle cx="322.58" cy="229.20" r="0.6" fill="none" stroke="#3a9ad8" stroke-width="0.45" opacity="0.9"/>
<circle cx="358.92" cy="215.20" r="0.6" fill="none" stroke="#f06a6e" stroke-width="0.45" opacity="0.9"/>
<circle cx="378.78" cy="232.47" r="0.6" fill="none" stroke="#3a9ad8" stroke-width="0.45" opacity="0.9"/>
<circle cx="335.84" cy="230.93" r="0.6" fill="none" stroke="#f06a6e" stroke-width="0.45" opacity="0.9"/>
<circle cx="400.67" cy="229.09" r="0.6" fill="none" stroke="#f06a6e" stroke-width="0.45" opacity="0.9"/>
<circle cx="387.24" cy="229.96" r="0.6" fill="none" stroke="#f06a6e" stroke-width="0.45" opacity="0.9"/>
<circle cx="340.19" cy="229.10" r="0.6" fill="none" stroke="#f06a6e" stroke-width="0.45" opacity="0.9"/>
<circle cx="340.62" cy="233.68" r="0.6" fill="none" stroke="#f06a6e" stroke-width="0.45" opacity="0.9"/>
<circle cx="368.40" cy="230.42" r="0.6" fill="none" stroke="#f06a6e" stroke-width="0.45" opacity="0.9"/>
<circle cx="324.01" cy="232.10" r="0.6" fill="none" stroke="#f06a6e" stroke-width="0.45" opacity="0.9"/>
<circle cx="368.09" cy="229.35" r="0.6" fill="none" stroke="#3a9ad8" stroke-width="0.45" opacity="0.9"/>
<circle cx="375.65" cy="226.48" r="0.6" fill="none" stroke="#f06a6e" stroke-width="0.45" opacity="0.9"/>
<circle cx="346.98" cy="229.14" r="0.6" fill="none" stroke="#3a9ad8" stroke-width="0.45" opacity="0.9"/>
<circle cx="330.08" cy="207.40" r="0.6" fill="none" stroke="#3a9ad8" stroke-width="0.45" opacity="0.9"/>
<circle cx="357.53" cy="227.80" r="0.6" fill="none" stroke="#f06a6e" stroke-width="0.45" opacity="0.9"/>
<circle cx="351.67" cy="230.02" r="0.6" fill="none" stroke="#3a9ad8" stroke-width="0.45" opacity="0.9"/>
<circle cx="360.85" cy="228.29" r="0.6" fill="none" stroke="#f06a6e" stroke-width="0.45" opacity="0.9"/>
<circle cx="322.94" cy="234.27" r="0.6" fill="none" stroke="#3a9ad8" stroke-width="0.45" opacity="0.9"/>
<circle cx="392.39" cy="233.63" r="0.6" fill="none" stroke="#f06a6e" stroke-width="0.45" opacity="0.9"/>
<circle cx="346.68" cy="232.35" r="0.6" fill="none" stroke="#f06a6e" stroke-width="0.45" opacity="0.9"/>
<circle cx="332.75" cy="232.97" r="0.6" fill="none" stroke="#3a9ad8" stroke-width="0.45" opacity="0.9"/>
<circle cx="325.55" cy="225.00" r="0.6" fill="none" stroke="#f06a6e" stroke-width="0.45" opacity="0.9"/>
<circle cx="382.33" cy="229.30" r="0.6" fill="none" stroke="#f06a6e" stroke-width="0.45" opacity="0.9"/>
<circle cx="373.07" cy="229.92" r="0.6" fill="none" stroke="#f06a6e" stroke-width="0.45" opacity="0.9"/>
<circle cx="399.94" cy="233.86" r="0.6" fill="none" stroke="#f06a6e" stroke-width="0.45" opacity="0.9"/>
<circle cx="397.02" cy="229.68" r="0.6" fill="none" stroke="#f06a6e" stroke-width="0.45" opacity="0.9"/>
<circle cx="353.66" cy="230.39" r="0.6" fill="none" stroke="#f06a6e" stroke-width="0.45" opacity="0.9"/>
<circle cx="346.76" cy="230.43" r="0.6" fill="none" stroke="#3a9ad8" stroke-width="0.45" opacity="0.9"/>
<circle cx="342.79" cy="230.07" r="0.6" fill="none" stroke="#3a9ad8" stroke-width="0.45" opacity="0.9"/>
<circle cx="399.50" cy="232.98" r="0.6" fill="none" stroke="#f06a6e" stroke-width="0.45" opacity="0.9"/>
<circle cx="326.74" cy="230.50" r="0.6" fill="none" stroke="#3a9ad8" stroke-width="0.45" opacity="0.9"/>
<circle cx="341.56" cy="233.66" r="0.6" fill="none" stroke="#f06a6e" stroke-width="0.45" opacity="0.9"/>
<circle cx="362.61" cy="228.56" r="0.6" fill="none" stroke="#3a9ad8" stroke-width="0.45" opacity="0.9"/>
<circle cx="349.55" cy="234.04" r="0.6" fill="none" stroke="#3a9ad8" stroke-width="0.45" opacity="0.9"/>
<circle cx="382.84" cy="229.58" r="0.6" fill="none" stroke="#f06a6e" stroke-width="0.45" opacity="0.9"/>
<circle cx="339.78" cy="233.02" r="0.6" fill="none" stroke="#3a9ad8" stroke-width="0.45" opacity="0.9"/>
<circle cx="374.01" cy="232.74" r="0.6" fill="none" stroke="#3a9ad8" stroke-width="0.45" opacity="0.9"/>
<circle cx="360.74" cy="231.03" r="0.6" fill="none" stroke="#f06a6e" stroke-width="0.45" opacity="0.9"/>
<circle cx="338.21" cy="230.10" r="0.6" fill="none" stroke="#3a9ad8" stroke-width="0.45" opacity="0.9"/>
<circle cx="396.12" cy="228.51" r="0.6" fill="none" stroke="#3a9ad8" stroke-width="0.45" opacity="0.9"/>
<circle cx="379.75" cy="231.48" r="0.6" fill="none" stroke="#3a9ad8" stroke-width="0.45" opacity="0.9"/>
<circle cx="394.85" cy="230.43" r="0.6" fill="none" stroke="#3a9ad8" stroke-width="0.45" opacity="0.9"/>
<circle cx="345.73" cy="220.71" r="0.6" fill="none" stroke="#f06a6e" stroke-width="0.45" opacity="0.9"/>
<circle cx="333.76" cy="228.91" r="0.6" fill="none" stroke="#3a9ad8" stroke-width="0.45" opacity="0.9"/>
<circle cx="347.57" cy="228.27" r="0.6" fill="none" stroke="#f06a6e" stroke-width="0.45" opacity="0.9"/>
<circle cx="323.48" cy="218.57" r="0.6" fill="none" stroke="#3a9ad8" stroke-width="0.45" opacity="0.9"/>
<circle cx="401.05" cy="233.74" r="0.6" fill="none" stroke="#3a9ad8" stroke-width="0.45" opacity="0.9"/>
<circle cx="341.75" cy="228.21" r="0.6" fill="none" stroke="#f06a6e" stroke-width="0.45" opacity="0.9"/>
<circle cx="394.99" cy="232.33" r="0.6" fill="none" stroke="#f06a6e" stroke-width="0.45" opacity="0.9"/>
<circle cx="365.93" cy="231.71" r="0.6" fill="none" stroke="#f06a6e" stroke-width="0.45" opacity="0.9"/>
<circle cx="346.15" cy="220.29" r="0.6" fill="none" stroke="#3a9ad8" stroke-width="0.45" opacity="0.9"/>
<circle cx="388.40" cy="232.67" r="0.6" fill="none" stroke="#f06a6e" stroke-width="0.45" opacity="0.9"/>
<circle cx="334.54" cy="194.56" r="0.6" fill="none" stroke="#3a9ad8" stroke-width="0.45" opacity="0.9"/>
<circle cx="367.18" cy="231.52" r="0.6" fill="none" stroke="#f06a6e" stroke-width="0.45" opacity="0.9"/>
<circle cx="395.28" cy="232.43" r="0.6" fill="none" stroke="#3a9ad8" stroke-width="0.45" opacity="0.9"/>
<circle cx="338.24" cy="221.24" r="0.6" fill="none" stroke="#3a9ad8" stroke-width="0.45" opacity="0.9"/>
<circle cx="330.64" cy="216.00" r="0.6" fill="none" stroke="#f06a6e" stroke-width="0.45" opacity="0.9"/>
<circle cx="375.00" cy="232.67" r="0.6" fill="none" stroke="#f06a6e" stroke-width="0.45" opacity="0.9"/>
<circle cx="368.61" cy="228.64" r="0.6" fill="none" stroke="#f06a6e" stroke-width="0.45" opacity="0.9"/>
<circle cx="335.74" cy="233.56" r="0.6" fill="none" stroke="#f06a6e" stroke-width="0.45" opacity="0.9"/>
<circle cx="366.00" cy="232.13" r="0.6" fill="none" stroke="#f06a6e" stroke-width="0.45" opacity="0.9"/>
<circle cx="361.41" cy="227.73" r="0.6" fill="none" stroke="#3a9ad8" stroke-width="0.45" opacity="0.9"/>
<circle cx="361.10" cy="233.19" r="0.6" fill="none" stroke="#3a9ad8" stroke-width="0.45" opacity="0.9"/>
<circle cx="360.82" cy="230.95" r="0.6" fill="none" stroke="#3a9ad8" stroke-width="0.45" opacity="0.9"/>
<circle cx="352.40" cy="231.92" r="0.6" fill="none" stroke="#f06a6e" stroke-width="0.45" opacity="0.9"/>
<circle cx="366.13" cy="231.08" r="0.6" fill="none" stroke="#f06a6e" stroke-width="0.45" opacity="0.9"/>
<circle cx="360.27" cy="231.51" r="0.6" fill="none" stroke="#3a9ad8" stroke-width="0.45" opacity="0.9"/>
<circle cx="331.29" cy="231.67" r="0.6" fill="none" stroke="#3a9ad8" stroke-width="0.45" opacity="0.9"/>
<circle cx="343.10" cy="230.79" r="0.6" fill="none" stroke="#3a9ad8" stroke-width="0.45" opacity="0.9"/>
<circle cx="390.48" cy="219.60" r="0.6" fill="none" stroke="#f06a6e" stroke-width="0.45" opacity="0.9"/>
<circle cx="352.70" cy="229.39" r="0.6" fill="none" stroke="#f06a6e" stroke-width="0.45" opacity="0.9"/>
<circle cx="382.27" cy="219.32" r="0.6" fill="none" stroke="#3a9ad8" stroke-width="0.45" opacity="0.9"/>
<circle cx="392.89" cy="233.78" r="0.6" fill="none" stroke="#3a9ad8" stroke-width="0.45" opacity="0.9"/>
<circle cx="329.38" cy="228.90" r="0.6" fill="none" stroke="#f06a6e" stroke-width="0.45" opacity="0.9"/>
<circle cx="375.65" cy="232.93" r="0.6" fill="none" stroke="#3a9ad8" stroke-width="0.45" opacity="0.9"/>
<circle cx="325.05" cy="228.21" r="0.6" fill="none" stroke="#f06a6e" stroke-width="0.45" opacity="0.9"/>
<circle cx="379.09" cy="225.00" r="0.6" fill="none" stroke="#3a9ad8" stroke-width="0.45" opacity="0.9"/>
<circle cx="378.55" cy="233.05" r="0.6" fill="none" stroke="#f06a6e" stroke-width="0.45" opacity="0.9"/>
<circle cx="400.56" cy="230.49" r="0.6" fill="none" stroke="#f06a6e" stroke-width="0.45" opacity="0.9"/>
<circle cx="390.59" cy="230.91" r="0.6" fill="none" stroke="#f06a6e" stroke-width="0.45" opacity="0.9"/>
<circle cx="333.06" cy="222.30" r="0.6" fill="none" stroke="#3a9ad8" stroke-width="0.45" opacity="0.9"/>
<circle cx="344.80" cy="233.23" r="0.6" fill="none" stroke="#3a9ad8" stroke-width="0.45" opacity="0.9"/>
<circle cx="357.48" cy="230.92" r="0.6" fill="none" stroke="#3a9ad8" stroke-width="0.45" opacity="0.9"/>
<circle cx="347.76" cy="229.32" r="0.6" fill="none" stroke="#3a9ad8" stroke-width="0.45" opacity="0.9"/>
<circle cx="345.97" cy="228.27" r="0.6" fill="none" stroke="#3a9ad8" stroke-width="0.45" opacity="0.9"/>
<circle cx="370.13" cy="228.07" r="0.6" fill="none" stroke="#f06a6e" stroke-width="0.45" opacity="0.9"/>
<circle cx="339.54" cy="232.02" r="0.6" fill="none" stroke="#3a9ad8" stroke-width="0.45" opacity="0.9"/>
<circle cx="351.53" cy="211.50" r="0.6" fill="none" stroke="#f06a6e" stroke-width="0.45" opacity="0.9"/>
<circle cx="375.48" cy="230.29" r="0.6" fill="none" stroke="#f06a6e" stroke-width="0.45" opacity="0.9"/>
<circle cx="364.37" cy="228.90" r="0.6" fill="none" stroke="#f06a6e" stroke-width="0.45" opacity="0.9"/>
<circle cx="385.62" cy="228.78" r="0.6" fill="none" stroke="#f06a6e" stroke-width="0.45" opacity="0.9"/>
<circle cx="361.28" cy="229.67" r="0.6" fill="none" stroke="#f06a6e" stroke-width="0.45" opacity="0.9"/>
<circle cx="343.26" cy="230.65" r="0.6" fill="none" stroke="#3a9ad8" stroke-width="0.45" opacity="0.9"/>
<circle cx="322.04" cy="233.00" r="0.6" fill="none" stroke="#3a9ad8" stroke-width="0.45" opacity="0.9"/>
<circle cx="358.86" cy="232.42" r="0.6" fill="none" stroke="#3a9ad8" stroke-width="0.45" opacity="0.9"/>
<circle cx="387.85" cy="234.28" r="0.6" fill="none" stroke="#f06a6e" stroke-width="0.45" opacity="0.9"/>
<circle cx="361.60" cy="229.17" r="0.6" fill="none" stroke="#f06a6e" stroke-width="0.45" opacity="0.9"/>
<circle cx="345.76" cy="225.53" r="0.6" fill="none" stroke="#3a9ad8" stroke-width="0.45" opacity="0.9"/>
<circle cx="391.60" cy="232.07" r="0.6" fill="none" stroke="#f06a6e" stroke-width="0.45" opacity="0.9"/>
<circle cx="366.78" cy="230.81" r="0.6" fill="none" stroke="#f06a6e" stroke-width="0.45" opacity="0.9"/>
<circle cx="322.56" cy="233.27" r="0.6" fill="none" stroke="#f06a6e" stroke-width="0.45" opacity="0.9"/>
<circle cx="390.96" cy="232.75" r="0.6" fill="none" stroke="#f06a6e" stroke-width="0.45" opacity="0.9"/>
<circle cx="373.39" cy="229.42" r="0.6" fill="none" stroke="#f06a6e" stroke-width="0.45" opacity="0.9"/>
<circle cx="402.78" cy="232.44" r="0.6" fill="none" stroke="#f06a6e" stroke-width="0.45" opacity="0.9"/>
<circle cx="391.84" cy="225.61" r="0.6" fill="none" stroke="#f06a6e" stroke-width="0.45" opacity="0.9"/>
<circle cx="356.72" cy="233.43" r="0.6" fill="none" stroke="#3a9ad8" stroke-width="0.45" opacity="0.9"/>
<circle cx="390.15" cy="223.78" r="0.6" fill="none" stroke="#f06a6e" stroke-width="0.45" opacity="0.9"/>
<circle cx="400.98" cy="232.31" r="0.6" fill="none" stroke="#f06a6e" stroke-width="0.45" opacity="0.9"/>
<circle cx="336.61" cy="232.87" r="0.6" fill="none" stroke="#3a9ad8" stroke-width="0.45" opacity="0.9"/>
<circle cx="354.10" cy="222.91" r="0.6" fill="none" stroke="#3a9ad8" stroke-width="0.45" opacity="0.9"/>
<circle cx="390.45" cy="232.57" r="0.6" fill="none" stroke="#f06a6e" stroke-width="0.45" opacity="0.9"/>
<circle cx="356.78" cy="221.11" r="0.6" fill="none" stroke="#3a9ad8" stroke-width="0.45" opacity="0.9"/>
<circle cx="397.22" cy="228.95" r="0.6" fill="none" stroke="#f06a6e" stroke-width="0.45" opacity="0.9"/>
<circle cx="382.63" cy="228.75" r="0.6" fill="none" stroke="#f06a6e" stroke-width="0.45" opacity="0.9"/>
<circle cx="371.77" cy="228.56" r="0.6" fill="none" stroke="#f06a6e" stroke-width="0.45" opacity="0.9"/>
<circle cx="374.54" cy="233.03" r="0.6" fill="none" stroke="#f06a6e" stroke-width="0.45" opacity="0.9"/>
<circle cx="360.41" cy="207.33" r="0.6" fill="none" stroke="#3a9ad8" stroke-width="0.45" opacity="0.9"/>
<circle cx="392.58" cy="232.02" r="0.6" fill="none" stroke="#3a9ad8" stroke-width="0.45" opacity="0.9"/>
<circle cx="389.50" cy="222.60" r="0.6" fill="none" stroke="#f06a6e" stroke-width="0.45" opacity="0.9"/>
<circle cx="338.72" cy="231.14" r="0.6" fill="none" stroke="#3a9ad8" stroke-width="0.45" opacity="0.9"/>
<circle cx="368.52" cy="228.95" r="0.6" fill="none" stroke="#f06a6e" stroke-width="0.45" opacity="0.9"/>
<circle cx="395.26" cy="228.63" r="0.6" fill="none" stroke="#f06a6e" stroke-width="0.45" opacity="0.9"/>
<circle cx="357.28" cy="226.55" r="0.6" fill="none" stroke="#f06a6e" stroke-width="0.45" opacity="0.9"/>
<circle cx="401.35" cy="227.28" r="0.6" fill="none" stroke="#f06a6e" stroke-width="0.45" opacity="0.9"/>
<circle cx="337.73" cy="221.96" r="0.6" fill="none" stroke="#3a9ad8" stroke-width="0.45" opacity="0.9"/>
<circle cx="339.29" cy="226.45" r="0.6" fill="none" stroke="#f06a6e" stroke-width="0.45" opacity="0.9"/>
<circle cx="369.71" cy="230.08" r="0.6" fill="none" stroke="#3a9ad8" stroke-width="0.45" opacity="0.9"/>
<circle cx="401.60" cy="230.59" r="0.6" fill="none" stroke="#3a9ad8" stroke-width="0.45" opacity="0.9"/>
<circle cx="375.22" cy="228.76" r="0.6" fill="none" stroke="#f06a6e" stroke-width="0.45" opacity="0.9"/>
<circle cx="386.21" cy="225.54" r="0.6" fill="none" stroke="#f06a6e" stroke-width="0.45" opacity="0.9"/>
<circle cx="372.16" cy="230.88" r="0.6" fill="none" stroke="#f06a6e" stroke-width="0.45" opacity="0.9"/>
<circle cx="397.46" cy="227.21" r="0.6" fill="none" stroke="#f06a6e" stroke-width="0.45" opacity="0.9"/>
<circle cx="353.17" cy="233.25" r="0.6" fill="none" stroke="#3a9ad8" stroke-width="0.45" opacity="0.9"/>
<circle cx="383.89" cy="233.05" r="0.6" fill="none" stroke="#3a9ad8" stroke-width="0.45" opacity="0.9"/>
<circle cx="322.97" cy="231.13" r="0.6" fill="none" stroke="#f06a6e" stroke-width="0.45" opacity="0.9"/>
<circle cx="356.16" cy="213.89" r="0.6" fill="none" stroke="#f06a6e" stroke-width="0.45" opacity="0.9"/>
<circle cx="387.96" cy="228.47" r="0.6" fill="none" stroke="#f06a6e" stroke-width="0.45" opacity="0.9"/>
<circle cx="328.29" cy="230.95" r="0.6" fill="none" stroke="#f06a6e" stroke-width="0.45" opacity="0.9"/>
<circle cx="384.46" cy="230.76" r="0.6" fill="none" stroke="#3a9ad8" stroke-width="0.45" opacity="0.9"/>
<circle cx="369.79" cy="229.37" r="0.6" fill="none" stroke="#3a9ad8" stroke-width="0.45" opacity="0.9"/>
<circle cx="368.93" cy="229.46" r="0.6" fill="none" stroke="#f06a6e" stroke-width="0.45" opacity="0.9"/>
<circle cx="402.34" cy="234.29" r="0.6" fill="none" stroke="#f06a6e" stroke-width="0.45" opacity="0.9"/>
<circle cx="340.25" cy="231.29" r="0.6" fill="none" stroke="#f06a6e" stroke-width="0.45" opacity="0.9"/>
<circle cx="384.04" cy="227.95" r="0.6" fill="none" stroke="#f06a6e" stroke-width="0.45" opacity="0.9"/>
<circle cx="394.79" cy="231.19" r="0.6" fill="none" stroke="#3a9ad8" stroke-width="0.45" opacity="0.9"/>
<circle cx="355.61" cy="234.00" r="0.6" fill="none" stroke="#3a9ad8" stroke-width="0.45" opacity="0.9"/>
<circle cx="367.44" cy="228.89" r="0.6" fill="none" stroke="#f06a6e" stroke-width="0.45" opacity="0.9"/>
<circle cx="358.02" cy="232.02" r="0.6" fill="none" stroke="#3a9ad8" stroke-width="0.45" opacity="0.9"/>
<circle cx="362.51" cy="232.76" r="0.6" fill="none" stroke="#3a9ad8" stroke-width="0.45" opacity="0.9"/>
<circle cx="344.50" cy="231.95" r="0.6" fill="none" stroke="#3a9ad8" stroke-width="0.45" opacity="0.9"/>
<circle cx="372.38" cy="228.99" r="0.6" fill="none" stroke="#f06a6e" stroke-width="0.45" opacity="0.9"/>
<circle cx="335.95" cy="233.91" r="0.6" fill="none" stroke="#f06a6e" stroke-width="0.45" opacity="0.9"/>
<circle cx="385.37" cy="221.46" r="0.6" fill="none" stroke="#3a9ad8" stroke-width="0.45" opacity="0.9"/>
<circle cx="366.96" cy="223.84" r="0.6" fill="none" stroke="#f06a6e" stroke-width="0.45" opacity="0.9"/>
<circle cx="356.48" cy="233.72" r="0.6" fill="none" stroke="#f06a6e" stroke-width="0.45" opacity="0.9"/>
<circle cx="359.33" cy="227.99" r="0.6" fill="none" stroke="#3a9ad8" stroke-width="0.45" opacity="0.9"/>
<circle cx="381.97" cy="229.93" r="0.6" fill="none" stroke="#3a9ad8" stroke-width="0.45" opacity="0.9"/>
<circle cx="399.60" cy="233.48" r="0.6" fill="none" stroke="#3a9ad8" stroke-width="0.45" opacity="0.9"/>
<circle cx="394.07" cy="228.18" r="0.6" fill="none" stroke="#f06a6e" stroke-width="0.45" opacity="0.9"/>
<circle cx="331.22" cy="231.58" r="0.6" fill="none" stroke="#3a9ad8" stroke-width="0.45" opacity="0.9"/>
<circle cx="329.19" cy="232.91" r="0.6" fill="none" stroke="#3a9ad8" stroke-width="0.45" opacity="0.9"/>
<circle cx="341.19" cy="222.03" r="0.6" fill="none" stroke="#3a9ad8" stroke-width="0.45" opacity="0.9"/>
<circle cx="360.09" cy="229.92" r="0.6" fill="none" stroke="#3a9ad8" stroke-width="0.45" opacity="0.9"/>
<circle cx="330.82" cy="207.16" r="0.6" fill="none" stroke="#f06a6e" stroke-width="0.45" opacity="0.9"/>
<circle cx="398.25" cy="233.86" r="0.6" fill="none" stroke="#f06a6e" stroke-width="0.45" opacity="0.9"/>
<circle cx="324.21" cy="229.69" r="0.6" fill="none" stroke="#3a9ad8" stroke-width="0.45" opacity="0.9"/>
<circle cx="373.14" cy="221.97" r="0.6" fill="none" stroke="#3a9ad8" stroke-width="0.45" opacity="0.9"/>
<circle cx="353.13" cy="233.29" r="0.6" fill="none" stroke="#3a9ad8" stroke-width="0.45" opacity="0.9"/>
<circle cx="338.54" cy="229.49" r="0.6" fill="none" stroke="#3a9ad8" stroke-width="0.45" opacity="0.9"/>
<circle cx="366.26" cy="231.97" r="0.6" fill="none" stroke="#f06a6e" stroke-width="0.45" opacity="0.9"/>
<circle cx="377.78" cy="229.94" r="0.6" fill="none" stroke="#3a9ad8" stroke-width="0.45" opacity="0.9"/>
<circle cx="353.52" cy="213.38" r="0.6" fill="none" stroke="#3a9ad8" stroke-width="0.45" opacity="0.9"/>
<circle cx="364.62" cy="224.06" r="0.6" fill="none" stroke="#f06a6e" stroke-width="0.45" opacity="0.9"/>
<circle cx="363.95" cy="231.29" r="0.6" fill="none" stroke="#3a9ad8" stroke-width="0.45" opacity="0.9"/>
<circle cx="395.64" cy="222.12" r="0.6" fill="none" stroke="#f06a6e" stroke-width="0.45" opacity="0.9"/>
<circle cx="378.96" cy="220.22" r="0.6" fill="none" stroke="#f06a6e" stroke-width="0.45" opacity="0.9"/>
<circle cx="335.97" cy="218.23" r="0.6" fill="none" stroke="#3a9ad8" stroke-width="0.45" opacity="0.9"/>
<circle cx="369.93" cy="231.45" r="0.6" fill="none" stroke="#f06a6e" stroke-width="0.45" opacity="0.9"/>
<circle cx="401.80" cy="229.16" r="0.6" fill="none" stroke="#f06a6e" stroke-width="0.45" opacity="0.9"/>
<circle cx="379.65" cy="229.47" r="0.6" fill="none" stroke="#3a9ad8" stroke-width="0.45" opacity="0.9"/>
<circle cx="328.46" cy="205.59" r="0.6" fill="none" stroke="#f06a6e" stroke-width="0.45" opacity="0.9"/>
<circle cx="359.61" cy="232.80" r="0.6" fill="none" stroke="#3a9ad8" stroke-width="0.45" opacity="0.9"/>
<circle cx="379.60" cy="231.86" r="0.6" fill="none" stroke="#f06a6e" stroke-width="0.45" opacity="0.9"/>
<circle cx="352.73" cy="229.68" r="0.6" fill="none" stroke="#f06a6e" stroke-width="0.45" opacity="0.9"/>
<circle cx="381.72" cy="232.42" r="0.6" fill="none" stroke="#3a9ad8" stroke-width="0.45" opacity="0.9"/>
<circle cx="323.5" cy="188.7" r="0.9" fill="#f0606a"/>
<circle cx="323.5" cy="193.5" r="0.9" fill="#3a9ad8"/>
<text x="326.60" y="190.60" font-size="5.2" fill="#222" text-anchor="start" font-weight="normal" textLength="11.5" lengthAdjust="spacingAndGlyphs">Dead</text>
<text x="326.60" y="195.40" font-size="5.2" fill="#222" text-anchor="start" font-weight="normal" textLength="11" lengthAdjust="spacingAndGlyphs">Alive</text>
<text x="313.50" y="210.60" font-size="4.8" fill="#222" text-anchor="middle" font-weight="normal" transform="rotate(-90 313.5 210.6)" textLength="40" lengthAdjust="spacingAndGlyphs">Survival time (years)</text>
<text x="363.80" y="246.40" font-size="6.0" fill="#111" text-anchor="middle" font-weight="normal" textLength="64" lengthAdjust="spacingAndGlyphs">Patients (increasing risk score)</text>
<text x="424.00" y="123.60" font-size="8.7" fill="#111" text-anchor="start" font-weight="bold">H</text>
<rect x="434.70" y="126.30" width="112.10" height="110.10" fill="#ffffff" stroke="#bdbdbd" stroke-width="0.8"/>
<line x1="434.70" y1="232.00" x2="546.80" y2="232.00" stroke="#ececec" stroke-width="0.5"/>
<text x="432.50" y="233.10" font-size="3.3" fill="#777" text-anchor="end" font-weight="normal">0.00</text>
<line x1="434.70" y1="206.93" x2="546.80" y2="206.93" stroke="#ececec" stroke-width="0.5"/>
<text x="432.50" y="208.03" font-size="3.3" fill="#777" text-anchor="end" font-weight="normal">0.25</text>
<line x1="434.70" y1="181.85" x2="546.80" y2="181.85" stroke="#ececec" stroke-width="0.5"/>
<text x="432.50" y="182.95" font-size="3.3" fill="#777" text-anchor="end" font-weight="normal">0.50</text>
<line x1="434.70" y1="156.78" x2="546.80" y2="156.78" stroke="#ececec" stroke-width="0.5"/>
<text x="432.50" y="157.88" font-size="3.3" fill="#777" text-anchor="end" font-weight="normal">0.75</text>
<line x1="434.70" y1="131.70" x2="546.80" y2="131.70" stroke="#ececec" stroke-width="0.5"/>
<text x="432.50" y="132.80" font-size="3.3" fill="#777" text-anchor="end" font-weight="normal">1.00</text>
<line x1="434.70" y1="219.46" x2="546.80" y2="219.46" stroke="#f6f6f6" stroke-width="0.4"/>
<line x1="434.70" y1="194.39" x2="546.80" y2="194.39" stroke="#f6f6f6" stroke-width="0.4"/>
<line x1="434.70" y1="169.31" x2="546.80" y2="169.31" stroke="#f6f6f6" stroke-width="0.4"/>
<line x1="434.70" y1="144.24" x2="546.80" y2="144.24" stroke="#f6f6f6" stroke-width="0.4"/>
<line x1="439.50" y1="126.30" x2="439.50" y2="236.40" stroke="#ececec" stroke-width="0.5"/>
<text x="439.50" y="240.60" font-size="3.5" fill="#777" text-anchor="middle" font-weight="normal">0</text>
<line x1="456.50" y1="126.30" x2="456.50" y2="236.40" stroke="#ececec" stroke-width="0.5"/>
<text x="456.50" y="240.60" font-size="3.5" fill="#777" text-anchor="middle" font-weight="normal">20</text>
<line x1="473.50" y1="126.30" x2="473.50" y2="236.40" stroke="#ececec" stroke-width="0.5"/>
<text x="473.50" y="240.60" font-size="3.5" fill="#777" text-anchor="middle" font-weight="normal">40</text>
<line x1="490.50" y1="126.30" x2="490.50" y2="236.40" stroke="#ececec" stroke-width="0.5"/>
<text x="490.50" y="240.60" font-size="3.5" fill="#777" text-anchor="middle" font-weight="normal">60</text>
<line x1="507.50" y1="126.30" x2="507.50" y2="236.40" stroke="#ececec" stroke-width="0.5"/>
<text x="507.50" y="240.60" font-size="3.5" fill="#777" text-anchor="middle" font-weight="normal">80</text>
<line x1="524.50" y1="126.30" x2="524.50" y2="236.40" stroke="#ececec" stroke-width="0.5"/>
<text x="524.50" y="240.60" font-size="3.5" fill="#777" text-anchor="middle" font-weight="normal">100</text>
<line x1="541.50" y1="126.30" x2="541.50" y2="236.40" stroke="#ececec" stroke-width="0.5"/>
<text x="541.50" y="240.60" font-size="3.5" fill="#777" text-anchor="middle" font-weight="normal">120</text>
<polyline points="439.50,131.70 439.62,131.70 439.62,131.95 440.88,131.95 440.88,134.62 441.73,134.62 441.73,136.43 442.51,136.43 442.51,138.07 443.21,138.07 443.21,139.56 444.51,139.56 444.51,142.32 445.41,142.32 445.41,144.22 446.08,144.22 446.08,145.66 446.97,145.66 446.97,147.53 447.67,147.53 447.67,149.01 448.39,149.01 448.39,150.55 449.54,150.55 449.54,152.99 450.58,152.99 450.58,155.06 451.10,155.06 451.10,155.84 452.51,155.84 452.51,157.92 452.99,157.92 452.99,158.64 453.88,158.64 453.88,159.96 454.64,159.96 454.64,161.07 456.20,161.07 456.20,163.40 456.91,163.40 456.91,164.44 457.89,164.44 457.89,165.90 458.60,165.90 458.60,166.94 459.07,166.94 459.07,167.66 460.17,167.66 460.17,169.32 461.18,169.32 461.18,170.84 461.80,170.84 461.80,171.77 463.28,171.77 463.28,174.02 463.76,174.02 463.76,174.73 464.49,174.73 464.49,175.85 465.85,175.85 465.85,177.90 466.25,177.90 466.25,178.50 467.71,178.50 467.71,180.71 468.26,180.71 468.26,181.54 469.22,181.54 469.22,182.98 469.96,182.98 469.96,184.10 470.95,184.10 470.95,185.59 471.62,185.59 471.62,186.61 472.41,186.61 472.41,187.79 473.88,187.79 473.88,190.02 474.32,190.02 474.32,190.69 475.60,190.69 475.60,192.48 476.08,192.48 476.08,193.07 477.51,193.07 477.51,194.83 478.35,194.83 478.35,195.85 479.14,195.85 479.14,196.82 480.03,196.82 480.03,197.92 480.79,197.92 480.79,198.86 481.78,198.86 481.78,200.08 482.24,200.08 482.24,200.64 483.38,200.64 483.38,202.02 484.52,202.02 484.52,203.21 484.96,203.21 484.96,203.67 486.37,203.67 486.37,205.13 487.23,205.13 487.23,206.03 487.78,206.03 487.78,206.60 488.38,206.60 488.38,207.23 490.50,207.23 490.50,207.93 495.60,207.93 495.60,209.23 500.70,209.23 500.70,210.44 505.80,210.44 505.80,212.34 513.11,212.34 513.11,216.45 546.60,216.45 546.60,216.45" fill="none" stroke="#f2565e" stroke-width="1.0" stroke-linejoin="miter"/>
<polyline points="439.50,131.70 439.78,131.70 439.78,131.82 440.79,131.82 440.79,132.27 441.68,132.27 441.68,132.67 443.09,132.67 443.09,133.29 443.58,133.29 443.58,133.50 444.25,133.50 444.25,133.80 445.25,133.80 445.25,134.24 446.66,134.24 446.66,134.87 447.82,134.87 447.82,135.38 448.39,135.38 448.39,135.63 449.33,135.63 449.33,136.05 450.32,136.05 450.32,136.49 451.42,136.49 451.42,136.97 451.96,136.97 451.96,137.22 453.20,137.22 453.20,137.76 454.11,137.76 454.11,138.16 455.10,138.16 455.10,138.83 455.72,138.83 455.72,139.32 456.65,139.32 456.65,140.06 457.73,140.06 457.73,140.92 459.12,140.92 459.12,142.01 459.62,142.01 459.62,142.42 460.76,142.42 460.76,143.32 461.49,143.32 461.49,143.89 462.28,143.89 462.28,144.52 463.20,144.52 463.20,145.25 464.71,145.25 464.71,146.45 465.63,146.45 465.63,147.58 466.27,147.58 466.27,148.41 467.45,148.41 467.45,149.94 468.39,149.94 468.39,151.16 469.50,151.16 469.50,152.60 470.49,152.60 470.49,153.89 471.02,153.89 471.02,154.57 472.41,154.57 472.41,156.37 473.33,156.37 473.33,157.57 474.00,157.57 474.00,158.43 475.16,158.43 475.16,159.93 475.81,159.93 475.81,160.50 476.67,160.50 476.67,161.26 477.52,161.26 477.52,162.01 478.94,162.01 478.94,163.27 479.35,163.27 479.35,163.63 480.22,163.63 480.22,164.40 481.73,164.40 481.73,165.73 482.65,165.73 482.65,166.55 483.37,166.55 483.37,167.20 484.59,167.20 484.59,168.41 484.94,168.41 484.94,168.77 486.04,168.77 486.04,169.86 487.01,169.86 487.01,170.83 488.05,170.83 488.05,171.87 488.81,171.87 488.81,172.63 489.68,172.63 489.68,173.50 490.83,173.50 490.83,174.64 491.52,174.64 491.52,175.33 495.60,175.33 495.60,175.83 503.93,175.83 503.93,178.44 507.50,178.44 507.50,178.84 513.11,178.84 513.11,180.45 515.15,180.45 515.15,185.56 527.48,185.56 527.48,185.56 529.51,185.56 529.51,188.67 533.68,188.67 533.68,193.79 546.60,193.79 546.60,193.79" fill="none" stroke="#3a9ad8" stroke-width="1.0" stroke-linejoin="miter"/>
<text x="492.30" y="132.00" font-size="6.0" fill="#222" text-anchor="middle" font-weight="normal" textLength="13.3" lengthAdjust="spacingAndGlyphs">TCGA</text>
<line x1="520.00" y1="135.20" x2="523.80" y2="135.20" stroke="#f2565e" stroke-width="0.8"/>
<line x1="520.00" y1="141.90" x2="523.80" y2="141.90" stroke="#3a9ad8" stroke-width="0.8"/>
<text x="525.00" y="137.20" font-size="5.5" fill="#222" text-anchor="start" font-weight="normal" textLength="18.5" lengthAdjust="spacingAndGlyphs">High risk</text>
<text x="525.00" y="143.90" font-size="5.5" fill="#222" text-anchor="start" font-weight="normal" textLength="17.3" lengthAdjust="spacingAndGlyphs">Low risk</text>
<text x="444.00" y="215.00" font-size="5.4" fill="#222" text-anchor="start" font-weight="normal" textLength="22.5" lengthAdjust="spacingAndGlyphs">p &lt; 0.0001</text>
<text x="490.80" y="247.20" font-size="5.4" fill="#222" text-anchor="middle" font-weight="normal" textLength="30" lengthAdjust="spacingAndGlyphs">Time (months)</text>
<text x="424.00" y="181.50" font-size="5.6" fill="#222" text-anchor="middle" font-weight="normal" transform="rotate(-90 424.0 181.5)" textLength="50" lengthAdjust="spacingAndGlyphs">Survival Probability</text>
<rect x="4.9" y="250.0" width="1.7" height="5.4" fill="#111"/>
<rect x="24.20" y="258.70" width="104.50" height="94.30" fill="#fff" stroke="#777" stroke-width="0.9"/>
<line x1="28.40" y1="258.70" x2="28.40" y2="353.00" stroke="#ededed" stroke-width="0.5"/>
<text x="28.40" y="358.00" font-size="3.8" fill="#555" text-anchor="middle" font-weight="normal">0.0</text>
<line x1="47.54" y1="258.70" x2="47.54" y2="353.00" stroke="#ededed" stroke-width="0.5"/>
<text x="47.54" y="358.00" font-size="3.8" fill="#555" text-anchor="middle" font-weight="normal">0.2</text>
<line x1="66.68" y1="258.70" x2="66.68" y2="353.00" stroke="#ededed" stroke-width="0.5"/>
<text x="66.68" y="358.00" font-size="3.8" fill="#555" text-anchor="middle" font-weight="normal">0.4</text>
<line x1="85.82" y1="258.70" x2="85.82" y2="353.00" stroke="#ededed" stroke-width="0.5"/>
<text x="85.82" y="358.00" font-size="3.8" fill="#555" text-anchor="middle" font-weight="normal">0.6</text>
<line x1="104.96" y1="258.70" x2="104.96" y2="353.00" stroke="#ededed" stroke-width="0.5"/>
<text x="104.96" y="358.00" font-size="3.8" fill="#555" text-anchor="middle" font-weight="normal">0.8</text>
<line x1="124.10" y1="258.70" x2="124.10" y2="353.00" stroke="#ededed" stroke-width="0.5"/>
<text x="124.10" y="358.00" font-size="3.8" fill="#555" text-anchor="middle" font-weight="normal">1.0</text>
<line x1="24.20" y1="340.88" x2="128.70" y2="340.88" stroke="#ededed" stroke-width="0.5"/>
<text x="21.50" y="342.08" font-size="3.8" fill="#555" text-anchor="end" font-weight="normal">0.2</text>
<line x1="24.20" y1="321.76" x2="128.70" y2="321.76" stroke="#ededed" stroke-width="0.5"/>
<text x="21.50" y="322.96" font-size="3.8" fill="#555" text-anchor="end" font-weight="normal">0.4</text>
<line x1="24.20" y1="302.64" x2="128.70" y2="302.64" stroke="#ededed" stroke-width="0.5"/>
<text x="21.50" y="303.84" font-size="3.8" fill="#555" text-anchor="end" font-weight="normal">0.6</text>
<line x1="24.20" y1="283.52" x2="128.70" y2="283.52" stroke="#ededed" stroke-width="0.5"/>
<text x="21.50" y="284.72" font-size="3.8" fill="#555" text-anchor="end" font-weight="normal">0.8</text>
<line x1="24.20" y1="264.40" x2="128.70" y2="264.40" stroke="#ededed" stroke-width="0.5"/>
<text x="21.50" y="265.60" font-size="3.8" fill="#555" text-anchor="end" font-weight="normal">1.0</text>
<line x1="35.10" y1="353.31" x2="124.10" y2="264.40" stroke="#c0c0c0" stroke-width="0.5" stroke-dasharray="0.8,0.8"/>
<polyline points="28.40,349.48 28.61,348.86 28.87,348.07 29.18,347.14 29.54,346.08 29.93,344.90 30.35,343.64 30.80,342.29 31.27,340.88 31.76,339.39 32.27,337.81 32.82,336.13 33.39,334.37 34.00,332.52 34.64,330.60 35.33,328.60 36.06,326.54 36.86,324.32 37.74,321.90 38.67,319.36 39.64,316.76 40.61,314.20 41.57,311.73 42.48,309.45 43.33,307.42 44.11,305.65 44.84,304.05 45.54,302.61 46.22,301.29 46.89,300.05 47.56,298.87 48.25,297.70 48.98,296.52 49.72,295.35 50.47,294.21 51.22,293.11 51.98,292.06 52.76,291.05 53.55,290.08 54.36,289.17 55.20,288.30 56.03,287.49 56.84,286.75 57.66,286.06 58.50,285.42 59.38,284.81 60.32,284.21 61.35,283.63 62.47,283.04 63.74,282.44 65.15,281.84 66.66,281.24 68.23,280.66 69.80,280.12 71.32,279.63 72.76,279.19 74.05,278.84 75.19,278.57 76.23,278.40 77.19,278.30 78.10,278.24 78.98,278.21 79.88,278.17 80.81,278.10 81.80,277.98 82.81,277.83 83.80,277.70 84.78,277.56 85.79,277.41 86.85,277.22 87.99,277.00 89.23,276.71 90.61,276.35 92.10,275.92 93.69,275.43 95.37,274.89 97.14,274.31 98.98,273.68 100.90,273.01 102.90,272.30 104.96,271.57 107.25,270.74 109.86,269.78 112.63,268.74 115.43,267.69 118.11,266.67 120.55,265.74 122.59,264.97 124.10,264.40" fill="none" stroke="#f8a8a8" stroke-width="0.8"/>
<polyline points="28.40,349.48 28.61,348.86 28.87,348.06 29.18,347.11 29.54,346.04 29.93,344.86 30.35,343.60 30.80,342.28 31.27,340.92 31.76,339.52 32.27,338.03 32.82,336.46 33.39,334.82 34.00,333.11 34.64,331.34 35.33,329.51 36.06,327.61 36.85,325.58 37.73,323.36 38.65,321.03 39.61,318.66 40.58,316.33 41.53,314.09 42.46,312.04 43.33,310.23 44.15,308.66 44.96,307.25 45.74,305.99 46.51,304.85 47.26,303.81 48.00,302.84 48.73,301.92 49.45,301.03 50.14,300.21 50.79,299.48 51.42,298.83 52.04,298.24 52.67,297.69 53.33,297.17 54.04,296.65 54.81,296.12 55.58,295.62 56.29,295.20 57.00,294.81 57.77,294.43 58.64,294.02 59.68,293.57 60.94,293.02 62.47,292.36 64.33,291.58 66.48,290.70 68.87,289.75 71.41,288.73 74.05,287.68 76.70,286.61 79.31,285.53 81.80,284.47 84.18,283.42 86.53,282.38 88.85,281.33 91.19,280.26 93.55,279.16 95.96,278.03 98.45,276.85 101.04,275.63 103.89,274.26 107.07,272.72 110.42,271.10 113.77,269.46 116.97,267.89 119.87,266.47 122.29,265.28 124.10,264.40" fill="none" stroke="#f4b88a" stroke-width="0.8"/>
<polyline points="28.40,349.48 28.61,348.86 28.87,348.07 29.18,347.13 29.54,346.06 29.93,344.89 30.35,343.64 30.80,342.33 31.27,340.99 31.76,339.59 32.27,338.11 32.82,336.56 33.39,334.93 34.00,333.24 34.64,331.48 35.33,329.66 36.06,327.78 36.85,325.76 37.73,323.56 38.65,321.25 39.61,318.90 40.58,316.59 41.53,314.37 42.46,312.33 43.33,310.54 44.15,308.99 44.96,307.60 45.74,306.35 46.51,305.22 47.26,304.19 48.00,303.24 48.73,302.34 49.45,301.46 50.14,300.64 50.79,299.93 51.42,299.29 52.04,298.71 52.67,298.17 53.33,297.66 54.04,297.15 54.81,296.63 55.58,296.15 56.29,295.73 57.00,295.35 57.77,294.99 58.64,294.59 59.68,294.15 60.94,293.61 62.47,292.96 64.33,292.19 66.48,291.33 68.87,290.38 71.41,289.38 74.05,288.34 76.70,287.27 79.31,286.19 81.80,285.13 84.18,284.07 86.53,283.01 88.85,281.94 91.19,280.85 93.55,279.72 95.96,278.56 98.45,277.35 101.04,276.09 103.89,274.67 107.07,273.08 110.42,271.38 113.77,269.68 116.97,268.04 119.87,266.56 122.29,265.32 124.10,264.40" fill="none" stroke="#f0983a" stroke-width="0.9"/>
<polyline points="28.40,349.48 28.61,348.85 28.87,348.05 29.18,347.10 29.54,346.02 29.93,344.83 30.35,343.57 30.80,342.24 31.27,340.88 31.76,339.46 32.27,337.97 32.82,336.39 33.39,334.74 34.00,333.03 34.64,331.24 35.33,329.40 36.06,327.50 36.85,325.45 37.73,323.22 38.65,320.88 39.61,318.49 40.58,316.14 41.53,313.89 42.46,311.82 43.33,310.00 44.15,308.42 44.96,307.00 45.74,305.73 46.51,304.58 47.26,303.53 48.00,302.55 48.73,301.63 49.45,300.73 50.14,299.89 50.79,299.16 51.42,298.50 52.04,297.90 52.67,297.35 53.33,296.82 54.04,296.29 54.81,295.76 55.58,295.25 56.29,294.82 57.00,294.42 57.77,294.03 58.64,293.62 59.68,293.15 60.94,292.60 62.47,291.93 64.33,291.14 66.48,290.26 68.87,289.29 71.41,288.27 74.05,287.21 76.70,286.13 79.31,285.05 81.80,284.00 84.18,282.96 86.53,281.93 88.85,280.89 91.19,279.83 93.55,278.76 95.96,277.65 98.45,276.50 101.04,275.30 103.89,273.97 107.07,272.47 110.42,270.89 113.77,269.31 116.97,267.79 119.87,266.41 122.29,265.26 124.10,264.40" fill="none" stroke="#3e8fb0" stroke-width="0.9"/>
<polyline points="28.40,349.48 28.61,348.84 28.87,348.03 29.18,347.06 29.54,345.97 29.93,344.77 30.35,343.48 30.80,342.14 31.27,340.75 31.76,339.32 32.27,337.80 32.82,336.20 33.39,334.52 34.00,332.78 34.64,330.97 35.33,329.10 36.06,327.16 36.85,325.08 37.73,322.82 38.65,320.43 39.61,318.01 40.58,315.62 41.53,313.33 42.46,311.23 43.33,309.37 44.15,307.76 44.96,306.31 45.74,305.01 46.51,303.83 47.26,302.75 48.00,301.75 48.73,300.80 49.45,299.87 50.14,299.02 50.79,298.26 51.42,297.58 52.04,296.96 52.67,296.39 53.33,295.84 54.04,295.29 54.81,294.74 55.58,294.21 56.29,293.75 57.00,293.33 57.77,292.91 58.64,292.48 59.68,291.99 60.94,291.42 62.47,290.73 64.33,289.92 66.48,289.01 68.87,288.02 71.41,286.97 74.05,285.90 76.70,284.81 79.31,283.73 81.80,282.68 84.18,281.67 86.53,280.66 88.85,279.66 91.19,278.65 93.55,277.63 95.96,276.58 98.45,275.50 101.04,274.38 103.89,273.14 107.07,271.77 110.42,270.32 113.77,268.87 116.97,267.48 119.87,266.23 122.29,265.18 124.10,264.40" fill="none" stroke="#6cc8dc" stroke-width="0.9"/>
<text x="30.50" y="268.00" font-size="7.2" fill="#222" text-anchor="start" font-weight="normal" textLength="16.5" lengthAdjust="spacingAndGlyphs">TCGA</text>
<text x="15.60" y="306.00" font-size="4.8" fill="#111" text-anchor="middle" font-weight="bold" transform="rotate(-90 15.6 306.0)" textLength="24" lengthAdjust="spacingAndGlyphs">Sensitivity</text>
<text x="76.60" y="363.60" font-size="4.8" fill="#111" text-anchor="middle" font-weight="bold" textLength="31" lengthAdjust="spacingAndGlyphs">1 - Specificity</text>
<line x1="85.50" y1="327.10" x2="90.50" y2="327.10" stroke="#f8a8a8" stroke-width="0.9"/>
<text x="92.00" y="328.60" font-size="4.3" fill="#333" text-anchor="start" font-weight="normal" textLength="34.4" lengthAdjust="spacingAndGlyphs">AUC at 1 year: 0.77</text>
<line x1="85.50" y1="332.27" x2="90.50" y2="332.27" stroke="#f0983a" stroke-width="0.9"/>
<text x="92.00" y="333.77" font-size="4.3" fill="#333" text-anchor="start" font-weight="normal" textLength="34.4" lengthAdjust="spacingAndGlyphs">AUC at 2 year: 0.74</text>
<line x1="85.50" y1="337.44" x2="90.50" y2="337.44" stroke="#3e8fb0" stroke-width="0.9"/>
<text x="92.00" y="338.94" font-size="4.3" fill="#333" text-anchor="start" font-weight="normal" textLength="34.4" lengthAdjust="spacingAndGlyphs">AUC at 3 year: 0.74</text>
<line x1="85.50" y1="342.61" x2="90.50" y2="342.61" stroke="#6cc8dc" stroke-width="0.9"/>
<text x="92.00" y="344.11" font-size="4.3" fill="#333" text-anchor="start" font-weight="normal" textLength="34.4" lengthAdjust="spacingAndGlyphs">AUC at 4 year: 0.75</text>
<line x1="85.50" y1="347.78" x2="90.50" y2="347.78" stroke="#f4b88a" stroke-width="0.9"/>
<text x="92.00" y="349.28" font-size="4.3" fill="#333" text-anchor="start" font-weight="normal" textLength="34.4" lengthAdjust="spacingAndGlyphs">AUC at 5 year: 0.74</text>
<text x="148.50" y="258.30" font-size="8.7" fill="#111" text-anchor="start" font-weight="bold">J</text>
<text x="223.00" y="261.00" font-size="4.6" fill="#111" text-anchor="middle" font-weight="bold" textLength="102" lengthAdjust="spacingAndGlyphs">C-index of Each Fold in 10-Fold Cross-Validation</text>
<line x1="165.90" y1="262.40" x2="165.90" y2="354.00" stroke="#b8b8b8" stroke-width="0.7"/>
<line x1="165.90" y1="354.00" x2="276.50" y2="354.00" stroke="#b8b8b8" stroke-width="0.7"/>
<line x1="164.60" y1="266.30" x2="165.90" y2="266.30" stroke="#777" stroke-width="0.4"/>
<text x="163.40" y="267.00" font-size="2.0" fill="#aaa" text-anchor="end" font-weight="normal">0.7</text>
<line x1="164.60" y1="278.40" x2="165.90" y2="278.40" stroke="#777" stroke-width="0.4"/>
<text x="163.40" y="279.10" font-size="2.0" fill="#aaa" text-anchor="end" font-weight="normal">0.7</text>
<line x1="164.60" y1="290.30" x2="165.90" y2="290.30" stroke="#777" stroke-width="0.4"/>
<text x="163.40" y="291.00" font-size="2.0" fill="#aaa" text-anchor="end" font-weight="normal">0.7</text>
<line x1="164.60" y1="302.00" x2="165.90" y2="302.00" stroke="#777" stroke-width="0.4"/>
<text x="163.40" y="302.70" font-size="2.0" fill="#aaa" text-anchor="end" font-weight="normal">0.7</text>
<line x1="164.60" y1="314.20" x2="165.90" y2="314.20" stroke="#777" stroke-width="0.4"/>
<text x="163.40" y="314.90" font-size="2.0" fill="#aaa" text-anchor="end" font-weight="normal">0.7</text>
<line x1="164.60" y1="325.90" x2="165.90" y2="325.90" stroke="#777" stroke-width="0.4"/>
<text x="163.40" y="326.60" font-size="2.0" fill="#aaa" text-anchor="end" font-weight="normal">0.7</text>
<line x1="164.60" y1="337.60" x2="165.90" y2="337.60" stroke="#777" stroke-width="0.4"/>
<text x="163.40" y="338.30" font-size="2.0" fill="#aaa" text-anchor="end" font-weight="normal">0.7</text>
<line x1="187.70" y1="354.00" x2="187.70" y2="355.20" stroke="#777" stroke-width="0.4"/>
<text x="187.70" y="358.00" font-size="2.4" fill="#999" text-anchor="middle" font-weight="normal">2</text>
<line x1="215.80" y1="354.00" x2="215.80" y2="355.20" stroke="#777" stroke-width="0.4"/>
<text x="215.80" y="358.00" font-size="2.4" fill="#999" text-anchor="middle" font-weight="normal">4</text>
<line x1="244.20" y1="354.00" x2="244.20" y2="355.20" stroke="#777" stroke-width="0.4"/>
<text x="244.20" y="358.00" font-size="2.4" fill="#999" text-anchor="middle" font-weight="normal">6</text>
<line x1="272.30" y1="354.00" x2="272.30" y2="355.20" stroke="#777" stroke-width="0.4"/>
<text x="272.30" y="358.00" font-size="2.4" fill="#999" text-anchor="middle" font-weight="normal">8</text>
<text x="223.00" y="362.50" font-size="4.4" fill="#111" text-anchor="middle" font-weight="bold">Fold</text>
<text x="158.00" y="305.00" font-size="4.6" fill="#111" text-anchor="middle" font-weight="bold" transform="rotate(-90 158.0 305.0)">C-index</text>
<polyline points="170.30,298.00 181.50,316.40 192.70,290.40 204.00,299.50 215.30,295.40 226.70,292.90 237.90,305.00 249.30,300.20 260.60,293.60 271.80,307.50" fill="none" stroke="#8fd8e0" stroke-width="0.7"/>
<circle cx="170.3" cy="298.0" r="1.1" fill="#ee3a5a"/>
<text x="170.30" y="296.80" font-size="2.5" fill="#555" text-anchor="middle" font-weight="normal">0.728</text>
<circle cx="181.5" cy="316.4" r="1.1" fill="#ee3a5a"/>
<text x="181.50" y="315.20" font-size="2.5" fill="#555" text-anchor="middle" font-weight="normal">0.647</text>
<circle cx="192.7" cy="290.4" r="1.1" fill="#ee3a5a"/>
<text x="192.70" y="289.20" font-size="2.5" fill="#555" text-anchor="middle" font-weight="normal">0.748</text>
<circle cx="204.0" cy="299.5" r="1.1" fill="#ee3a5a"/>
<text x="204.00" y="298.30" font-size="2.5" fill="#555" text-anchor="middle" font-weight="normal">0.719</text>
<circle cx="215.3" cy="295.4" r="1.1" fill="#ee3a5a"/>
<text x="215.30" y="294.20" font-size="2.5" fill="#555" text-anchor="middle" font-weight="normal">0.734</text>
<circle cx="226.7" cy="292.9" r="1.1" fill="#ee3a5a"/>
<text x="226.70" y="291.70" font-size="2.5" fill="#555" text-anchor="middle" font-weight="normal">0.741</text>
<circle cx="237.9" cy="305.0" r="1.1" fill="#ee3a5a"/>
<text x="237.90" y="303.80" font-size="2.5" fill="#555" text-anchor="middle" font-weight="normal">0.702</text>
<circle cx="249.3" cy="300.2" r="1.1" fill="#ee3a5a"/>
<text x="249.30" y="299.00" font-size="2.5" fill="#555" text-anchor="middle" font-weight="normal">0.723</text>
<circle cx="260.6" cy="293.6" r="1.1" fill="#ee3a5a"/>
<text x="260.60" y="292.40" font-size="2.5" fill="#555" text-anchor="middle" font-weight="normal">0.741</text>
<circle cx="271.8" cy="307.5" r="1.1" fill="#ee3a5a"/>
<text x="271.80" y="306.30" font-size="2.5" fill="#555" text-anchor="middle" font-weight="normal">0.689</text>
<text x="303.20" y="258.20" font-size="8.7" fill="#111" text-anchor="start" font-weight="bold">L</text>
<line x1="331.90" y1="253.60" x2="331.90" y2="328.50" stroke="#333" stroke-width="0.8"/>
<line x1="331.90" y1="328.50" x2="406.90" y2="328.50" stroke="#333" stroke-width="0.8"/>
<line x1="330.50" y1="255.50" x2="331.90" y2="255.50" stroke="#333" stroke-width="0.6"/>
<text x="329.90" y="257.20" font-size="4.8" fill="#222" text-anchor="end" font-weight="normal">1.0</text>
<line x1="330.50" y1="272.62" x2="331.90" y2="272.62" stroke="#333" stroke-width="0.6"/>
<text x="329.90" y="274.32" font-size="4.8" fill="#222" text-anchor="end" font-weight="normal">0.8</text>
<line x1="330.50" y1="289.74" x2="331.90" y2="289.74" stroke="#333" stroke-width="0.6"/>
<text x="329.90" y="291.44" font-size="4.8" fill="#222" text-anchor="end" font-weight="normal">0.6</text>
<line x1="330.50" y1="306.86" x2="331.90" y2="306.86" stroke="#333" stroke-width="0.6"/>
<text x="329.90" y="308.56" font-size="4.8" fill="#222" text-anchor="end" font-weight="normal">0.4</text>
<line x1="330.50" y1="323.98" x2="331.90" y2="323.98" stroke="#333" stroke-width="0.6"/>
<text x="329.90" y="325.68" font-size="4.8" fill="#222" text-anchor="end" font-weight="normal">0.2</text>
<line x1="333.60" y1="328.50" x2="333.60" y2="329.90" stroke="#333" stroke-width="0.6"/>
<text x="333.60" y="335.10" font-size="4.7" fill="#222" text-anchor="middle" font-weight="normal">0</text>
<line x1="349.83" y1="328.50" x2="349.83" y2="329.90" stroke="#333" stroke-width="0.6"/>
<text x="349.83" y="335.10" font-size="4.7" fill="#222" text-anchor="middle" font-weight="normal">50</text>
<line x1="366.05" y1="328.50" x2="366.05" y2="329.90" stroke="#333" stroke-width="0.6"/>
<text x="366.05" y="335.10" font-size="4.7" fill="#222" text-anchor="middle" font-weight="normal">100</text>
<line x1="382.28" y1="328.50" x2="382.28" y2="329.90" stroke="#333" stroke-width="0.6"/>
<text x="382.28" y="335.10" font-size="4.7" fill="#222" text-anchor="middle" font-weight="normal">150</text>
<line x1="398.50" y1="328.50" x2="398.50" y2="329.90" stroke="#333" stroke-width="0.6"/>
<text x="398.50" y="335.10" font-size="4.7" fill="#222" text-anchor="middle" font-weight="normal">200</text>
<text x="369.40" y="340.20" font-size="4.9" fill="#222" text-anchor="middle" font-weight="normal" textLength="15" lengthAdjust="spacingAndGlyphs">Months</text>
<text x="319.50" y="291.05" font-size="4.8" fill="#333" text-anchor="middle" font-weight="normal" transform="rotate(-90 319.5 291.05)" textLength="38.5" lengthAdjust="spacingAndGlyphs">Survival probability</text>
<polyline points="333.60,255.50 334.62,255.50 334.62,256.60 335.65,256.60 335.65,257.69 336.68,257.69 336.68,258.79 337.70,258.79 337.70,259.89 338.73,259.89 338.73,260.98 339.75,260.98 339.75,262.08 340.78,262.08 340.78,264.60 341.80,264.60 341.80,267.59 342.82,267.59 342.82,270.57 343.85,270.57 343.85,273.55 344.88,273.55 344.88,276.54 345.90,276.54 345.90,278.95 346.93,278.95 346.93,281.29 347.95,281.29 347.95,283.63 348.98,283.63 348.98,286.04 350.00,286.04 350.00,288.46 352.00,288.46 352.00,296.59 356.00,296.59 356.00,299.16 361.00,299.16 361.00,304.29 369.50,304.29 369.50,312.00 386.50,312.00 386.50,326.55 406.00,326.55 406.00,326.55" fill="none" stroke="#1cb2d6" stroke-width="1.2"/>
<line x1="334.62" y1="255.40" x2="334.62" y2="257.80" stroke="#1cb2d6" stroke-width="0.7"/>
<line x1="336.68" y1="257.59" x2="336.68" y2="259.99" stroke="#1cb2d6" stroke-width="0.7"/>
<line x1="338.73" y1="259.78" x2="338.73" y2="262.18" stroke="#1cb2d6" stroke-width="0.7"/>
<line x1="340.78" y1="263.40" x2="340.78" y2="265.80" stroke="#1cb2d6" stroke-width="0.7"/>
<line x1="342.82" y1="269.37" x2="342.82" y2="271.77" stroke="#1cb2d6" stroke-width="0.7"/>
<line x1="344.88" y1="275.34" x2="344.88" y2="277.74" stroke="#1cb2d6" stroke-width="0.7"/>
<line x1="346.93" y1="280.09" x2="346.93" y2="282.49" stroke="#1cb2d6" stroke-width="0.7"/>
<line x1="348.98" y1="284.84" x2="348.98" y2="287.24" stroke="#1cb2d6" stroke-width="0.7"/>
<line x1="352.00" y1="295.39" x2="352.00" y2="297.79" stroke="#1cb2d6" stroke-width="0.7"/>
<line x1="361.00" y1="303.09" x2="361.00" y2="305.49" stroke="#1cb2d6" stroke-width="0.7"/>
<line x1="386.50" y1="325.35" x2="386.50" y2="327.75" stroke="#1cb2d6" stroke-width="0.7"/>
<polyline points="333.60,255.50 334.57,255.50 334.57,258.99 335.53,258.99 335.53,262.48 336.50,262.48 336.50,265.97 337.47,265.97 337.47,269.46 338.43,269.46 338.43,272.95 339.40,272.95 339.40,276.45 340.37,276.45 340.37,279.93 341.33,279.93 341.33,283.41 342.30,283.41 342.30,286.88 343.27,286.88 343.27,290.36 344.23,290.36 344.23,293.83 345.20,293.83 345.20,297.40 346.17,297.40 346.17,301.33 347.13,301.33 347.13,305.26 348.10,305.26 348.10,309.19 349.07,309.19 349.07,313.22 350.03,313.22 350.03,318.60 351.00,318.60 351.00,323.98 352.00,323.98 352.00,325.69 374.00,325.69 374.00,325.69" fill="none" stroke="#f04a34" stroke-width="1.2"/>
<line x1="334.57" y1="257.79" x2="334.57" y2="260.19" stroke="#f04a34" stroke-width="0.7"/>
<line x1="336.50" y1="264.77" x2="336.50" y2="267.17" stroke="#f04a34" stroke-width="0.7"/>
<line x1="338.43" y1="271.75" x2="338.43" y2="274.15" stroke="#f04a34" stroke-width="0.7"/>
<line x1="340.37" y1="278.73" x2="340.37" y2="281.13" stroke="#f04a34" stroke-width="0.7"/>
<line x1="342.30" y1="285.68" x2="342.30" y2="288.08" stroke="#f04a34" stroke-width="0.7"/>
<line x1="344.23" y1="292.63" x2="344.23" y2="295.03" stroke="#f04a34" stroke-width="0.7"/>
<line x1="346.17" y1="300.13" x2="346.17" y2="302.53" stroke="#f04a34" stroke-width="0.7"/>
<line x1="348.10" y1="307.99" x2="348.10" y2="310.39" stroke="#f04a34" stroke-width="0.7"/>
<line x1="350.03" y1="317.40" x2="350.03" y2="319.80" stroke="#f04a34" stroke-width="0.7"/>
<line x1="352.00" y1="324.49" x2="352.00" y2="326.89" stroke="#f04a34" stroke-width="0.7"/>
<text x="383.30" y="257.60" font-size="4.3" fill="#333" text-anchor="start" font-weight="normal">Female</text>
<line x1="384.30" y1="262.20" x2="388.50" y2="262.20" stroke="#1eb2d2" stroke-width="0.8"/>
<line x1="384.30" y1="266.80" x2="388.50" y2="266.80" stroke="#f0503e" stroke-width="0.8"/>
<text x="389.80" y="263.70" font-size="4.4" fill="#333" text-anchor="start" font-weight="normal" textLength="15.5" lengthAdjust="spacingAndGlyphs">Low risk</text>
<text x="389.80" y="268.30" font-size="4.4" fill="#333" text-anchor="start" font-weight="normal" textLength="16.5" lengthAdjust="spacingAndGlyphs">High risk</text>
<text x="333.70" y="320.00" font-size="4.5" fill="#222" text-anchor="start" font-weight="normal" textLength="42" lengthAdjust="spacingAndGlyphs">HR = 2.82 (1.84 - 4.32)</text>
<text x="333.70" y="324.60" font-size="4.5" fill="#222" text-anchor="start" font-weight="normal">P &lt; 0.001</text>
<line x1="452.50" y1="253.60" x2="452.50" y2="329.70" stroke="#333" stroke-width="0.8"/>
<line x1="452.50" y1="329.70" x2="526.00" y2="329.70" stroke="#333" stroke-width="0.8"/>
<line x1="451.10" y1="256.10" x2="452.50" y2="256.10" stroke="#333" stroke-width="0.6"/>
<text x="450.50" y="257.80" font-size="4.8" fill="#222" text-anchor="end" font-weight="normal">1.00</text>
<line x1="451.10" y1="276.70" x2="452.50" y2="276.70" stroke="#333" stroke-width="0.6"/>
<text x="450.50" y="278.40" font-size="4.8" fill="#222" text-anchor="end" font-weight="normal">0.75</text>
<line x1="451.10" y1="297.30" x2="452.50" y2="297.30" stroke="#333" stroke-width="0.6"/>
<text x="450.50" y="299.00" font-size="4.8" fill="#222" text-anchor="end" font-weight="normal">0.50</text>
<line x1="451.10" y1="317.90" x2="452.50" y2="317.90" stroke="#333" stroke-width="0.6"/>
<text x="450.50" y="319.60" font-size="4.8" fill="#222" text-anchor="end" font-weight="normal">0.25</text>
<line x1="455.10" y1="329.70" x2="455.10" y2="331.10" stroke="#333" stroke-width="0.6"/>
<text x="455.10" y="336.30" font-size="4.7" fill="#222" text-anchor="middle" font-weight="normal">0</text>
<line x1="469.60" y1="329.70" x2="469.60" y2="331.10" stroke="#333" stroke-width="0.6"/>
<text x="469.60" y="336.30" font-size="4.7" fill="#222" text-anchor="middle" font-weight="normal">50</text>
<line x1="484.10" y1="329.70" x2="484.10" y2="331.10" stroke="#333" stroke-width="0.6"/>
<text x="484.10" y="336.30" font-size="4.7" fill="#222" text-anchor="middle" font-weight="normal">100</text>
<line x1="498.60" y1="329.70" x2="498.60" y2="331.10" stroke="#333" stroke-width="0.6"/>
<text x="498.60" y="336.30" font-size="4.7" fill="#222" text-anchor="middle" font-weight="normal">150</text>
<line x1="513.10" y1="329.70" x2="513.10" y2="331.10" stroke="#333" stroke-width="0.6"/>
<text x="513.10" y="336.30" font-size="4.7" fill="#222" text-anchor="middle" font-weight="normal">200</text>
<text x="489.25" y="340.60" font-size="4.9" fill="#222" text-anchor="middle" font-weight="normal" textLength="15" lengthAdjust="spacingAndGlyphs">Months</text>
<text x="440.10" y="291.65" font-size="4.8" fill="#333" text-anchor="middle" font-weight="normal" transform="rotate(-90 440.1 291.65)" textLength="38.5" lengthAdjust="spacingAndGlyphs">Survival probability</text>
<polyline points="455.10,256.10 455.99,256.10 455.99,257.49 456.88,257.49 456.88,258.88 457.77,258.88 457.77,260.27 458.66,260.27 458.66,261.66 459.54,261.66 459.54,263.05 460.43,263.05 460.43,264.43 461.32,264.43 461.32,265.76 462.21,265.76 462.21,267.01 463.10,267.01 463.10,268.26 463.99,268.26 463.99,269.51 464.88,269.51 464.88,270.76 465.77,270.76 465.77,271.92 466.66,271.92 466.66,273.08 467.54,273.08 467.54,274.23 468.43,274.23 468.43,275.38 469.32,275.38 469.32,278.40 470.21,278.40 470.21,282.24 471.10,282.24 471.10,288.24 475.00,288.24 475.00,289.06 478.70,289.06 478.70,290.71 482.50,290.71 482.50,297.30 485.10,297.30 485.10,303.40 525.00,303.40 525.00,303.40" fill="none" stroke="#1cb2d6" stroke-width="1.2"/>
<line x1="455.99" y1="256.29" x2="455.99" y2="258.69" stroke="#1cb2d6" stroke-width="0.7"/>
<line x1="457.77" y1="259.07" x2="457.77" y2="261.47" stroke="#1cb2d6" stroke-width="0.7"/>
<line x1="459.54" y1="261.85" x2="459.54" y2="264.25" stroke="#1cb2d6" stroke-width="0.7"/>
<line x1="461.32" y1="264.56" x2="461.32" y2="266.96" stroke="#1cb2d6" stroke-width="0.7"/>
<line x1="463.10" y1="267.06" x2="463.10" y2="269.46" stroke="#1cb2d6" stroke-width="0.7"/>
<line x1="464.88" y1="269.56" x2="464.88" y2="271.96" stroke="#1cb2d6" stroke-width="0.7"/>
<line x1="466.66" y1="271.88" x2="466.66" y2="274.28" stroke="#1cb2d6" stroke-width="0.7"/>
<line x1="468.43" y1="274.18" x2="468.43" y2="276.58" stroke="#1cb2d6" stroke-width="0.7"/>
<line x1="470.21" y1="281.04" x2="470.21" y2="283.44" stroke="#1cb2d6" stroke-width="0.7"/>
<line x1="475.00" y1="287.86" x2="475.00" y2="290.26" stroke="#1cb2d6" stroke-width="0.7"/>
<line x1="482.50" y1="296.10" x2="482.50" y2="298.50" stroke="#1cb2d6" stroke-width="0.7"/>
<line x1="525.00" y1="302.20" x2="525.00" y2="304.60" stroke="#1cb2d6" stroke-width="0.7"/>
<polyline points="455.10,256.10 456.01,256.10 456.01,260.21 456.92,260.21 456.92,264.33 457.82,264.33 457.82,270.41 458.73,270.41 458.73,276.99 459.64,276.99 459.64,283.47 460.55,283.47 460.55,287.68 461.45,287.68 461.45,291.89 462.36,291.89 462.36,296.11 463.27,296.11 463.27,300.32 464.18,300.32 464.18,302.51 465.08,302.51 465.08,304.36 465.99,304.36 465.99,306.20 466.90,306.20 466.90,308.05 467.81,308.05 467.81,309.90 468.72,309.90 468.72,311.52 469.62,311.52 469.62,312.40 470.53,312.40 470.53,313.28 471.44,313.28 471.44,314.16 472.35,314.16 472.35,315.04 473.25,315.04 473.25,315.92 474.16,315.92 474.16,316.66 475.07,316.66 475.07,317.32 475.98,317.32 475.98,317.98 476.88,317.98 476.88,318.64 477.79,318.64 477.79,319.30 478.70,319.30 478.70,319.96 479.00,319.96 479.00,326.39 523.00,326.39 523.00,326.39" fill="none" stroke="#f04a34" stroke-width="1.2"/>
<line x1="456.01" y1="259.01" x2="456.01" y2="261.41" stroke="#f04a34" stroke-width="0.7"/>
<line x1="457.82" y1="269.21" x2="457.82" y2="271.61" stroke="#f04a34" stroke-width="0.7"/>
<line x1="459.64" y1="282.27" x2="459.64" y2="284.67" stroke="#f04a34" stroke-width="0.7"/>
<line x1="461.45" y1="290.69" x2="461.45" y2="293.09" stroke="#f04a34" stroke-width="0.7"/>
<line x1="463.27" y1="299.12" x2="463.27" y2="301.52" stroke="#f04a34" stroke-width="0.7"/>
<line x1="465.08" y1="303.16" x2="465.08" y2="305.56" stroke="#f04a34" stroke-width="0.7"/>
<line x1="466.90" y1="306.85" x2="466.90" y2="309.25" stroke="#f04a34" stroke-width="0.7"/>
<line x1="468.72" y1="310.32" x2="468.72" y2="312.72" stroke="#f04a34" stroke-width="0.7"/>
<line x1="470.53" y1="312.08" x2="470.53" y2="314.48" stroke="#f04a34" stroke-width="0.7"/>
<line x1="472.35" y1="313.84" x2="472.35" y2="316.24" stroke="#f04a34" stroke-width="0.7"/>
<line x1="474.16" y1="315.46" x2="474.16" y2="317.86" stroke="#f04a34" stroke-width="0.7"/>
<line x1="475.98" y1="316.78" x2="475.98" y2="319.18" stroke="#f04a34" stroke-width="0.7"/>
<line x1="477.79" y1="318.10" x2="477.79" y2="320.50" stroke="#f04a34" stroke-width="0.7"/>
<line x1="479.00" y1="325.19" x2="479.00" y2="327.59" stroke="#f04a34" stroke-width="0.7"/>
<text x="502.30" y="258.20" font-size="4.3" fill="#333" text-anchor="start" font-weight="normal">Male</text>
<line x1="503.30" y1="262.80" x2="507.50" y2="262.80" stroke="#1eb2d2" stroke-width="0.8"/>
<line x1="503.30" y1="267.40" x2="507.50" y2="267.40" stroke="#f0503e" stroke-width="0.8"/>
<text x="508.80" y="264.30" font-size="4.4" fill="#333" text-anchor="start" font-weight="normal" textLength="15.5" lengthAdjust="spacingAndGlyphs">Low risk</text>
<text x="508.80" y="268.90" font-size="4.4" fill="#333" text-anchor="start" font-weight="normal" textLength="16.5" lengthAdjust="spacingAndGlyphs">High risk</text>
<text x="454.30" y="321.20" font-size="4.5" fill="#222" text-anchor="start" font-weight="normal" textLength="42" lengthAdjust="spacingAndGlyphs">HR = 3.40 (2.10 - 5.51)</text>
<text x="454.30" y="325.80" font-size="4.5" fill="#222" text-anchor="start" font-weight="normal">P &lt; 0.001</text>
<text x="303.00" y="346.80" font-size="8.7" fill="#111" text-anchor="start" font-weight="bold">M</text>
<line x1="331.50" y1="340.80" x2="331.50" y2="416.80" stroke="#333" stroke-width="0.8"/>
<line x1="331.50" y1="416.80" x2="406.70" y2="416.80" stroke="#333" stroke-width="0.8"/>
<line x1="330.10" y1="344.20" x2="331.50" y2="344.20" stroke="#333" stroke-width="0.6"/>
<text x="329.50" y="345.90" font-size="4.8" fill="#222" text-anchor="end" font-weight="normal">1.0</text>
<line x1="330.10" y1="361.65" x2="331.50" y2="361.65" stroke="#333" stroke-width="0.6"/>
<text x="329.50" y="363.35" font-size="4.8" fill="#222" text-anchor="end" font-weight="normal">0.8</text>
<line x1="330.10" y1="379.10" x2="331.50" y2="379.10" stroke="#333" stroke-width="0.6"/>
<text x="329.50" y="380.80" font-size="4.8" fill="#222" text-anchor="end" font-weight="normal">0.6</text>
<line x1="330.10" y1="396.55" x2="331.50" y2="396.55" stroke="#333" stroke-width="0.6"/>
<text x="329.50" y="398.25" font-size="4.8" fill="#222" text-anchor="end" font-weight="normal">0.4</text>
<line x1="330.10" y1="414.00" x2="331.50" y2="414.00" stroke="#333" stroke-width="0.6"/>
<text x="329.50" y="415.70" font-size="4.8" fill="#222" text-anchor="end" font-weight="normal">0.2</text>
<line x1="333.60" y1="416.80" x2="333.60" y2="418.20" stroke="#333" stroke-width="0.6"/>
<text x="333.60" y="423.40" font-size="4.7" fill="#222" text-anchor="middle" font-weight="normal">0</text>
<line x1="348.60" y1="416.80" x2="348.60" y2="418.20" stroke="#333" stroke-width="0.6"/>
<text x="348.60" y="423.40" font-size="4.7" fill="#222" text-anchor="middle" font-weight="normal">50</text>
<line x1="363.60" y1="416.80" x2="363.60" y2="418.20" stroke="#333" stroke-width="0.6"/>
<text x="363.60" y="423.40" font-size="4.7" fill="#222" text-anchor="middle" font-weight="normal">100</text>
<line x1="378.60" y1="416.80" x2="378.60" y2="418.20" stroke="#333" stroke-width="0.6"/>
<text x="378.60" y="423.40" font-size="4.7" fill="#222" text-anchor="middle" font-weight="normal">150</text>
<line x1="393.60" y1="416.80" x2="393.60" y2="418.20" stroke="#333" stroke-width="0.6"/>
<text x="393.60" y="423.40" font-size="4.7" fill="#222" text-anchor="middle" font-weight="normal">200</text>
<text x="369.10" y="429.30" font-size="4.9" fill="#222" text-anchor="middle" font-weight="normal" textLength="15" lengthAdjust="spacingAndGlyphs">Months</text>
<text x="319.10" y="378.80" font-size="4.8" fill="#333" text-anchor="middle" font-weight="normal" transform="rotate(-90 319.1 378.8)" textLength="38.5" lengthAdjust="spacingAndGlyphs">Survival probability</text>
<polyline points="333.60,344.20 334.88,344.20 334.88,346.64 336.15,346.64 336.15,349.09 337.43,349.09 337.43,351.53 338.70,351.53 338.70,353.98 339.98,353.98 339.98,356.42 341.25,356.42 341.25,359.60 342.53,359.60 342.53,362.94 343.80,362.94 343.80,366.05 345.07,366.05 345.07,368.44 346.35,368.44 346.35,370.83 347.62,370.83 347.62,373.22 348.90,373.22 348.90,375.61 350.18,375.61 350.18,377.43 351.45,377.43 351.45,379.25 352.73,379.25 352.73,381.07 354.00,381.07 354.00,382.37 355.27,382.37 355.27,383.24 356.55,383.24 356.55,384.12 357.82,384.12 357.82,384.99 359.10,384.99 359.10,385.86 360.38,385.86 360.38,387.33 361.65,387.33 361.65,389.53 362.93,389.53 362.93,391.73 364.20,391.73 364.20,393.93 366.80,393.93 366.80,399.43 382.70,399.43 382.70,406.58 406.00,406.58 406.00,406.58" fill="none" stroke="#1cb2d6" stroke-width="1.2"/>
<line x1="334.88" y1="345.44" x2="334.88" y2="347.84" stroke="#1cb2d6" stroke-width="0.7"/>
<line x1="337.43" y1="350.33" x2="337.43" y2="352.73" stroke="#1cb2d6" stroke-width="0.7"/>
<line x1="339.98" y1="355.22" x2="339.98" y2="357.62" stroke="#1cb2d6" stroke-width="0.7"/>
<line x1="342.53" y1="361.74" x2="342.53" y2="364.14" stroke="#1cb2d6" stroke-width="0.7"/>
<line x1="345.07" y1="367.24" x2="345.07" y2="369.64" stroke="#1cb2d6" stroke-width="0.7"/>
<line x1="347.62" y1="372.02" x2="347.62" y2="374.42" stroke="#1cb2d6" stroke-width="0.7"/>
<line x1="350.18" y1="376.23" x2="350.18" y2="378.63" stroke="#1cb2d6" stroke-width="0.7"/>
<line x1="352.73" y1="379.87" x2="352.73" y2="382.27" stroke="#1cb2d6" stroke-width="0.7"/>
<line x1="355.27" y1="382.04" x2="355.27" y2="384.44" stroke="#1cb2d6" stroke-width="0.7"/>
<line x1="357.82" y1="383.79" x2="357.82" y2="386.19" stroke="#1cb2d6" stroke-width="0.7"/>
<line x1="360.38" y1="386.13" x2="360.38" y2="388.53" stroke="#1cb2d6" stroke-width="0.7"/>
<line x1="362.93" y1="390.53" x2="362.93" y2="392.93" stroke="#1cb2d6" stroke-width="0.7"/>
<line x1="366.80" y1="398.23" x2="366.80" y2="400.63" stroke="#1cb2d6" stroke-width="0.7"/>
<line x1="406.00" y1="405.38" x2="406.00" y2="407.78" stroke="#1cb2d6" stroke-width="0.7"/>
<polyline points="333.60,344.20 334.59,344.20 334.59,348.50 335.57,348.50 335.57,352.79 336.56,352.79 336.56,357.09 337.54,357.09 337.54,361.39 338.53,361.39 338.53,365.74 339.51,365.74 339.51,370.13 340.50,370.13 340.50,374.53 341.48,374.53 341.48,378.92 342.47,378.92 342.47,383.26 343.45,383.26 343.45,386.84 344.44,386.84 344.44,390.42 345.42,390.42 345.42,394.01 346.41,394.01 346.41,397.59 347.39,397.59 347.39,400.97 348.38,400.97 348.38,403.50 349.36,403.50 349.36,406.03 350.35,406.03 350.35,408.57 351.33,408.57 351.33,410.60 352.31,410.60 352.31,410.99 353.30,410.99 353.30,411.38 359.80,411.38 359.80,415.31 403.50,415.31 403.50,415.31" fill="none" stroke="#f04a34" stroke-width="1.2"/>
<line x1="334.59" y1="347.30" x2="334.59" y2="349.70" stroke="#f04a34" stroke-width="0.7"/>
<line x1="336.56" y1="355.89" x2="336.56" y2="358.29" stroke="#f04a34" stroke-width="0.7"/>
<line x1="338.53" y1="364.54" x2="338.53" y2="366.94" stroke="#f04a34" stroke-width="0.7"/>
<line x1="340.50" y1="373.33" x2="340.50" y2="375.73" stroke="#f04a34" stroke-width="0.7"/>
<line x1="342.47" y1="382.06" x2="342.47" y2="384.46" stroke="#f04a34" stroke-width="0.7"/>
<line x1="344.44" y1="389.22" x2="344.44" y2="391.62" stroke="#f04a34" stroke-width="0.7"/>
<line x1="346.41" y1="396.39" x2="346.41" y2="398.79" stroke="#f04a34" stroke-width="0.7"/>
<line x1="348.38" y1="402.30" x2="348.38" y2="404.70" stroke="#f04a34" stroke-width="0.7"/>
<line x1="350.35" y1="407.37" x2="350.35" y2="409.77" stroke="#f04a34" stroke-width="0.7"/>
<line x1="352.31" y1="409.79" x2="352.31" y2="412.19" stroke="#f04a34" stroke-width="0.7"/>
<line x1="359.80" y1="414.11" x2="359.80" y2="416.51" stroke="#f04a34" stroke-width="0.7"/>
<text x="382.70" y="346.20" font-size="4.3" fill="#333" text-anchor="start" font-weight="normal">T1&amp;T2</text>
<line x1="383.70" y1="350.80" x2="387.90" y2="350.80" stroke="#1eb2d2" stroke-width="0.8"/>
<line x1="383.70" y1="355.40" x2="387.90" y2="355.40" stroke="#f0503e" stroke-width="0.8"/>
<text x="389.20" y="352.30" font-size="4.4" fill="#333" text-anchor="start" font-weight="normal" textLength="15.5" lengthAdjust="spacingAndGlyphs">Low risk</text>
<text x="389.20" y="356.90" font-size="4.4" fill="#333" text-anchor="start" font-weight="normal" textLength="16.5" lengthAdjust="spacingAndGlyphs">High risk</text>
<text x="333.30" y="408.80" font-size="4.5" fill="#222" text-anchor="start" font-weight="normal" textLength="42" lengthAdjust="spacingAndGlyphs">HR = 2.64 (1.91 - 3.70)</text>
<text x="333.30" y="413.40" font-size="4.5" fill="#222" text-anchor="start" font-weight="normal">P &lt; 0.001</text>
<line x1="455.30" y1="340.80" x2="455.30" y2="417.70" stroke="#333" stroke-width="0.8"/>
<line x1="455.30" y1="417.70" x2="526.60" y2="417.70" stroke="#333" stroke-width="0.8"/>
<line x1="453.90" y1="344.70" x2="455.30" y2="344.70" stroke="#333" stroke-width="0.6"/>
<text x="453.30" y="346.40" font-size="4.8" fill="#222" text-anchor="end" font-weight="normal">1.00</text>
<line x1="453.90" y1="362.32" x2="455.30" y2="362.32" stroke="#333" stroke-width="0.6"/>
<text x="453.30" y="364.02" font-size="4.8" fill="#222" text-anchor="end" font-weight="normal">0.75</text>
<line x1="453.90" y1="379.95" x2="455.30" y2="379.95" stroke="#333" stroke-width="0.6"/>
<text x="453.30" y="381.65" font-size="4.8" fill="#222" text-anchor="end" font-weight="normal">0.50</text>
<line x1="453.90" y1="397.57" x2="455.30" y2="397.57" stroke="#333" stroke-width="0.6"/>
<text x="453.30" y="399.27" font-size="4.8" fill="#222" text-anchor="end" font-weight="normal">0.25</text>
<line x1="453.90" y1="415.20" x2="455.30" y2="415.20" stroke="#333" stroke-width="0.6"/>
<text x="453.30" y="416.90" font-size="4.8" fill="#222" text-anchor="end" font-weight="normal">0.00</text>
<line x1="455.80" y1="417.70" x2="455.80" y2="419.10" stroke="#333" stroke-width="0.6"/>
<text x="455.80" y="424.30" font-size="4.7" fill="#222" text-anchor="middle" font-weight="normal">0</text>
<line x1="469.80" y1="417.70" x2="469.80" y2="419.10" stroke="#333" stroke-width="0.6"/>
<text x="469.80" y="424.30" font-size="4.7" fill="#222" text-anchor="middle" font-weight="normal">25</text>
<line x1="483.80" y1="417.70" x2="483.80" y2="419.10" stroke="#333" stroke-width="0.6"/>
<text x="483.80" y="424.30" font-size="4.7" fill="#222" text-anchor="middle" font-weight="normal">50</text>
<line x1="497.80" y1="417.70" x2="497.80" y2="419.10" stroke="#333" stroke-width="0.6"/>
<text x="497.80" y="424.30" font-size="4.7" fill="#222" text-anchor="middle" font-weight="normal">75</text>
<line x1="511.80" y1="417.70" x2="511.80" y2="419.10" stroke="#333" stroke-width="0.6"/>
<text x="511.80" y="424.30" font-size="4.7" fill="#222" text-anchor="middle" font-weight="normal">100</text>
<line x1="525.80" y1="417.70" x2="525.80" y2="419.10" stroke="#333" stroke-width="0.6"/>
<text x="525.80" y="424.30" font-size="4.7" fill="#222" text-anchor="middle" font-weight="normal">125</text>
<text x="490.95" y="429.30" font-size="4.9" fill="#222" text-anchor="middle" font-weight="normal" textLength="15" lengthAdjust="spacingAndGlyphs">Months</text>
<text x="442.90" y="379.25" font-size="4.8" fill="#333" text-anchor="middle" font-weight="normal" transform="rotate(-90 442.90000000000003 379.25)" textLength="38.5" lengthAdjust="spacingAndGlyphs">Survival probability</text>
<polyline points="455.80,344.70 457.80,344.70 457.80,351.75 472.40,351.75 472.40,360.91 476.70,360.91 476.70,371.49 526.60,371.49 526.60,371.49" fill="none" stroke="#1cb2d6" stroke-width="1.2"/>
<line x1="457.80" y1="350.55" x2="457.80" y2="352.95" stroke="#1cb2d6" stroke-width="0.7"/>
<line x1="476.70" y1="370.29" x2="476.70" y2="372.69" stroke="#1cb2d6" stroke-width="0.7"/>
<polyline points="455.80,344.70 456.99,344.70 456.99,350.44 458.19,350.44 458.19,355.78 459.38,355.78 459.38,358.97 460.57,358.97 460.57,362.16 461.77,362.16 461.77,365.61 462.96,365.61 462.96,369.15 464.16,369.15 464.16,372.70 465.35,372.70 465.35,375.64 466.54,375.64 466.54,378.07 467.74,378.07 467.74,380.51 468.93,380.51 468.93,383.08 470.12,383.08 470.12,385.88 471.32,385.88 471.32,388.69 472.51,388.69 472.51,391.74 473.71,391.74 473.71,397.12 474.90,397.12 474.90,402.51 497.80,402.51 497.80,415.20" fill="none" stroke="#f04a34" stroke-width="1.2"/>
<line x1="456.99" y1="349.24" x2="456.99" y2="351.64" stroke="#f04a34" stroke-width="0.7"/>
<line x1="459.38" y1="357.77" x2="459.38" y2="360.17" stroke="#f04a34" stroke-width="0.7"/>
<line x1="461.77" y1="364.41" x2="461.77" y2="366.81" stroke="#f04a34" stroke-width="0.7"/>
<line x1="464.16" y1="371.50" x2="464.16" y2="373.90" stroke="#f04a34" stroke-width="0.7"/>
<line x1="466.54" y1="376.87" x2="466.54" y2="379.27" stroke="#f04a34" stroke-width="0.7"/>
<line x1="468.93" y1="381.88" x2="468.93" y2="384.28" stroke="#f04a34" stroke-width="0.7"/>
<line x1="471.32" y1="387.49" x2="471.32" y2="389.89" stroke="#f04a34" stroke-width="0.7"/>
<line x1="473.71" y1="395.92" x2="473.71" y2="398.32" stroke="#f04a34" stroke-width="0.7"/>
<line x1="497.80" y1="414.00" x2="497.80" y2="416.40" stroke="#f04a34" stroke-width="0.7"/>
<text x="504.20" y="346.60" font-size="4.3" fill="#333" text-anchor="start" font-weight="normal">T3&amp;T4</text>
<line x1="505.20" y1="351.20" x2="509.40" y2="351.20" stroke="#1eb2d2" stroke-width="0.8"/>
<line x1="505.20" y1="355.80" x2="509.40" y2="355.80" stroke="#f0503e" stroke-width="0.8"/>
<text x="510.70" y="352.70" font-size="4.4" fill="#333" text-anchor="start" font-weight="normal" textLength="15.5" lengthAdjust="spacingAndGlyphs">Low risk</text>
<text x="510.70" y="357.30" font-size="4.4" fill="#333" text-anchor="start" font-weight="normal" textLength="16.5" lengthAdjust="spacingAndGlyphs">High risk</text>
<text x="457.10" y="410.00" font-size="4.5" fill="#222" text-anchor="start" font-weight="normal" textLength="44" lengthAdjust="spacingAndGlyphs">HR = 5.10 (1.77 - 14.72)</text>
<text x="457.10" y="414.60" font-size="4.5" fill="#222" text-anchor="start" font-weight="normal">P = 0.003</text>
<text x="304.20" y="438.50" font-size="8.7" fill="#111" text-anchor="start" font-weight="bold">N</text>
<line x1="331.00" y1="431.50" x2="331.00" y2="507.60" stroke="#333" stroke-width="0.8"/>
<line x1="331.00" y1="507.60" x2="404.00" y2="507.60" stroke="#333" stroke-width="0.8"/>
<line x1="329.60" y1="435.30" x2="331.00" y2="435.30" stroke="#333" stroke-width="0.6"/>
<text x="329.00" y="437.00" font-size="4.8" fill="#222" text-anchor="end" font-weight="normal">1.00</text>
<line x1="329.60" y1="455.70" x2="331.00" y2="455.70" stroke="#333" stroke-width="0.6"/>
<text x="329.00" y="457.40" font-size="4.8" fill="#222" text-anchor="end" font-weight="normal">0.75</text>
<line x1="329.60" y1="476.10" x2="331.00" y2="476.10" stroke="#333" stroke-width="0.6"/>
<text x="329.00" y="477.80" font-size="4.8" fill="#222" text-anchor="end" font-weight="normal">0.50</text>
<line x1="329.60" y1="496.50" x2="331.00" y2="496.50" stroke="#333" stroke-width="0.6"/>
<text x="329.00" y="498.20" font-size="4.8" fill="#222" text-anchor="end" font-weight="normal">0.25</text>
<line x1="331.90" y1="507.60" x2="331.90" y2="509.00" stroke="#333" stroke-width="0.6"/>
<text x="331.90" y="514.20" font-size="4.7" fill="#222" text-anchor="middle" font-weight="normal">0</text>
<line x1="349.50" y1="507.60" x2="349.50" y2="509.00" stroke="#333" stroke-width="0.6"/>
<text x="349.50" y="514.20" font-size="4.7" fill="#222" text-anchor="middle" font-weight="normal">5</text>
<line x1="367.10" y1="507.60" x2="367.10" y2="509.00" stroke="#333" stroke-width="0.6"/>
<text x="367.10" y="514.20" font-size="4.7" fill="#222" text-anchor="middle" font-weight="normal">10</text>
<line x1="384.70" y1="507.60" x2="384.70" y2="509.00" stroke="#333" stroke-width="0.6"/>
<text x="384.70" y="514.20" font-size="4.7" fill="#222" text-anchor="middle" font-weight="normal">15</text>
<line x1="402.30" y1="507.60" x2="402.30" y2="509.00" stroke="#333" stroke-width="0.6"/>
<text x="402.30" y="514.20" font-size="4.7" fill="#222" text-anchor="middle" font-weight="normal">20</text>
<text x="367.50" y="520.20" font-size="4.9" fill="#222" text-anchor="middle" font-weight="normal" textLength="15" lengthAdjust="spacingAndGlyphs">Months</text>
<text x="318.60" y="469.55" font-size="4.8" fill="#333" text-anchor="middle" font-weight="normal" transform="rotate(-90 318.6 469.55)" textLength="38.5" lengthAdjust="spacingAndGlyphs">Survival probability</text>
<polyline points="331.90,435.30 333.25,435.30 333.25,437.28 334.59,437.28 334.59,439.26 335.94,439.26 335.94,441.24 337.28,441.24 337.28,443.22 338.63,443.22 338.63,445.41 339.97,445.41 339.97,447.85 341.32,447.85 341.32,450.28 342.67,450.28 342.67,452.71 344.01,452.71 344.01,455.15 345.36,455.15 345.36,457.94 346.70,457.94 346.70,460.93 348.05,460.93 348.05,463.93 349.40,463.93 349.40,466.41 350.74,466.41 350.74,468.00 352.09,468.00 352.09,469.60 353.43,469.60 353.43,471.20 354.78,471.20 354.78,472.80 356.12,472.80 356.12,473.97 357.47,473.97 357.47,474.64 358.82,474.64 358.82,475.32 360.16,475.32 360.16,475.99 361.51,475.99 361.51,476.67 362.85,476.67 362.85,478.98 364.20,478.98 364.20,482.22 365.30,482.22 365.30,485.89 380.60,485.89 380.60,501.80 403.50,501.80 403.50,501.80" fill="none" stroke="#1cb2d6" stroke-width="1.2"/>
<line x1="333.25" y1="436.08" x2="333.25" y2="438.48" stroke="#1cb2d6" stroke-width="0.7"/>
<line x1="335.94" y1="440.04" x2="335.94" y2="442.44" stroke="#1cb2d6" stroke-width="0.7"/>
<line x1="338.63" y1="444.21" x2="338.63" y2="446.61" stroke="#1cb2d6" stroke-width="0.7"/>
<line x1="341.32" y1="449.08" x2="341.32" y2="451.48" stroke="#1cb2d6" stroke-width="0.7"/>
<line x1="344.01" y1="453.95" x2="344.01" y2="456.35" stroke="#1cb2d6" stroke-width="0.7"/>
<line x1="346.70" y1="459.73" x2="346.70" y2="462.13" stroke="#1cb2d6" stroke-width="0.7"/>
<line x1="349.40" y1="465.21" x2="349.40" y2="467.61" stroke="#1cb2d6" stroke-width="0.7"/>
<line x1="352.09" y1="468.40" x2="352.09" y2="470.80" stroke="#1cb2d6" stroke-width="0.7"/>
<line x1="354.78" y1="471.60" x2="354.78" y2="474.00" stroke="#1cb2d6" stroke-width="0.7"/>
<line x1="357.47" y1="473.44" x2="357.47" y2="475.84" stroke="#1cb2d6" stroke-width="0.7"/>
<line x1="360.16" y1="474.79" x2="360.16" y2="477.19" stroke="#1cb2d6" stroke-width="0.7"/>
<line x1="362.85" y1="477.78" x2="362.85" y2="480.18" stroke="#1cb2d6" stroke-width="0.7"/>
<line x1="365.30" y1="484.69" x2="365.30" y2="487.09" stroke="#1cb2d6" stroke-width="0.7"/>
<line x1="403.50" y1="500.60" x2="403.50" y2="503.00" stroke="#1cb2d6" stroke-width="0.7"/>
<polyline points="331.90,435.30 332.86,435.30 332.86,439.05 333.82,439.05 333.82,442.80 334.78,442.80 334.78,446.64 335.74,446.64 335.74,451.48 336.70,451.48 336.70,456.32 337.66,456.32 337.66,459.75 338.62,459.75 338.62,462.79 339.58,462.79 339.58,465.84 340.54,465.84 340.54,468.89 341.50,468.89 341.50,472.40 342.46,472.40 342.46,475.93 343.42,475.93 343.42,479.47 344.38,479.47 344.38,483.00 345.34,483.00 345.34,486.49 346.30,486.49 346.30,489.97 347.26,489.97 347.26,493.37 348.22,493.37 348.22,495.48 349.18,495.48 349.18,497.59 350.14,497.59 350.14,499.69 351.10,499.69 351.10,501.80 355.50,501.80 355.50,506.29 402.40,506.29 402.40,506.29" fill="none" stroke="#f04a34" stroke-width="1.2"/>
<line x1="332.86" y1="437.85" x2="332.86" y2="440.25" stroke="#f04a34" stroke-width="0.7"/>
<line x1="334.78" y1="445.44" x2="334.78" y2="447.84" stroke="#f04a34" stroke-width="0.7"/>
<line x1="336.70" y1="455.12" x2="336.70" y2="457.52" stroke="#f04a34" stroke-width="0.7"/>
<line x1="338.62" y1="461.59" x2="338.62" y2="463.99" stroke="#f04a34" stroke-width="0.7"/>
<line x1="340.54" y1="467.69" x2="340.54" y2="470.09" stroke="#f04a34" stroke-width="0.7"/>
<line x1="342.46" y1="474.73" x2="342.46" y2="477.13" stroke="#f04a34" stroke-width="0.7"/>
<line x1="344.38" y1="481.80" x2="344.38" y2="484.20" stroke="#f04a34" stroke-width="0.7"/>
<line x1="346.30" y1="488.77" x2="346.30" y2="491.17" stroke="#f04a34" stroke-width="0.7"/>
<line x1="348.22" y1="494.28" x2="348.22" y2="496.68" stroke="#f04a34" stroke-width="0.7"/>
<line x1="350.14" y1="498.49" x2="350.14" y2="500.89" stroke="#f04a34" stroke-width="0.7"/>
<line x1="355.50" y1="505.09" x2="355.50" y2="507.49" stroke="#f04a34" stroke-width="0.7"/>
<text x="380.00" y="436.80" font-size="4.3" fill="#333" text-anchor="start" font-weight="normal">M0</text>
<line x1="381.00" y1="441.40" x2="385.20" y2="441.40" stroke="#1eb2d2" stroke-width="0.8"/>
<line x1="381.00" y1="446.00" x2="385.20" y2="446.00" stroke="#f0503e" stroke-width="0.8"/>
<text x="386.50" y="442.90" font-size="4.4" fill="#333" text-anchor="start" font-weight="normal" textLength="15.5" lengthAdjust="spacingAndGlyphs">Low risk</text>
<text x="386.50" y="447.50" font-size="4.4" fill="#333" text-anchor="start" font-weight="normal" textLength="16.5" lengthAdjust="spacingAndGlyphs">High risk</text>
<text x="332.80" y="500.60" font-size="4.5" fill="#222" text-anchor="start" font-weight="normal" textLength="40" lengthAdjust="spacingAndGlyphs">HR = 3.19 (2.1 - 4.87)</text>
<text x="332.80" y="505.20" font-size="4.5" fill="#222" text-anchor="start" font-weight="normal">P &lt; 0.001</text>
<line x1="455.30" y1="431.50" x2="455.30" y2="507.60" stroke="#333" stroke-width="0.8"/>
<line x1="455.30" y1="507.60" x2="526.60" y2="507.60" stroke="#333" stroke-width="0.8"/>
<line x1="453.90" y1="435.30" x2="455.30" y2="435.30" stroke="#333" stroke-width="0.6"/>
<text x="453.30" y="437.00" font-size="4.8" fill="#222" text-anchor="end" font-weight="normal">1.00</text>
<line x1="453.90" y1="453.00" x2="455.30" y2="453.00" stroke="#333" stroke-width="0.6"/>
<text x="453.30" y="454.70" font-size="4.8" fill="#222" text-anchor="end" font-weight="normal">0.75</text>
<line x1="453.90" y1="470.70" x2="455.30" y2="470.70" stroke="#333" stroke-width="0.6"/>
<text x="453.30" y="472.40" font-size="4.8" fill="#222" text-anchor="end" font-weight="normal">0.50</text>
<line x1="453.90" y1="488.40" x2="455.30" y2="488.40" stroke="#333" stroke-width="0.6"/>
<text x="453.30" y="490.10" font-size="4.8" fill="#222" text-anchor="end" font-weight="normal">0.25</text>
<line x1="453.90" y1="506.10" x2="455.30" y2="506.10" stroke="#333" stroke-width="0.6"/>
<text x="453.30" y="507.80" font-size="4.8" fill="#222" text-anchor="end" font-weight="normal">0.00</text>
<line x1="455.80" y1="507.60" x2="455.80" y2="509.00" stroke="#333" stroke-width="0.6"/>
<text x="455.80" y="514.20" font-size="4.7" fill="#222" text-anchor="middle" font-weight="normal">0</text>
<line x1="475.40" y1="507.60" x2="475.40" y2="509.00" stroke="#333" stroke-width="0.6"/>
<text x="475.40" y="514.20" font-size="4.7" fill="#222" text-anchor="middle" font-weight="normal">2</text>
<line x1="495.00" y1="507.60" x2="495.00" y2="509.00" stroke="#333" stroke-width="0.6"/>
<text x="495.00" y="514.20" font-size="4.7" fill="#222" text-anchor="middle" font-weight="normal">4</text>
<line x1="514.60" y1="507.60" x2="514.60" y2="509.00" stroke="#333" stroke-width="0.6"/>
<text x="514.60" y="514.20" font-size="4.7" fill="#222" text-anchor="middle" font-weight="normal">6</text>
<text x="490.95" y="519.60" font-size="4.9" fill="#222" text-anchor="middle" font-weight="normal" textLength="15" lengthAdjust="spacingAndGlyphs">Months</text>
<text x="442.90" y="469.55" font-size="4.8" fill="#333" text-anchor="middle" font-weight="normal" transform="rotate(-90 442.90000000000003 469.55)" textLength="38.5" lengthAdjust="spacingAndGlyphs">Survival probability</text>
<polyline points="455.80,435.30 464.70,435.30 464.70,440.96 471.10,440.96 471.10,449.46 480.00,449.46 480.00,462.20 481.30,462.20 481.30,470.70 483.80,470.70 483.80,472.82 491.40,472.82 491.40,488.40 526.60,488.40 526.60,506.10" fill="none" stroke="#1cb2d6" stroke-width="1.2"/>
<line x1="464.70" y1="439.76" x2="464.70" y2="442.16" stroke="#1cb2d6" stroke-width="0.7"/>
<line x1="480.00" y1="461.00" x2="480.00" y2="463.40" stroke="#1cb2d6" stroke-width="0.7"/>
<line x1="483.80" y1="471.62" x2="483.80" y2="474.02" stroke="#1cb2d6" stroke-width="0.7"/>
<line x1="526.60" y1="504.90" x2="526.60" y2="507.30" stroke="#1cb2d6" stroke-width="0.7"/>
<polyline points="455.80,435.30 457.50,435.30 457.50,442.38 459.60,442.38 459.60,447.34 461.20,447.34 461.20,453.00 462.20,453.00 462.20,458.66 466.00,458.66 466.00,464.33 471.10,464.33 471.10,470.70 473.60,470.70 473.60,476.36 475.70,476.36 475.70,480.61 476.20,480.61 476.20,494.06 489.40,494.06 489.40,506.10" fill="none" stroke="#f04a34" stroke-width="1.2"/>
<line x1="457.50" y1="441.18" x2="457.50" y2="443.58" stroke="#f04a34" stroke-width="0.7"/>
<line x1="461.20" y1="451.80" x2="461.20" y2="454.20" stroke="#f04a34" stroke-width="0.7"/>
<line x1="466.00" y1="463.13" x2="466.00" y2="465.53" stroke="#f04a34" stroke-width="0.7"/>
<line x1="473.60" y1="475.16" x2="473.60" y2="477.56" stroke="#f04a34" stroke-width="0.7"/>
<line x1="476.20" y1="492.86" x2="476.20" y2="495.26" stroke="#f04a34" stroke-width="0.7"/>
<text x="504.20" y="438.00" font-size="4.3" fill="#333" text-anchor="start" font-weight="normal">M1</text>
<line x1="505.20" y1="442.60" x2="509.40" y2="442.60" stroke="#1eb2d2" stroke-width="0.8"/>
<line x1="505.20" y1="447.20" x2="509.40" y2="447.20" stroke="#f0503e" stroke-width="0.8"/>
<text x="510.70" y="444.10" font-size="4.4" fill="#333" text-anchor="start" font-weight="normal" textLength="15.5" lengthAdjust="spacingAndGlyphs">Low risk</text>
<text x="510.70" y="448.70" font-size="4.4" fill="#333" text-anchor="start" font-weight="normal" textLength="16.5" lengthAdjust="spacingAndGlyphs">High risk</text>
<text x="457.10" y="499.90" font-size="4.5" fill="#222" text-anchor="start" font-weight="normal" textLength="44" lengthAdjust="spacingAndGlyphs">HR = 3.85 (1.14 - 13.02)</text>
<text x="457.10" y="504.50" font-size="4.5" fill="#222" text-anchor="start" font-weight="normal">P = 0.030</text>
<text x="304.20" y="525.70" font-size="8.7" fill="#111" text-anchor="start" font-weight="bold">O</text>
<line x1="330.40" y1="522.00" x2="330.40" y2="599.20" stroke="#333" stroke-width="0.8"/>
<line x1="330.40" y1="599.20" x2="404.60" y2="599.20" stroke="#333" stroke-width="0.8"/>
<line x1="329.00" y1="526.20" x2="330.40" y2="526.20" stroke="#333" stroke-width="0.6"/>
<text x="328.40" y="527.90" font-size="4.8" fill="#222" text-anchor="end" font-weight="normal">1.0</text>
<line x1="329.00" y1="544.20" x2="330.40" y2="544.20" stroke="#333" stroke-width="0.6"/>
<text x="328.40" y="545.90" font-size="4.8" fill="#222" text-anchor="end" font-weight="normal">0.8</text>
<line x1="329.00" y1="562.20" x2="330.40" y2="562.20" stroke="#333" stroke-width="0.6"/>
<text x="328.40" y="563.90" font-size="4.8" fill="#222" text-anchor="end" font-weight="normal">0.6</text>
<line x1="329.00" y1="580.20" x2="330.40" y2="580.20" stroke="#333" stroke-width="0.6"/>
<text x="328.40" y="581.90" font-size="4.8" fill="#222" text-anchor="end" font-weight="normal">0.4</text>
<line x1="329.00" y1="598.20" x2="330.40" y2="598.20" stroke="#333" stroke-width="0.6"/>
<text x="328.40" y="599.90" font-size="4.8" fill="#222" text-anchor="end" font-weight="normal">0.2</text>
<line x1="332.50" y1="599.20" x2="332.50" y2="600.60" stroke="#333" stroke-width="0.6"/>
<text x="332.50" y="605.80" font-size="4.7" fill="#222" text-anchor="middle" font-weight="normal">0</text>
<line x1="347.25" y1="599.20" x2="347.25" y2="600.60" stroke="#333" stroke-width="0.6"/>
<text x="347.25" y="605.80" font-size="4.7" fill="#222" text-anchor="middle" font-weight="normal">50</text>
<line x1="362.00" y1="599.20" x2="362.00" y2="600.60" stroke="#333" stroke-width="0.6"/>
<text x="362.00" y="605.80" font-size="4.7" fill="#222" text-anchor="middle" font-weight="normal">100</text>
<line x1="376.75" y1="599.20" x2="376.75" y2="600.60" stroke="#333" stroke-width="0.6"/>
<text x="376.75" y="605.80" font-size="4.7" fill="#222" text-anchor="middle" font-weight="normal">150</text>
<line x1="391.50" y1="599.20" x2="391.50" y2="600.60" stroke="#333" stroke-width="0.6"/>
<text x="391.50" y="605.80" font-size="4.7" fill="#222" text-anchor="middle" font-weight="normal">200</text>
<text x="367.50" y="611.30" font-size="4.9" fill="#222" text-anchor="middle" font-weight="normal" textLength="15" lengthAdjust="spacingAndGlyphs">Months</text>
<text x="318.00" y="560.60" font-size="4.8" fill="#333" text-anchor="middle" font-weight="normal" transform="rotate(-90 318.0 560.6)" textLength="38.5" lengthAdjust="spacingAndGlyphs">Survival probability</text>
<polyline points="332.50,526.20 333.82,526.20 333.82,527.41 335.14,527.41 335.14,528.62 336.46,528.62 336.46,529.83 337.78,529.83 337.78,531.04 339.10,531.04 339.10,533.19 340.43,533.19 340.43,535.53 341.75,535.53 341.75,537.86 343.07,537.86 343.07,540.19 344.39,540.19 344.39,543.23 345.71,543.23 345.71,546.60 347.03,546.60 347.03,549.97 348.35,549.97 348.35,552.49 349.67,552.49 349.67,553.81 350.99,553.81 350.99,555.13 352.31,555.13 352.31,556.44 353.63,556.44 353.63,557.67 354.95,557.67 354.95,558.64 356.27,558.64 356.27,559.61 357.60,559.61 357.60,560.58 358.92,560.58 358.92,561.55 360.24,561.55 360.24,562.81 361.56,562.81 361.56,564.65 362.88,564.65 362.88,566.48 364.20,566.48 364.20,568.32 365.30,568.32 365.30,573.72 380.60,573.72 380.60,583.98 404.60,583.98 404.60,583.98" fill="none" stroke="#1cb2d6" stroke-width="1.2"/>
<line x1="333.82" y1="526.21" x2="333.82" y2="528.61" stroke="#1cb2d6" stroke-width="0.7"/>
<line x1="336.46" y1="528.63" x2="336.46" y2="531.03" stroke="#1cb2d6" stroke-width="0.7"/>
<line x1="339.10" y1="531.99" x2="339.10" y2="534.39" stroke="#1cb2d6" stroke-width="0.7"/>
<line x1="341.75" y1="536.66" x2="341.75" y2="539.06" stroke="#1cb2d6" stroke-width="0.7"/>
<line x1="344.39" y1="542.03" x2="344.39" y2="544.43" stroke="#1cb2d6" stroke-width="0.7"/>
<line x1="347.03" y1="548.77" x2="347.03" y2="551.17" stroke="#1cb2d6" stroke-width="0.7"/>
<line x1="349.67" y1="552.61" x2="349.67" y2="555.01" stroke="#1cb2d6" stroke-width="0.7"/>
<line x1="352.31" y1="555.24" x2="352.31" y2="557.64" stroke="#1cb2d6" stroke-width="0.7"/>
<line x1="354.95" y1="557.44" x2="354.95" y2="559.84" stroke="#1cb2d6" stroke-width="0.7"/>
<line x1="357.60" y1="559.38" x2="357.60" y2="561.78" stroke="#1cb2d6" stroke-width="0.7"/>
<line x1="360.24" y1="561.61" x2="360.24" y2="564.01" stroke="#1cb2d6" stroke-width="0.7"/>
<line x1="362.88" y1="565.28" x2="362.88" y2="567.68" stroke="#1cb2d6" stroke-width="0.7"/>
<line x1="365.30" y1="572.52" x2="365.30" y2="574.92" stroke="#1cb2d6" stroke-width="0.7"/>
<line x1="404.60" y1="582.78" x2="404.60" y2="585.18" stroke="#1cb2d6" stroke-width="0.7"/>
<polyline points="332.50,526.20 333.43,526.20 333.43,528.63 334.36,528.63 334.36,531.07 335.29,531.07 335.29,533.50 336.22,533.50 336.22,535.94 337.15,535.94 337.15,538.53 338.08,538.53 338.08,541.53 339.01,541.53 339.01,544.54 339.94,544.54 339.94,547.54 340.87,547.54 340.87,550.55 341.80,550.55 341.80,554.42 342.73,554.42 342.73,559.02 343.66,559.02 343.66,563.51 344.59,563.51 344.59,567.49 345.52,567.49 345.52,571.47 346.45,571.47 346.45,575.54 347.38,575.54 347.38,580.15 348.31,580.15 348.31,584.75 349.24,584.75 349.24,587.89 350.17,587.89 350.17,590.66 351.10,590.66 351.10,593.43 355.50,593.43 355.50,597.30 369.60,597.30 369.60,597.30" fill="none" stroke="#f04a34" stroke-width="1.2"/>
<line x1="333.43" y1="527.43" x2="333.43" y2="529.83" stroke="#f04a34" stroke-width="0.7"/>
<line x1="335.29" y1="532.30" x2="335.29" y2="534.70" stroke="#f04a34" stroke-width="0.7"/>
<line x1="337.15" y1="537.33" x2="337.15" y2="539.73" stroke="#f04a34" stroke-width="0.7"/>
<line x1="339.01" y1="543.34" x2="339.01" y2="545.74" stroke="#f04a34" stroke-width="0.7"/>
<line x1="340.87" y1="549.35" x2="340.87" y2="551.75" stroke="#f04a34" stroke-width="0.7"/>
<line x1="342.73" y1="557.82" x2="342.73" y2="560.22" stroke="#f04a34" stroke-width="0.7"/>
<line x1="344.59" y1="566.29" x2="344.59" y2="568.69" stroke="#f04a34" stroke-width="0.7"/>
<line x1="346.45" y1="574.34" x2="346.45" y2="576.74" stroke="#f04a34" stroke-width="0.7"/>
<line x1="348.31" y1="583.55" x2="348.31" y2="585.95" stroke="#f04a34" stroke-width="0.7"/>
<line x1="350.17" y1="589.46" x2="350.17" y2="591.86" stroke="#f04a34" stroke-width="0.7"/>
<line x1="355.50" y1="596.10" x2="355.50" y2="598.50" stroke="#f04a34" stroke-width="0.7"/>
<text x="382.00" y="527.70" font-size="4.3" fill="#333" text-anchor="start" font-weight="normal">N0</text>
<line x1="383.00" y1="532.30" x2="387.20" y2="532.30" stroke="#1eb2d2" stroke-width="0.8"/>
<line x1="383.00" y1="536.90" x2="387.20" y2="536.90" stroke="#f0503e" stroke-width="0.8"/>
<text x="388.50" y="533.80" font-size="4.4" fill="#333" text-anchor="start" font-weight="normal" textLength="15.5" lengthAdjust="spacingAndGlyphs">Low risk</text>
<text x="388.50" y="538.40" font-size="4.4" fill="#333" text-anchor="start" font-weight="normal" textLength="16.5" lengthAdjust="spacingAndGlyphs">High risk</text>
<text x="332.20" y="591.10" font-size="4.5" fill="#222" text-anchor="start" font-weight="normal" textLength="42" lengthAdjust="spacingAndGlyphs">HR = 3.04 (1.96 - 4.75)</text>
<text x="332.20" y="595.70" font-size="4.5" fill="#222" text-anchor="start" font-weight="normal">P &lt; 0.001</text>
<line x1="455.30" y1="522.00" x2="455.30" y2="599.40" stroke="#333" stroke-width="0.8"/>
<line x1="455.30" y1="599.40" x2="526.60" y2="599.40" stroke="#333" stroke-width="0.8"/>
<line x1="453.90" y1="526.10" x2="455.30" y2="526.10" stroke="#333" stroke-width="0.6"/>
<text x="453.30" y="527.80" font-size="4.8" fill="#222" text-anchor="end" font-weight="normal">1.00</text>
<line x1="453.90" y1="545.80" x2="455.30" y2="545.80" stroke="#333" stroke-width="0.6"/>
<text x="453.30" y="547.50" font-size="4.8" fill="#222" text-anchor="end" font-weight="normal">0.75</text>
<line x1="453.90" y1="565.50" x2="455.30" y2="565.50" stroke="#333" stroke-width="0.6"/>
<text x="453.30" y="567.20" font-size="4.8" fill="#222" text-anchor="end" font-weight="normal">0.50</text>
<line x1="453.90" y1="585.20" x2="455.30" y2="585.20" stroke="#333" stroke-width="0.6"/>
<text x="453.30" y="586.90" font-size="4.8" fill="#222" text-anchor="end" font-weight="normal">0.25</text>
<line x1="456.30" y1="599.40" x2="456.30" y2="600.80" stroke="#333" stroke-width="0.6"/>
<text x="456.30" y="606.00" font-size="4.7" fill="#222" text-anchor="middle" font-weight="normal">0</text>
<line x1="470.95" y1="599.40" x2="470.95" y2="600.80" stroke="#333" stroke-width="0.6"/>
<text x="470.95" y="606.00" font-size="4.7" fill="#222" text-anchor="middle" font-weight="normal">50</text>
<line x1="485.60" y1="599.40" x2="485.60" y2="600.80" stroke="#333" stroke-width="0.6"/>
<text x="485.60" y="606.00" font-size="4.7" fill="#222" text-anchor="middle" font-weight="normal">100</text>
<line x1="500.25" y1="599.40" x2="500.25" y2="600.80" stroke="#333" stroke-width="0.6"/>
<text x="500.25" y="606.00" font-size="4.7" fill="#222" text-anchor="middle" font-weight="normal">150</text>
<line x1="514.90" y1="599.40" x2="514.90" y2="600.80" stroke="#333" stroke-width="0.6"/>
<text x="514.90" y="606.00" font-size="4.7" fill="#222" text-anchor="middle" font-weight="normal">200</text>
<text x="490.95" y="610.90" font-size="4.9" fill="#222" text-anchor="middle" font-weight="normal" textLength="15" lengthAdjust="spacingAndGlyphs">Months</text>
<text x="442.90" y="560.70" font-size="4.8" fill="#333" text-anchor="middle" font-weight="normal" transform="rotate(-90 442.90000000000003 560.7)" textLength="38.5" lengthAdjust="spacingAndGlyphs">Survival probability</text>
<polyline points="456.30,526.10 457.51,526.10 457.51,527.72 458.73,527.72 458.73,529.34 459.94,529.34 459.94,531.64 461.15,531.64 461.15,535.69 462.36,535.69 462.36,539.74 463.57,539.74 463.57,543.45 464.79,543.45 464.79,545.22 466.00,545.22 466.00,546.98 466.50,546.98 466.50,557.23 470.60,557.23 470.60,557.23 472.40,557.23 472.40,568.65 474.90,568.65 474.90,582.60 480.00,582.60 480.00,592.84 483.80,592.84 483.80,597.02" fill="none" stroke="#1cb2d6" stroke-width="1.2"/>
<line x1="457.51" y1="526.52" x2="457.51" y2="528.92" stroke="#1cb2d6" stroke-width="0.7"/>
<line x1="459.94" y1="530.44" x2="459.94" y2="532.84" stroke="#1cb2d6" stroke-width="0.7"/>
<line x1="462.36" y1="538.54" x2="462.36" y2="540.94" stroke="#1cb2d6" stroke-width="0.7"/>
<line x1="464.79" y1="544.02" x2="464.79" y2="546.42" stroke="#1cb2d6" stroke-width="0.7"/>
<line x1="466.50" y1="556.03" x2="466.50" y2="558.43" stroke="#1cb2d6" stroke-width="0.7"/>
<line x1="472.40" y1="567.45" x2="472.40" y2="569.85" stroke="#1cb2d6" stroke-width="0.7"/>
<line x1="480.00" y1="591.64" x2="480.00" y2="594.04" stroke="#1cb2d6" stroke-width="0.7"/>
<polyline points="456.30,526.10 457.39,526.10 457.39,528.94 458.48,528.94 458.48,531.79 459.57,531.79 459.57,534.63 460.67,534.63 460.67,537.47 461.76,537.47 461.76,542.98 462.85,542.98 462.85,549.22 463.94,549.22 463.94,554.64 465.03,554.64 465.03,560.02 466.12,560.02 466.12,565.17 467.22,565.17 467.22,568.47 468.31,568.47 468.31,571.78 469.40,571.78 469.40,575.08 470.49,575.08 470.49,577.92 471.58,577.92 471.58,580.47 472.68,580.47 472.68,583.03 473.77,583.03 473.77,585.42 474.86,585.42 474.86,586.90 475.95,586.90 475.95,588.37 477.04,588.37 477.04,589.84 478.13,589.84 478.13,591.33 479.23,591.33 479.23,592.83 480.32,592.83 480.32,594.33 481.41,594.33 481.41,595.83 482.50,595.83 482.50,597.34 526.00,597.34 526.00,597.34" fill="none" stroke="#f04a34" stroke-width="1.2"/>
<line x1="457.39" y1="527.74" x2="457.39" y2="530.14" stroke="#f04a34" stroke-width="0.7"/>
<line x1="459.57" y1="533.43" x2="459.57" y2="535.83" stroke="#f04a34" stroke-width="0.7"/>
<line x1="461.76" y1="541.78" x2="461.76" y2="544.18" stroke="#f04a34" stroke-width="0.7"/>
<line x1="463.94" y1="553.44" x2="463.94" y2="555.84" stroke="#f04a34" stroke-width="0.7"/>
<line x1="466.12" y1="563.97" x2="466.12" y2="566.37" stroke="#f04a34" stroke-width="0.7"/>
<line x1="468.31" y1="570.58" x2="468.31" y2="572.98" stroke="#f04a34" stroke-width="0.7"/>
<line x1="470.49" y1="576.72" x2="470.49" y2="579.12" stroke="#f04a34" stroke-width="0.7"/>
<line x1="472.68" y1="581.83" x2="472.68" y2="584.23" stroke="#f04a34" stroke-width="0.7"/>
<line x1="474.86" y1="585.70" x2="474.86" y2="588.10" stroke="#f04a34" stroke-width="0.7"/>
<line x1="477.04" y1="588.64" x2="477.04" y2="591.04" stroke="#f04a34" stroke-width="0.7"/>
<line x1="479.23" y1="591.63" x2="479.23" y2="594.03" stroke="#f04a34" stroke-width="0.7"/>
<line x1="481.41" y1="594.63" x2="481.41" y2="597.03" stroke="#f04a34" stroke-width="0.7"/>
<line x1="526.00" y1="596.14" x2="526.00" y2="598.54" stroke="#f04a34" stroke-width="0.7"/>
<text x="502.90" y="526.40" font-size="4.3" fill="#333" text-anchor="start" font-weight="normal">N1&amp;N2&amp;N3</text>
<line x1="503.90" y1="531.00" x2="508.10" y2="531.00" stroke="#1eb2d2" stroke-width="0.8"/>
<line x1="503.90" y1="535.60" x2="508.10" y2="535.60" stroke="#f0503e" stroke-width="0.8"/>
<text x="509.40" y="532.50" font-size="4.4" fill="#333" text-anchor="start" font-weight="normal" textLength="15.5" lengthAdjust="spacingAndGlyphs">Low risk</text>
<text x="509.40" y="537.10" font-size="4.4" fill="#333" text-anchor="start" font-weight="normal" textLength="16.5" lengthAdjust="spacingAndGlyphs">High risk</text>
<text x="457.10" y="590.80" font-size="4.5" fill="#222" text-anchor="start" font-weight="normal" textLength="42" lengthAdjust="spacingAndGlyphs">HR = 2.08 (1.36 - 3.26)</text>
<text x="457.10" y="595.40" font-size="4.5" fill="#222" text-anchor="start" font-weight="normal">P = 0.004</text>
<text x="303.70" y="619.50" font-size="8.7" fill="#111" text-anchor="start" font-weight="bold">P</text>
<line x1="330.40" y1="613.50" x2="330.40" y2="689.30" stroke="#333" stroke-width="0.8"/>
<line x1="330.40" y1="689.30" x2="404.60" y2="689.30" stroke="#333" stroke-width="0.8"/>
<line x1="329.00" y1="616.60" x2="330.40" y2="616.60" stroke="#333" stroke-width="0.6"/>
<text x="328.40" y="618.30" font-size="4.8" fill="#222" text-anchor="end" font-weight="normal">1.0</text>
<line x1="329.00" y1="634.46" x2="330.40" y2="634.46" stroke="#333" stroke-width="0.6"/>
<text x="328.40" y="636.16" font-size="4.8" fill="#222" text-anchor="end" font-weight="normal">0.8</text>
<line x1="329.00" y1="652.32" x2="330.40" y2="652.32" stroke="#333" stroke-width="0.6"/>
<text x="328.40" y="654.02" font-size="4.8" fill="#222" text-anchor="end" font-weight="normal">0.6</text>
<line x1="329.00" y1="670.18" x2="330.40" y2="670.18" stroke="#333" stroke-width="0.6"/>
<text x="328.40" y="671.88" font-size="4.8" fill="#222" text-anchor="end" font-weight="normal">0.4</text>
<line x1="329.00" y1="688.04" x2="330.40" y2="688.04" stroke="#333" stroke-width="0.6"/>
<text x="328.40" y="689.74" font-size="4.8" fill="#222" text-anchor="end" font-weight="normal">0.2</text>
<line x1="333.00" y1="689.30" x2="333.00" y2="690.70" stroke="#333" stroke-width="0.6"/>
<text x="333.00" y="695.90" font-size="4.7" fill="#222" text-anchor="middle" font-weight="normal">0</text>
<line x1="347.80" y1="689.30" x2="347.80" y2="690.70" stroke="#333" stroke-width="0.6"/>
<text x="347.80" y="695.90" font-size="4.7" fill="#222" text-anchor="middle" font-weight="normal">50</text>
<line x1="362.60" y1="689.30" x2="362.60" y2="690.70" stroke="#333" stroke-width="0.6"/>
<text x="362.60" y="695.90" font-size="4.7" fill="#222" text-anchor="middle" font-weight="normal">100</text>
<line x1="377.40" y1="689.30" x2="377.40" y2="690.70" stroke="#333" stroke-width="0.6"/>
<text x="377.40" y="695.90" font-size="4.7" fill="#222" text-anchor="middle" font-weight="normal">150</text>
<line x1="392.20" y1="689.30" x2="392.20" y2="690.70" stroke="#333" stroke-width="0.6"/>
<text x="392.20" y="695.90" font-size="4.7" fill="#222" text-anchor="middle" font-weight="normal">200</text>
<text x="367.50" y="701.30" font-size="4.9" fill="#222" text-anchor="middle" font-weight="normal" textLength="15" lengthAdjust="spacingAndGlyphs">Months</text>
<text x="318.00" y="651.40" font-size="4.8" fill="#333" text-anchor="middle" font-weight="normal" transform="rotate(-90 318.0 651.4)" textLength="38.5" lengthAdjust="spacingAndGlyphs">Survival probability</text>
<polyline points="333.00,616.60 334.20,616.60 334.20,617.54 335.40,617.54 335.40,618.49 336.60,618.49 336.60,619.43 337.80,619.43 337.80,620.37 339.00,620.37 339.00,622.53 340.20,622.53 340.20,624.92 341.40,624.92 341.40,627.32 342.60,627.32 342.60,629.72 343.80,629.72 343.80,632.28 345.00,632.28 345.00,635.34 346.20,635.34 346.20,638.41 347.40,638.41 347.40,641.48 348.60,641.48 348.60,644.46 349.80,644.46 349.80,647.41 351.00,647.41 351.00,650.36 352.20,650.36 352.20,653.30 353.40,653.30 353.40,653.93 354.60,653.93 354.60,654.55 355.80,654.55 355.80,655.17 357.00,655.17 357.00,656.02 358.20,656.02 358.20,657.19 359.40,657.19 359.40,658.36 360.60,658.36 360.60,659.53 361.80,659.53 361.80,661.31 363.00,661.31 363.00,663.29 364.20,663.29 364.20,665.27 365.30,665.27 365.30,669.64 381.20,669.64 381.20,678.40 404.60,678.40 404.60,678.40" fill="none" stroke="#1cb2d6" stroke-width="1.2"/>
<line x1="334.20" y1="616.34" x2="334.20" y2="618.74" stroke="#1cb2d6" stroke-width="0.7"/>
<line x1="336.60" y1="618.23" x2="336.60" y2="620.63" stroke="#1cb2d6" stroke-width="0.7"/>
<line x1="339.00" y1="621.33" x2="339.00" y2="623.73" stroke="#1cb2d6" stroke-width="0.7"/>
<line x1="341.40" y1="626.12" x2="341.40" y2="628.52" stroke="#1cb2d6" stroke-width="0.7"/>
<line x1="343.80" y1="631.08" x2="343.80" y2="633.48" stroke="#1cb2d6" stroke-width="0.7"/>
<line x1="346.20" y1="637.21" x2="346.20" y2="639.61" stroke="#1cb2d6" stroke-width="0.7"/>
<line x1="348.60" y1="643.26" x2="348.60" y2="645.66" stroke="#1cb2d6" stroke-width="0.7"/>
<line x1="351.00" y1="649.16" x2="351.00" y2="651.56" stroke="#1cb2d6" stroke-width="0.7"/>
<line x1="353.40" y1="652.73" x2="353.40" y2="655.13" stroke="#1cb2d6" stroke-width="0.7"/>
<line x1="355.80" y1="653.97" x2="355.80" y2="656.37" stroke="#1cb2d6" stroke-width="0.7"/>
<line x1="358.20" y1="655.99" x2="358.20" y2="658.39" stroke="#1cb2d6" stroke-width="0.7"/>
<line x1="360.60" y1="658.33" x2="360.60" y2="660.73" stroke="#1cb2d6" stroke-width="0.7"/>
<line x1="363.00" y1="662.09" x2="363.00" y2="664.49" stroke="#1cb2d6" stroke-width="0.7"/>
<line x1="365.30" y1="668.44" x2="365.30" y2="670.84" stroke="#1cb2d6" stroke-width="0.7"/>
<line x1="404.60" y1="677.20" x2="404.60" y2="679.60" stroke="#1cb2d6" stroke-width="0.7"/>
<polyline points="333.00,616.60 334.01,616.60 334.01,619.61 335.03,619.61 335.03,622.62 336.05,622.62 336.05,626.00 337.06,626.00 337.06,630.56 338.07,630.56 338.07,635.11 339.09,635.11 339.09,639.67 340.11,639.67 340.11,644.26 341.12,644.26 341.12,648.91 342.13,648.91 342.13,653.57 343.15,653.57 343.15,658.22 344.17,658.22 344.17,662.57 345.18,662.57 345.18,666.75 346.19,666.75 346.19,670.94 347.21,670.94 347.21,675.11 348.23,675.11 348.23,677.48 349.24,677.48 349.24,679.84 350.25,679.84 350.25,681.73 351.27,681.73 351.27,682.23 352.29,682.23 352.29,682.72 353.30,682.72 353.30,683.22 358.70,683.22 358.70,686.70 403.50,686.70 403.50,686.70" fill="none" stroke="#f04a34" stroke-width="1.2"/>
<line x1="334.01" y1="618.41" x2="334.01" y2="620.81" stroke="#f04a34" stroke-width="0.7"/>
<line x1="336.05" y1="624.80" x2="336.05" y2="627.20" stroke="#f04a34" stroke-width="0.7"/>
<line x1="338.07" y1="633.91" x2="338.07" y2="636.31" stroke="#f04a34" stroke-width="0.7"/>
<line x1="340.11" y1="643.06" x2="340.11" y2="645.46" stroke="#f04a34" stroke-width="0.7"/>
<line x1="342.13" y1="652.37" x2="342.13" y2="654.77" stroke="#f04a34" stroke-width="0.7"/>
<line x1="344.17" y1="661.37" x2="344.17" y2="663.77" stroke="#f04a34" stroke-width="0.7"/>
<line x1="346.19" y1="669.74" x2="346.19" y2="672.14" stroke="#f04a34" stroke-width="0.7"/>
<line x1="348.23" y1="676.28" x2="348.23" y2="678.68" stroke="#f04a34" stroke-width="0.7"/>
<line x1="350.25" y1="680.53" x2="350.25" y2="682.93" stroke="#f04a34" stroke-width="0.7"/>
<line x1="352.29" y1="681.52" x2="352.29" y2="683.92" stroke="#f04a34" stroke-width="0.7"/>
<line x1="358.70" y1="685.50" x2="358.70" y2="687.90" stroke="#f04a34" stroke-width="0.7"/>
<text x="382.70" y="618.80" font-size="4.3" fill="#333" text-anchor="start" font-weight="normal">Stage I&amp;II</text>
<line x1="383.70" y1="623.40" x2="387.90" y2="623.40" stroke="#1eb2d2" stroke-width="0.8"/>
<line x1="383.70" y1="628.00" x2="387.90" y2="628.00" stroke="#f0503e" stroke-width="0.8"/>
<text x="389.20" y="624.90" font-size="4.4" fill="#333" text-anchor="start" font-weight="normal" textLength="15.5" lengthAdjust="spacingAndGlyphs">Low risk</text>
<text x="389.20" y="629.50" font-size="4.4" fill="#333" text-anchor="start" font-weight="normal" textLength="16.5" lengthAdjust="spacingAndGlyphs">High risk</text>
<text x="332.20" y="681.10" font-size="4.5" fill="#222" text-anchor="start" font-weight="normal" textLength="42" lengthAdjust="spacingAndGlyphs">HR = 2.76 (1.90 - 4.03)</text>
<text x="332.20" y="685.70" font-size="4.5" fill="#222" text-anchor="start" font-weight="normal">P &lt; 0.001</text>
<line x1="455.30" y1="613.50" x2="455.30" y2="689.30" stroke="#333" stroke-width="0.8"/>
<line x1="455.30" y1="689.30" x2="526.60" y2="689.30" stroke="#333" stroke-width="0.8"/>
<line x1="453.90" y1="616.20" x2="455.30" y2="616.20" stroke="#333" stroke-width="0.6"/>
<text x="453.30" y="617.90" font-size="4.8" fill="#222" text-anchor="end" font-weight="normal">1.00</text>
<line x1="453.90" y1="635.50" x2="455.30" y2="635.50" stroke="#333" stroke-width="0.6"/>
<text x="453.30" y="637.20" font-size="4.8" fill="#222" text-anchor="end" font-weight="normal">0.75</text>
<line x1="453.90" y1="654.80" x2="455.30" y2="654.80" stroke="#333" stroke-width="0.6"/>
<text x="453.30" y="656.50" font-size="4.8" fill="#222" text-anchor="end" font-weight="normal">0.50</text>
<line x1="453.90" y1="674.10" x2="455.30" y2="674.10" stroke="#333" stroke-width="0.6"/>
<text x="453.30" y="675.80" font-size="4.8" fill="#222" text-anchor="end" font-weight="normal">0.25</text>
<line x1="455.80" y1="689.30" x2="455.80" y2="690.70" stroke="#333" stroke-width="0.6"/>
<text x="455.80" y="695.90" font-size="4.7" fill="#222" text-anchor="middle" font-weight="normal">0.0</text>
<line x1="471.85" y1="689.30" x2="471.85" y2="690.70" stroke="#333" stroke-width="0.6"/>
<text x="471.85" y="695.90" font-size="4.7" fill="#222" text-anchor="middle" font-weight="normal">2.5</text>
<line x1="487.90" y1="689.30" x2="487.90" y2="690.70" stroke="#333" stroke-width="0.6"/>
<text x="487.90" y="695.90" font-size="4.7" fill="#222" text-anchor="middle" font-weight="normal">5.0</text>
<line x1="503.95" y1="689.30" x2="503.95" y2="690.70" stroke="#333" stroke-width="0.6"/>
<text x="503.95" y="695.90" font-size="4.7" fill="#222" text-anchor="middle" font-weight="normal">7.5</text>
<line x1="520.00" y1="689.30" x2="520.00" y2="690.70" stroke="#333" stroke-width="0.6"/>
<text x="520.00" y="695.90" font-size="4.7" fill="#222" text-anchor="middle" font-weight="normal">10.0</text>
<text x="490.95" y="701.60" font-size="4.9" fill="#222" text-anchor="middle" font-weight="normal" textLength="15" lengthAdjust="spacingAndGlyphs">Months</text>
<text x="442.90" y="651.40" font-size="4.8" fill="#333" text-anchor="middle" font-weight="normal" transform="rotate(-90 442.90000000000003 651.4)" textLength="38.5" lengthAdjust="spacingAndGlyphs">Survival probability</text>
<polyline points="455.80,616.20 457.01,616.20 457.01,618.25 458.23,618.25 458.23,620.30 459.44,620.30 459.44,622.28 460.65,622.28 460.65,624.15 461.86,624.15 461.86,626.02 463.07,626.02 463.07,628.01 464.29,628.01 464.29,631.76 465.50,631.76 465.50,635.50 471.10,635.50 471.10,645.54 472.00,645.54 472.00,645.54 473.60,645.54 473.60,654.80 479.20,654.80 479.20,664.06 486.40,664.06 486.40,670.24 503.70,670.24 503.70,677.96 526.60,677.96 526.60,677.96" fill="none" stroke="#1cb2d6" stroke-width="1.2"/>
<line x1="457.01" y1="617.05" x2="457.01" y2="619.45" stroke="#1cb2d6" stroke-width="0.7"/>
<line x1="459.44" y1="621.08" x2="459.44" y2="623.48" stroke="#1cb2d6" stroke-width="0.7"/>
<line x1="461.86" y1="624.82" x2="461.86" y2="627.22" stroke="#1cb2d6" stroke-width="0.7"/>
<line x1="464.29" y1="630.56" x2="464.29" y2="632.96" stroke="#1cb2d6" stroke-width="0.7"/>
<line x1="471.10" y1="644.34" x2="471.10" y2="646.74" stroke="#1cb2d6" stroke-width="0.7"/>
<line x1="473.60" y1="653.60" x2="473.60" y2="656.00" stroke="#1cb2d6" stroke-width="0.7"/>
<line x1="486.40" y1="669.04" x2="486.40" y2="671.44" stroke="#1cb2d6" stroke-width="0.7"/>
<line x1="526.60" y1="676.76" x2="526.60" y2="679.16" stroke="#1cb2d6" stroke-width="0.7"/>
<polyline points="455.80,616.20 456.81,616.20 456.81,619.03 457.82,619.03 457.82,621.86 458.82,621.86 458.82,624.60 459.83,624.60 459.83,627.32 460.84,627.32 460.84,630.72 461.85,630.72 461.85,634.26 462.85,634.26 462.85,637.66 463.86,637.66 463.86,641.00 464.87,641.00 464.87,644.33 465.88,644.33 465.88,647.28 466.88,647.28 466.88,650.17 467.89,650.17 467.89,653.06 468.90,653.06 468.90,655.77 469.91,655.77 469.91,658.22 470.92,658.22 470.92,660.66 471.92,660.66 471.92,663.11 472.93,663.11 472.93,665.04 473.94,665.04 473.94,666.93 474.95,666.93 474.95,668.82 475.95,668.82 475.95,670.70 476.96,670.70 476.96,672.50 477.97,672.50 477.97,674.31 478.98,674.31 478.98,676.12 479.98,676.12 479.98,677.93 480.99,677.93 480.99,679.49 482.00,679.49 482.00,681.05 497.80,681.05 497.80,685.68 500.40,685.68 500.40,685.68" fill="none" stroke="#f04a34" stroke-width="1.2"/>
<line x1="456.81" y1="617.83" x2="456.81" y2="620.23" stroke="#f04a34" stroke-width="0.7"/>
<line x1="458.82" y1="623.40" x2="458.82" y2="625.80" stroke="#f04a34" stroke-width="0.7"/>
<line x1="460.84" y1="629.52" x2="460.84" y2="631.92" stroke="#f04a34" stroke-width="0.7"/>
<line x1="462.85" y1="636.46" x2="462.85" y2="638.86" stroke="#f04a34" stroke-width="0.7"/>
<line x1="464.87" y1="643.13" x2="464.87" y2="645.53" stroke="#f04a34" stroke-width="0.7"/>
<line x1="466.88" y1="648.97" x2="466.88" y2="651.37" stroke="#f04a34" stroke-width="0.7"/>
<line x1="468.90" y1="654.57" x2="468.90" y2="656.97" stroke="#f04a34" stroke-width="0.7"/>
<line x1="470.92" y1="659.46" x2="470.92" y2="661.86" stroke="#f04a34" stroke-width="0.7"/>
<line x1="472.93" y1="663.84" x2="472.93" y2="666.24" stroke="#f04a34" stroke-width="0.7"/>
<line x1="474.95" y1="667.62" x2="474.95" y2="670.02" stroke="#f04a34" stroke-width="0.7"/>
<line x1="476.96" y1="671.30" x2="476.96" y2="673.70" stroke="#f04a34" stroke-width="0.7"/>
<line x1="478.98" y1="674.92" x2="478.98" y2="677.32" stroke="#f04a34" stroke-width="0.7"/>
<line x1="480.99" y1="678.29" x2="480.99" y2="680.69" stroke="#f04a34" stroke-width="0.7"/>
<line x1="497.80" y1="684.48" x2="497.80" y2="686.88" stroke="#f04a34" stroke-width="0.7"/>
<text x="502.90" y="618.20" font-size="4.3" fill="#333" text-anchor="start" font-weight="normal">Stage III&amp;IV</text>
<line x1="503.90" y1="622.80" x2="508.10" y2="622.80" stroke="#1eb2d2" stroke-width="0.8"/>
<line x1="503.90" y1="627.40" x2="508.10" y2="627.40" stroke="#f0503e" stroke-width="0.8"/>
<text x="509.40" y="624.30" font-size="4.4" fill="#333" text-anchor="start" font-weight="normal" textLength="15.5" lengthAdjust="spacingAndGlyphs">Low risk</text>
<text x="509.40" y="628.90" font-size="4.4" fill="#333" text-anchor="start" font-weight="normal" textLength="16.5" lengthAdjust="spacingAndGlyphs">High risk</text>
<text x="457.10" y="681.40" font-size="4.5" fill="#222" text-anchor="start" font-weight="normal" textLength="42" lengthAdjust="spacingAndGlyphs">HR = 2.39 (1.30 - 4.52)</text>
<text x="457.10" y="686.00" font-size="4.5" fill="#222" text-anchor="start" font-weight="normal">P = 0.007</text>
</svg></body></html>
